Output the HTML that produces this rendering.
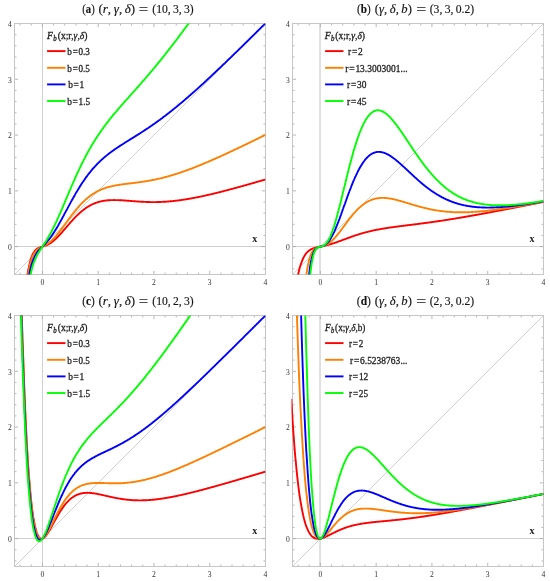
<!DOCTYPE html>
<html><head><meta charset="utf-8"><style>
html,body{margin:0;padding:0;background:#fff;}
svg{display:block;}
text{font-family:"Liberation Serif","DejaVu Serif",serif;fill:#222;}
.tl{font-size:7.6px;fill:#333;}
.tt{font-size:11.6px;fill:#151515;stroke:#151515;stroke-width:0.15px;}
.tb{font-weight:bold;}
.teq{font-size:14px;}
.lt{font-size:10.0px;stroke:#222;stroke-width:0.3px;}
.lg{font-size:9.5px;stroke:#222;stroke-width:0.28px;}
.xl{font-size:10px;font-weight:bold;}
</style></head><body>
<svg width="550" height="581" viewBox="0 0 550 581">
<rect width="550" height="581" fill="#fff"/>
<clipPath id="c0"><rect x="13.50" y="23.50" width="252.00" height="251.00"/></clipPath>
<line x1="14.50" y1="274.50" x2="265.50" y2="23.50" stroke="#d2d2d2" stroke-width="1.0"/>
<line x1="14.50" y1="246.50" x2="265.50" y2="246.50" stroke="#d0d0d0" stroke-width="1.0"/>
<line x1="42.50" y1="23.50" x2="42.50" y2="274.50" stroke="#d0d0d0" stroke-width="1.0"/>
<path d="M20.08,274.50v-2.00M20.08,23.50v2.00M14.50,268.92h2.00M265.50,268.92h-2.00M31.23,274.50v-2.00M31.23,23.50v2.00M14.50,257.77h2.00M265.50,257.77h-2.00M42.39,274.50v-3.60M42.39,23.50v3.60M14.50,246.61h3.60M265.50,246.61h-3.60M53.54,274.50v-2.00M53.54,23.50v2.00M14.50,235.46h2.00M265.50,235.46h-2.00M64.70,274.50v-2.00M64.70,23.50v2.00M14.50,224.30h2.00M265.50,224.30h-2.00M75.86,274.50v-2.00M75.86,23.50v2.00M14.50,213.14h2.00M265.50,213.14h-2.00M87.01,274.50v-2.00M87.01,23.50v2.00M14.50,201.99h2.00M265.50,201.99h-2.00M98.17,274.50v-3.60M98.17,23.50v3.60M14.50,190.83h3.60M265.50,190.83h-3.60M109.32,274.50v-2.00M109.32,23.50v2.00M14.50,179.68h2.00M265.50,179.68h-2.00M120.48,274.50v-2.00M120.48,23.50v2.00M14.50,168.52h2.00M265.50,168.52h-2.00M131.63,274.50v-2.00M131.63,23.50v2.00M14.50,157.37h2.00M265.50,157.37h-2.00M142.79,274.50v-2.00M142.79,23.50v2.00M14.50,146.21h2.00M265.50,146.21h-2.00M153.94,274.50v-3.60M153.94,23.50v3.60M14.50,135.06h3.60M265.50,135.06h-3.60M165.10,274.50v-2.00M165.10,23.50v2.00M14.50,123.90h2.00M265.50,123.90h-2.00M176.26,274.50v-2.00M176.26,23.50v2.00M14.50,112.74h2.00M265.50,112.74h-2.00M187.41,274.50v-2.00M187.41,23.50v2.00M14.50,101.59h2.00M265.50,101.59h-2.00M198.57,274.50v-2.00M198.57,23.50v2.00M14.50,90.43h2.00M265.50,90.43h-2.00M209.72,274.50v-3.60M209.72,23.50v3.60M14.50,79.28h3.60M265.50,79.28h-3.60M220.88,274.50v-2.00M220.88,23.50v2.00M14.50,68.12h2.00M265.50,68.12h-2.00M232.03,274.50v-2.00M232.03,23.50v2.00M14.50,56.97h2.00M265.50,56.97h-2.00M243.19,274.50v-2.00M243.19,23.50v2.00M14.50,45.81h2.00M265.50,45.81h-2.00M254.34,274.50v-2.00M254.34,23.50v2.00M14.50,34.66h2.00M265.50,34.66h-2.00M265.50,274.50v-3.60M265.50,23.50v3.60M14.50,23.50h3.60M265.50,23.50h-3.60" stroke="#a4a4a4" stroke-width="0.8" fill="none"/>
<rect x="14.50" y="23.50" width="251.00" height="251.00" fill="none" stroke="#c6c6c6" stroke-width="1.0"/>
<text x="42.39" y="285.10" class="tl" text-anchor="middle">0</text>
<text x="11.70" y="249.86" class="tl" text-anchor="end">0</text>
<text x="98.17" y="285.10" class="tl" text-anchor="middle">1</text>
<text x="11.70" y="194.08" class="tl" text-anchor="end">1</text>
<text x="153.94" y="285.10" class="tl" text-anchor="middle">2</text>
<text x="11.70" y="138.31" class="tl" text-anchor="end">2</text>
<text x="209.72" y="285.10" class="tl" text-anchor="middle">3</text>
<text x="11.70" y="82.53" class="tl" text-anchor="end">3</text>
<text x="265.50" y="285.10" class="tl" text-anchor="middle">4</text>
<text x="11.70" y="26.75" class="tl" text-anchor="end">4</text>
<g clip-path="url(#c0)" fill="none" stroke-width="1.9" stroke-linejoin="round">
<path d="M13.3,291.2 L13.7,291.2 L14.1,291.2 L14.5,291.2 L14.9,291.2 L15.3,291.2 L15.7,291.2 L16.1,291.2 L16.5,291.2 L16.9,291.2 L17.3,291.2 L17.8,291.2 L18.2,291.2 L18.6,291.2 L19.0,291.2 L19.4,291.2 L19.8,291.2 L20.2,291.2 L20.6,291.2 L21.0,291.2 L21.4,291.2 L21.8,291.2 L22.2,291.2 L22.6,291.2 L23.1,291.2 L23.5,291.2 L23.9,291.2 L24.3,291.2 L24.7,291.2 L25.1,291.2 L25.5,290.1 L25.9,286.5 L26.3,283.1 L26.7,280.0 L27.1,277.2 L27.5,274.5 L27.9,272.0 L28.3,269.7 L28.8,267.7 L29.2,265.7 L29.6,263.9 L30.0,262.3 L30.4,260.8 L30.8,259.4 L31.2,258.2 L31.6,257.0 L32.0,256.0 L32.4,255.0 L32.8,254.2 L33.2,253.4 L33.6,252.7 L34.1,252.0 L34.5,251.4 L34.9,250.9 L35.3,250.4 L35.7,250.0 L36.1,249.6 L36.5,249.3 L36.9,249.0 L37.3,248.7 L37.7,248.4 L38.1,248.2 L38.5,248.0 L38.9,247.8 L39.4,247.6 L39.8,247.5 L40.2,247.3 L40.6,247.2 L41.0,247.0 L41.4,246.9 L41.8,246.8 L42.2,246.7 L42.6,246.5 L43.0,246.4 L43.4,246.3 L43.8,246.2 L44.2,246.0 L44.6,245.9 L45.1,245.8 L45.5,245.6 L45.9,245.5 L46.3,245.3 L46.7,245.1 L47.1,244.9 L47.5,244.8 L47.9,244.6 L48.3,244.3 L48.7,244.1 L49.1,243.9 L49.5,243.7 L49.9,243.4 L50.4,243.2 L50.8,242.9 L51.2,242.6 L51.6,242.3 L52.0,242.0 L52.4,241.7 L52.8,241.4 L53.2,241.1 L53.6,240.8 L54.0,240.4 L54.4,240.1 L54.8,239.7 L55.2,239.3 L55.7,239.0 L56.1,238.6 L56.5,238.2 L56.9,237.8 L57.3,237.4 L57.7,237.0 L58.1,236.5 L58.5,236.1 L58.9,235.7 L59.3,235.3 L59.7,234.8 L60.1,234.4 L60.5,233.9 L60.9,233.5 L61.4,233.0 L61.8,232.6 L62.2,232.1 L62.6,231.6 L63.0,231.2 L63.4,230.7 L63.8,230.2 L64.2,229.7 L64.6,229.3 L65.0,228.8 L65.4,228.3 L65.8,227.8 L66.2,227.4 L66.7,226.9 L67.1,226.4 L67.5,225.9 L67.9,225.5 L68.3,225.0 L68.7,224.5 L69.1,224.0 L69.5,223.6 L69.9,223.1 L70.3,222.6 L70.7,222.2 L71.1,221.7 L71.5,221.3 L71.9,220.8 L72.4,220.4 L72.8,219.9 L73.2,219.5 L73.6,219.0 L74.0,218.6 L74.4,218.2 L74.8,217.7 L75.2,217.3 L75.6,216.9 L76.0,216.5 L76.4,216.1 L76.8,215.7 L77.2,215.3 L77.7,214.9 L78.1,214.5 L78.5,214.1 L78.9,213.7 L79.3,213.4 L79.7,213.0 L80.1,212.6 L80.5,212.3 L80.9,211.9 L81.3,211.6 L81.7,211.2 L82.1,210.9 L82.5,210.6 L83.0,210.2 L83.4,209.9 L83.8,209.6 L84.2,209.3 L84.6,209.0 L85.0,208.7 L85.4,208.4 L85.8,208.1 L86.2,207.8 L86.6,207.6 L87.0,207.3 L87.4,207.0 L87.8,206.8 L88.2,206.5 L88.7,206.3 L89.1,206.1 L89.5,205.8 L89.9,205.6 L90.3,205.4 L90.7,205.2 L91.1,204.9 L91.5,204.7 L91.9,204.5 L92.3,204.3 L92.7,204.2 L93.1,204.0 L93.5,203.8 L94.0,203.6 L94.4,203.5 L94.8,203.3 L95.2,203.1 L95.6,203.0 L96.0,202.8 L96.4,202.7 L96.8,202.5 L97.2,202.4 L97.6,202.3 L98.0,202.1 L98.4,202.0 L98.8,201.9 L99.3,201.8 L99.7,201.7 L100.1,201.6 L100.5,201.5 L100.9,201.4 L101.3,201.3 L101.7,201.2 L102.1,201.1 L102.5,201.0 L102.9,201.0 L103.3,200.9 L103.7,200.8 L104.1,200.8 L104.5,200.7 L105.0,200.6 L105.4,200.6 L105.8,200.5 L106.2,200.5 L106.6,200.4 L107.0,200.4 L107.4,200.3 L107.8,200.3 L108.2,200.3 L108.6,200.2 L109.0,200.2 L109.4,200.2 L109.8,200.2 L110.3,200.1 L110.7,200.1 L111.1,200.1 L111.5,200.1 L111.9,200.1 L112.3,200.1 L112.7,200.1 L113.1,200.1 L113.5,200.1 L113.9,200.0 L114.3,200.0 L114.7,200.1 L115.1,200.1 L115.5,200.1 L116.0,200.1 L116.4,200.1 L116.8,200.1 L117.2,200.1 L117.6,200.1 L118.0,200.1 L118.4,200.1 L118.8,200.2 L119.2,200.2 L119.6,200.2 L120.0,200.2 L120.4,200.2 L120.8,200.3 L121.3,200.3 L121.7,200.3 L122.1,200.3 L122.5,200.3 L122.9,200.4 L123.3,200.4 L123.7,200.4 L124.1,200.5 L124.5,200.5 L124.9,200.5 L125.3,200.5 L125.7,200.6 L126.1,200.6 L126.6,200.6 L127.0,200.7 L127.4,200.7 L127.8,200.7 L128.2,200.8 L128.6,200.8 L129.0,200.8 L129.4,200.9 L129.8,200.9 L130.2,200.9 L130.6,201.0 L131.0,201.0 L131.4,201.0 L131.8,201.1 L132.3,201.1 L132.7,201.1 L133.1,201.1 L133.5,201.2 L133.9,201.2 L134.3,201.2 L134.7,201.3 L135.1,201.3 L135.5,201.3 L135.9,201.4 L136.3,201.4 L136.7,201.4 L137.1,201.5 L137.6,201.5 L138.0,201.5 L138.4,201.5 L138.8,201.6 L139.2,201.6 L139.6,201.6 L140.0,201.6 L140.4,201.7 L140.8,201.7 L141.2,201.7 L141.6,201.7 L142.0,201.8 L142.4,201.8 L142.8,201.8 L143.3,201.8 L143.7,201.8 L144.1,201.9 L144.5,201.9 L144.9,201.9 L145.3,201.9 L145.7,201.9 L146.1,201.9 L146.5,202.0 L146.9,202.0 L147.3,202.0 L147.7,202.0 L148.1,202.0 L148.6,202.0 L149.0,202.0 L149.4,202.0 L149.8,202.0 L150.2,202.1 L150.6,202.1 L151.0,202.1 L151.4,202.1 L151.8,202.1 L152.2,202.1 L152.6,202.1 L153.0,202.1 L153.4,202.1 L153.9,202.1 L154.3,202.1 L154.7,202.1 L155.1,202.1 L155.5,202.1 L155.9,202.1 L156.3,202.1 L156.7,202.1 L157.1,202.0 L157.5,202.0 L157.9,202.0 L158.3,202.0 L158.7,202.0 L159.1,202.0 L159.6,202.0 L160.0,202.0 L160.4,202.0 L160.8,201.9 L161.2,201.9 L161.6,201.9 L162.0,201.9 L162.4,201.9 L162.8,201.8 L163.2,201.8 L163.6,201.8 L164.0,201.8 L164.4,201.8 L164.9,201.7 L165.3,201.7 L165.7,201.7 L166.1,201.7 L166.5,201.6 L166.9,201.6 L167.3,201.6 L167.7,201.5 L168.1,201.5 L168.5,201.5 L168.9,201.4 L169.3,201.4 L169.7,201.4 L170.2,201.3 L170.6,201.3 L171.0,201.3 L171.4,201.2 L171.8,201.2 L172.2,201.1 L172.6,201.1 L173.0,201.1 L173.4,201.0 L173.8,201.0 L174.2,200.9 L174.6,200.9 L175.0,200.8 L175.4,200.8 L175.9,200.7 L176.3,200.7 L176.7,200.6 L177.1,200.6 L177.5,200.5 L177.9,200.5 L178.3,200.4 L178.7,200.4 L179.1,200.3 L179.5,200.3 L179.9,200.2 L180.3,200.2 L180.7,200.1 L181.2,200.1 L181.6,200.0 L182.0,199.9 L182.4,199.9 L182.8,199.8 L183.2,199.8 L183.6,199.7 L184.0,199.6 L184.4,199.6 L184.8,199.5 L185.2,199.4 L185.6,199.4 L186.0,199.3 L186.4,199.2 L186.9,199.2 L187.3,199.1 L187.7,199.0 L188.1,199.0 L188.5,198.9 L188.9,198.8 L189.3,198.8 L189.7,198.7 L190.1,198.6 L190.5,198.5 L190.9,198.5 L191.3,198.4 L191.7,198.3 L192.2,198.3 L192.6,198.2 L193.0,198.1 L193.4,198.0 L193.8,197.9 L194.2,197.9 L194.6,197.8 L195.0,197.7 L195.4,197.6 L195.8,197.6 L196.2,197.5 L196.6,197.4 L197.0,197.3 L197.5,197.2 L197.9,197.1 L198.3,197.1 L198.7,197.0 L199.1,196.9 L199.5,196.8 L199.9,196.7 L200.3,196.6 L200.7,196.6 L201.1,196.5 L201.5,196.4 L201.9,196.3 L202.3,196.2 L202.7,196.1 L203.2,196.0 L203.6,195.9 L204.0,195.9 L204.4,195.8 L204.8,195.7 L205.2,195.6 L205.6,195.5 L206.0,195.4 L206.4,195.3 L206.8,195.2 L207.2,195.1 L207.6,195.0 L208.0,194.9 L208.5,194.8 L208.9,194.8 L209.3,194.7 L209.7,194.6 L210.1,194.5 L210.5,194.4 L210.9,194.3 L211.3,194.2 L211.7,194.1 L212.1,194.0 L212.5,193.9 L212.9,193.8 L213.3,193.7 L213.8,193.6 L214.2,193.5 L214.6,193.4 L215.0,193.3 L215.4,193.2 L215.8,193.1 L216.2,193.0 L216.6,192.9 L217.0,192.8 L217.4,192.7 L217.8,192.6 L218.2,192.5 L218.6,192.4 L219.0,192.3 L219.5,192.2 L219.9,192.1 L220.3,192.0 L220.7,191.9 L221.1,191.8 L221.5,191.7 L221.9,191.6 L222.3,191.5 L222.7,191.4 L223.1,191.3 L223.5,191.1 L223.9,191.0 L224.3,190.9 L224.8,190.8 L225.2,190.7 L225.6,190.6 L226.0,190.5 L226.4,190.4 L226.8,190.3 L227.2,190.2 L227.6,190.1 L228.0,190.0 L228.4,189.9 L228.8,189.8 L229.2,189.7 L229.6,189.5 L230.0,189.4 L230.5,189.3 L230.9,189.2 L231.3,189.1 L231.7,189.0 L232.1,188.9 L232.5,188.8 L232.9,188.7 L233.3,188.6 L233.7,188.4 L234.1,188.3 L234.5,188.2 L234.9,188.1 L235.3,188.0 L235.8,187.9 L236.2,187.8 L236.6,187.7 L237.0,187.6 L237.4,187.4 L237.8,187.3 L238.2,187.2 L238.6,187.1 L239.0,187.0 L239.4,186.9 L239.8,186.8 L240.2,186.7 L240.6,186.5 L241.1,186.4 L241.5,186.3 L241.9,186.2 L242.3,186.1 L242.7,186.0 L243.1,185.9 L243.5,185.8 L243.9,185.6 L244.3,185.5 L244.7,185.4 L245.1,185.3 L245.5,185.2 L245.9,185.1 L246.3,185.0 L246.8,184.8 L247.2,184.7 L247.6,184.6 L248.0,184.5 L248.4,184.4 L248.8,184.3 L249.2,184.1 L249.6,184.0 L250.0,183.9 L250.4,183.8 L250.8,183.7 L251.2,183.6 L251.6,183.5 L252.1,183.3 L252.5,183.2 L252.9,183.1 L253.3,183.0 L253.7,182.9 L254.1,182.8 L254.5,182.6 L254.9,182.5 L255.3,182.4 L255.7,182.3 L256.1,182.2 L256.5,182.1 L256.9,181.9 L257.4,181.8 L257.8,181.7 L258.2,181.6 L258.6,181.5 L259.0,181.3 L259.4,181.2 L259.8,181.1 L260.2,181.0 L260.6,180.9 L261.0,180.8 L261.4,180.6 L261.8,180.5 L262.2,180.4 L262.6,180.3 L263.1,180.2 L263.5,180.1 L263.9,179.9 L264.3,179.8 L264.7,179.7 L265.1,179.6 L265.5,179.5" stroke="#ff0000"/>
<path d="M13.3,291.2 L13.7,291.2 L14.1,291.2 L14.5,291.2 L14.9,291.2 L15.3,291.2 L15.7,291.2 L16.1,291.2 L16.5,291.2 L16.9,291.2 L17.3,291.2 L17.8,291.2 L18.2,291.2 L18.6,291.2 L19.0,291.2 L19.4,291.2 L19.8,291.2 L20.2,291.2 L20.6,291.2 L21.0,291.2 L21.4,291.2 L21.8,291.2 L22.2,291.2 L22.6,291.2 L23.1,291.2 L23.5,291.2 L23.9,291.2 L24.3,291.2 L24.7,291.2 L25.1,291.2 L25.5,291.2 L25.9,289.8 L26.3,286.4 L26.7,283.2 L27.1,280.2 L27.5,277.5 L27.9,274.9 L28.3,272.6 L28.8,270.4 L29.2,268.4 L29.6,266.5 L30.0,264.8 L30.4,263.2 L30.8,261.8 L31.2,260.4 L31.6,259.2 L32.0,258.1 L32.4,257.0 L32.8,256.1 L33.2,255.2 L33.6,254.4 L34.1,253.7 L34.5,253.0 L34.9,252.4 L35.3,251.9 L35.7,251.4 L36.1,250.9 L36.5,250.5 L36.9,250.1 L37.3,249.7 L37.7,249.4 L38.1,249.1 L38.5,248.8 L38.9,248.5 L39.4,248.2 L39.8,248.0 L40.2,247.8 L40.6,247.5 L41.0,247.3 L41.4,247.1 L41.8,246.9 L42.2,246.7 L42.6,246.5 L43.0,246.3 L43.4,246.1 L43.8,245.9 L44.2,245.7 L44.6,245.4 L45.1,245.2 L45.5,245.0 L45.9,244.8 L46.3,244.5 L46.7,244.3 L47.1,244.0 L47.5,243.7 L47.9,243.4 L48.3,243.2 L48.7,242.9 L49.1,242.6 L49.5,242.2 L49.9,241.9 L50.4,241.6 L50.8,241.2 L51.2,240.9 L51.6,240.5 L52.0,240.1 L52.4,239.7 L52.8,239.3 L53.2,238.9 L53.6,238.5 L54.0,238.1 L54.4,237.7 L54.8,237.2 L55.2,236.8 L55.7,236.3 L56.1,235.8 L56.5,235.4 L56.9,234.9 L57.3,234.4 L57.7,233.9 L58.1,233.4 L58.5,232.9 L58.9,232.4 L59.3,231.9 L59.7,231.4 L60.1,230.8 L60.5,230.3 L60.9,229.8 L61.4,229.2 L61.8,228.7 L62.2,228.1 L62.6,227.6 L63.0,227.0 L63.4,226.5 L63.8,225.9 L64.2,225.4 L64.6,224.8 L65.0,224.3 L65.4,223.7 L65.8,223.1 L66.2,222.6 L66.7,222.0 L67.1,221.5 L67.5,220.9 L67.9,220.4 L68.3,219.8 L68.7,219.2 L69.1,218.7 L69.5,218.1 L69.9,217.6 L70.3,217.1 L70.7,216.5 L71.1,216.0 L71.5,215.4 L71.9,214.9 L72.4,214.4 L72.8,213.8 L73.2,213.3 L73.6,212.8 L74.0,212.3 L74.4,211.8 L74.8,211.3 L75.2,210.8 L75.6,210.3 L76.0,209.8 L76.4,209.3 L76.8,208.8 L77.2,208.3 L77.7,207.8 L78.1,207.4 L78.5,206.9 L78.9,206.4 L79.3,206.0 L79.7,205.5 L80.1,205.1 L80.5,204.6 L80.9,204.2 L81.3,203.8 L81.7,203.4 L82.1,202.9 L82.5,202.5 L83.0,202.1 L83.4,201.7 L83.8,201.3 L84.2,200.9 L84.6,200.6 L85.0,200.2 L85.4,199.8 L85.8,199.4 L86.2,199.1 L86.6,198.7 L87.0,198.4 L87.4,198.0 L87.8,197.7 L88.2,197.4 L88.7,197.0 L89.1,196.7 L89.5,196.4 L89.9,196.1 L90.3,195.8 L90.7,195.5 L91.1,195.2 L91.5,194.9 L91.9,194.6 L92.3,194.4 L92.7,194.1 L93.1,193.8 L93.5,193.6 L94.0,193.3 L94.4,193.1 L94.8,192.8 L95.2,192.6 L95.6,192.3 L96.0,192.1 L96.4,191.9 L96.8,191.7 L97.2,191.4 L97.6,191.2 L98.0,191.0 L98.4,190.8 L98.8,190.6 L99.3,190.4 L99.7,190.2 L100.1,190.1 L100.5,189.9 L100.9,189.7 L101.3,189.5 L101.7,189.3 L102.1,189.2 L102.5,189.0 L102.9,188.9 L103.3,188.7 L103.7,188.6 L104.1,188.4 L104.5,188.3 L105.0,188.1 L105.4,188.0 L105.8,187.9 L106.2,187.7 L106.6,187.6 L107.0,187.5 L107.4,187.3 L107.8,187.2 L108.2,187.1 L108.6,187.0 L109.0,186.9 L109.4,186.8 L109.8,186.7 L110.3,186.6 L110.7,186.5 L111.1,186.4 L111.5,186.3 L111.9,186.2 L112.3,186.1 L112.7,186.0 L113.1,185.9 L113.5,185.8 L113.9,185.7 L114.3,185.7 L114.7,185.6 L115.1,185.5 L115.5,185.4 L116.0,185.4 L116.4,185.3 L116.8,185.2 L117.2,185.1 L117.6,185.1 L118.0,185.0 L118.4,184.9 L118.8,184.9 L119.2,184.8 L119.6,184.7 L120.0,184.7 L120.4,184.6 L120.8,184.6 L121.3,184.5 L121.7,184.4 L122.1,184.4 L122.5,184.3 L122.9,184.3 L123.3,184.2 L123.7,184.2 L124.1,184.1 L124.5,184.1 L124.9,184.0 L125.3,184.0 L125.7,183.9 L126.1,183.9 L126.6,183.8 L127.0,183.8 L127.4,183.7 L127.8,183.7 L128.2,183.6 L128.6,183.6 L129.0,183.5 L129.4,183.5 L129.8,183.4 L130.2,183.4 L130.6,183.3 L131.0,183.3 L131.4,183.2 L131.8,183.2 L132.3,183.1 L132.7,183.1 L133.1,183.0 L133.5,183.0 L133.9,182.9 L134.3,182.9 L134.7,182.8 L135.1,182.8 L135.5,182.7 L135.9,182.7 L136.3,182.6 L136.7,182.6 L137.1,182.5 L137.6,182.4 L138.0,182.4 L138.4,182.3 L138.8,182.3 L139.2,182.2 L139.6,182.2 L140.0,182.1 L140.4,182.1 L140.8,182.0 L141.2,181.9 L141.6,181.9 L142.0,181.8 L142.4,181.8 L142.8,181.7 L143.3,181.6 L143.7,181.6 L144.1,181.5 L144.5,181.5 L144.9,181.4 L145.3,181.3 L145.7,181.3 L146.1,181.2 L146.5,181.1 L146.9,181.1 L147.3,181.0 L147.7,180.9 L148.1,180.9 L148.6,180.8 L149.0,180.7 L149.4,180.6 L149.8,180.6 L150.2,180.5 L150.6,180.4 L151.0,180.3 L151.4,180.3 L151.8,180.2 L152.2,180.1 L152.6,180.0 L153.0,180.0 L153.4,179.9 L153.9,179.8 L154.3,179.7 L154.7,179.6 L155.1,179.5 L155.5,179.5 L155.9,179.4 L156.3,179.3 L156.7,179.2 L157.1,179.1 L157.5,179.0 L157.9,178.9 L158.3,178.8 L158.7,178.7 L159.1,178.6 L159.6,178.6 L160.0,178.5 L160.4,178.4 L160.8,178.3 L161.2,178.2 L161.6,178.1 L162.0,178.0 L162.4,177.9 L162.8,177.8 L163.2,177.7 L163.6,177.6 L164.0,177.5 L164.4,177.3 L164.9,177.2 L165.3,177.1 L165.7,177.0 L166.1,176.9 L166.5,176.8 L166.9,176.7 L167.3,176.6 L167.7,176.5 L168.1,176.4 L168.5,176.2 L168.9,176.1 L169.3,176.0 L169.7,175.9 L170.2,175.8 L170.6,175.7 L171.0,175.5 L171.4,175.4 L171.8,175.3 L172.2,175.2 L172.6,175.1 L173.0,174.9 L173.4,174.8 L173.8,174.7 L174.2,174.6 L174.6,174.4 L175.0,174.3 L175.4,174.2 L175.9,174.0 L176.3,173.9 L176.7,173.8 L177.1,173.7 L177.5,173.5 L177.9,173.4 L178.3,173.3 L178.7,173.1 L179.1,173.0 L179.5,172.9 L179.9,172.7 L180.3,172.6 L180.7,172.4 L181.2,172.3 L181.6,172.2 L182.0,172.0 L182.4,171.9 L182.8,171.7 L183.2,171.6 L183.6,171.5 L184.0,171.3 L184.4,171.2 L184.8,171.0 L185.2,170.9 L185.6,170.7 L186.0,170.6 L186.4,170.4 L186.9,170.3 L187.3,170.1 L187.7,170.0 L188.1,169.8 L188.5,169.7 L188.9,169.5 L189.3,169.4 L189.7,169.2 L190.1,169.1 L190.5,168.9 L190.9,168.8 L191.3,168.6 L191.7,168.5 L192.2,168.3 L192.6,168.1 L193.0,168.0 L193.4,167.8 L193.8,167.7 L194.2,167.5 L194.6,167.4 L195.0,167.2 L195.4,167.0 L195.8,166.9 L196.2,166.7 L196.6,166.5 L197.0,166.4 L197.5,166.2 L197.9,166.1 L198.3,165.9 L198.7,165.7 L199.1,165.6 L199.5,165.4 L199.9,165.2 L200.3,165.1 L200.7,164.9 L201.1,164.7 L201.5,164.6 L201.9,164.4 L202.3,164.2 L202.7,164.1 L203.2,163.9 L203.6,163.7 L204.0,163.5 L204.4,163.4 L204.8,163.2 L205.2,163.0 L205.6,162.9 L206.0,162.7 L206.4,162.5 L206.8,162.3 L207.2,162.2 L207.6,162.0 L208.0,161.8 L208.5,161.6 L208.9,161.5 L209.3,161.3 L209.7,161.1 L210.1,160.9 L210.5,160.8 L210.9,160.6 L211.3,160.4 L211.7,160.2 L212.1,160.0 L212.5,159.9 L212.9,159.7 L213.3,159.5 L213.8,159.3 L214.2,159.1 L214.6,159.0 L215.0,158.8 L215.4,158.6 L215.8,158.4 L216.2,158.2 L216.6,158.1 L217.0,157.9 L217.4,157.7 L217.8,157.5 L218.2,157.3 L218.6,157.1 L219.0,157.0 L219.5,156.8 L219.9,156.6 L220.3,156.4 L220.7,156.2 L221.1,156.0 L221.5,155.8 L221.9,155.7 L222.3,155.5 L222.7,155.3 L223.1,155.1 L223.5,154.9 L223.9,154.7 L224.3,154.5 L224.8,154.4 L225.2,154.2 L225.6,154.0 L226.0,153.8 L226.4,153.6 L226.8,153.4 L227.2,153.2 L227.6,153.0 L228.0,152.9 L228.4,152.7 L228.8,152.5 L229.2,152.3 L229.6,152.1 L230.0,151.9 L230.5,151.7 L230.9,151.5 L231.3,151.3 L231.7,151.1 L232.1,150.9 L232.5,150.8 L232.9,150.6 L233.3,150.4 L233.7,150.2 L234.1,150.0 L234.5,149.8 L234.9,149.6 L235.3,149.4 L235.8,149.2 L236.2,149.0 L236.6,148.8 L237.0,148.6 L237.4,148.4 L237.8,148.3 L238.2,148.1 L238.6,147.9 L239.0,147.7 L239.4,147.5 L239.8,147.3 L240.2,147.1 L240.6,146.9 L241.1,146.7 L241.5,146.5 L241.9,146.3 L242.3,146.1 L242.7,145.9 L243.1,145.7 L243.5,145.5 L243.9,145.3 L244.3,145.1 L244.7,144.9 L245.1,144.8 L245.5,144.6 L245.9,144.4 L246.3,144.2 L246.8,144.0 L247.2,143.8 L247.6,143.6 L248.0,143.4 L248.4,143.2 L248.8,143.0 L249.2,142.8 L249.6,142.6 L250.0,142.4 L250.4,142.2 L250.8,142.0 L251.2,141.8 L251.6,141.6 L252.1,141.4 L252.5,141.2 L252.9,141.0 L253.3,140.8 L253.7,140.6 L254.1,140.4 L254.5,140.2 L254.9,140.0 L255.3,139.8 L255.7,139.6 L256.1,139.4 L256.5,139.2 L256.9,139.0 L257.4,138.8 L257.8,138.6 L258.2,138.4 L258.6,138.2 L259.0,138.0 L259.4,137.8 L259.8,137.6 L260.2,137.4 L260.6,137.2 L261.0,137.0 L261.4,136.8 L261.8,136.6 L262.2,136.4 L262.6,136.2 L263.1,136.0 L263.5,135.8 L263.9,135.6 L264.3,135.4 L264.7,135.2 L265.1,135.0 L265.5,134.8" stroke="#ff8000"/>
<path d="M13.3,291.2 L13.7,291.2 L14.1,291.2 L14.5,291.2 L14.9,291.2 L15.3,291.2 L15.7,291.2 L16.1,291.2 L16.5,291.2 L16.9,291.2 L17.3,291.2 L17.8,291.2 L18.2,291.2 L18.6,291.2 L19.0,291.2 L19.4,291.2 L19.8,291.2 L20.2,291.2 L20.6,291.2 L21.0,291.2 L21.4,291.2 L21.8,291.2 L22.2,291.2 L22.6,291.2 L23.1,291.2 L23.5,291.2 L23.9,291.2 L24.3,291.2 L24.7,291.2 L25.1,291.2 L25.5,291.2 L25.9,291.2 L26.3,291.2 L26.7,291.0 L27.1,287.8 L27.5,284.9 L27.9,282.1 L28.3,279.6 L28.8,277.2 L29.2,275.0 L29.6,272.9 L30.0,271.0 L30.4,269.2 L30.8,267.6 L31.2,266.0 L31.6,264.6 L32.0,263.2 L32.4,262.0 L32.8,260.9 L33.2,259.8 L33.6,258.8 L34.1,257.9 L34.5,257.0 L34.9,256.2 L35.3,255.4 L35.7,254.7 L36.1,254.0 L36.5,253.4 L36.9,252.8 L37.3,252.2 L37.7,251.7 L38.1,251.2 L38.5,250.7 L38.9,250.2 L39.4,249.8 L39.8,249.3 L40.2,248.9 L40.6,248.4 L41.0,248.0 L41.4,247.6 L41.8,247.2 L42.2,246.8 L42.6,246.4 L43.0,246.0 L43.4,245.6 L43.8,245.2 L44.2,244.7 L44.6,244.3 L45.1,243.9 L45.5,243.5 L45.9,243.0 L46.3,242.6 L46.7,242.1 L47.1,241.6 L47.5,241.2 L47.9,240.7 L48.3,240.2 L48.7,239.7 L49.1,239.2 L49.5,238.7 L49.9,238.1 L50.4,237.6 L50.8,237.0 L51.2,236.5 L51.6,235.9 L52.0,235.3 L52.4,234.7 L52.8,234.1 L53.2,233.5 L53.6,232.9 L54.0,232.3 L54.4,231.6 L54.8,231.0 L55.2,230.3 L55.7,229.7 L56.1,229.0 L56.5,228.3 L56.9,227.6 L57.3,227.0 L57.7,226.3 L58.1,225.6 L58.5,224.8 L58.9,224.1 L59.3,223.4 L59.7,222.7 L60.1,222.0 L60.5,221.2 L60.9,220.5 L61.4,219.7 L61.8,219.0 L62.2,218.2 L62.6,217.5 L63.0,216.7 L63.4,216.0 L63.8,215.2 L64.2,214.5 L64.6,213.7 L65.0,212.9 L65.4,212.2 L65.8,211.4 L66.2,210.7 L66.7,209.9 L67.1,209.1 L67.5,208.4 L67.9,207.6 L68.3,206.9 L68.7,206.1 L69.1,205.3 L69.5,204.6 L69.9,203.8 L70.3,203.1 L70.7,202.3 L71.1,201.6 L71.5,200.9 L71.9,200.1 L72.4,199.4 L72.8,198.7 L73.2,197.9 L73.6,197.2 L74.0,196.5 L74.4,195.8 L74.8,195.1 L75.2,194.3 L75.6,193.6 L76.0,192.9 L76.4,192.2 L76.8,191.6 L77.2,190.9 L77.7,190.2 L78.1,189.5 L78.5,188.8 L78.9,188.2 L79.3,187.5 L79.7,186.9 L80.1,186.2 L80.5,185.6 L80.9,184.9 L81.3,184.3 L81.7,183.7 L82.1,183.1 L82.5,182.4 L83.0,181.8 L83.4,181.2 L83.8,180.6 L84.2,180.0 L84.6,179.5 L85.0,178.9 L85.4,178.3 L85.8,177.7 L86.2,177.2 L86.6,176.6 L87.0,176.1 L87.4,175.5 L87.8,175.0 L88.2,174.4 L88.7,173.9 L89.1,173.4 L89.5,172.9 L89.9,172.4 L90.3,171.8 L90.7,171.3 L91.1,170.9 L91.5,170.4 L91.9,169.9 L92.3,169.4 L92.7,168.9 L93.1,168.4 L93.5,168.0 L94.0,167.5 L94.4,167.1 L94.8,166.6 L95.2,166.2 L95.6,165.7 L96.0,165.3 L96.4,164.9 L96.8,164.4 L97.2,164.0 L97.6,163.6 L98.0,163.2 L98.4,162.8 L98.8,162.4 L99.3,162.0 L99.7,161.6 L100.1,161.2 L100.5,160.8 L100.9,160.4 L101.3,160.1 L101.7,159.7 L102.1,159.3 L102.5,159.0 L102.9,158.6 L103.3,158.2 L103.7,157.9 L104.1,157.5 L104.5,157.2 L105.0,156.8 L105.4,156.5 L105.8,156.2 L106.2,155.8 L106.6,155.5 L107.0,155.2 L107.4,154.8 L107.8,154.5 L108.2,154.2 L108.6,153.9 L109.0,153.6 L109.4,153.3 L109.8,152.9 L110.3,152.6 L110.7,152.3 L111.1,152.0 L111.5,151.7 L111.9,151.4 L112.3,151.1 L112.7,150.8 L113.1,150.6 L113.5,150.3 L113.9,150.0 L114.3,149.7 L114.7,149.4 L115.1,149.1 L115.5,148.8 L116.0,148.6 L116.4,148.3 L116.8,148.0 L117.2,147.7 L117.6,147.5 L118.0,147.2 L118.4,146.9 L118.8,146.7 L119.2,146.4 L119.6,146.1 L120.0,145.9 L120.4,145.6 L120.8,145.3 L121.3,145.1 L121.7,144.8 L122.1,144.5 L122.5,144.3 L122.9,144.0 L123.3,143.8 L123.7,143.5 L124.1,143.3 L124.5,143.0 L124.9,142.7 L125.3,142.5 L125.7,142.2 L126.1,142.0 L126.6,141.7 L127.0,141.5 L127.4,141.2 L127.8,141.0 L128.2,140.7 L128.6,140.5 L129.0,140.2 L129.4,139.9 L129.8,139.7 L130.2,139.4 L130.6,139.2 L131.0,138.9 L131.4,138.7 L131.8,138.4 L132.3,138.2 L132.7,137.9 L133.1,137.7 L133.5,137.4 L133.9,137.2 L134.3,136.9 L134.7,136.7 L135.1,136.4 L135.5,136.1 L135.9,135.9 L136.3,135.6 L136.7,135.4 L137.1,135.1 L137.6,134.9 L138.0,134.6 L138.4,134.4 L138.8,134.1 L139.2,133.8 L139.6,133.6 L140.0,133.3 L140.4,133.1 L140.8,132.8 L141.2,132.5 L141.6,132.3 L142.0,132.0 L142.4,131.7 L142.8,131.5 L143.3,131.2 L143.7,130.9 L144.1,130.7 L144.5,130.4 L144.9,130.1 L145.3,129.9 L145.7,129.6 L146.1,129.3 L146.5,129.1 L146.9,128.8 L147.3,128.5 L147.7,128.3 L148.1,128.0 L148.6,127.7 L149.0,127.4 L149.4,127.2 L149.8,126.9 L150.2,126.6 L150.6,126.3 L151.0,126.0 L151.4,125.8 L151.8,125.5 L152.2,125.2 L152.6,124.9 L153.0,124.6 L153.4,124.3 L153.9,124.1 L154.3,123.8 L154.7,123.5 L155.1,123.2 L155.5,122.9 L155.9,122.6 L156.3,122.3 L156.7,122.0 L157.1,121.7 L157.5,121.4 L157.9,121.2 L158.3,120.9 L158.7,120.6 L159.1,120.3 L159.6,120.0 L160.0,119.7 L160.4,119.4 L160.8,119.1 L161.2,118.8 L161.6,118.5 L162.0,118.2 L162.4,117.9 L162.8,117.5 L163.2,117.2 L163.6,116.9 L164.0,116.6 L164.4,116.3 L164.9,116.0 L165.3,115.7 L165.7,115.4 L166.1,115.1 L166.5,114.8 L166.9,114.4 L167.3,114.1 L167.7,113.8 L168.1,113.5 L168.5,113.2 L168.9,112.9 L169.3,112.5 L169.7,112.2 L170.2,111.9 L170.6,111.6 L171.0,111.3 L171.4,110.9 L171.8,110.6 L172.2,110.3 L172.6,110.0 L173.0,109.6 L173.4,109.3 L173.8,109.0 L174.2,108.6 L174.6,108.3 L175.0,108.0 L175.4,107.6 L175.9,107.3 L176.3,107.0 L176.7,106.6 L177.1,106.3 L177.5,106.0 L177.9,105.6 L178.3,105.3 L178.7,105.0 L179.1,104.6 L179.5,104.3 L179.9,103.9 L180.3,103.6 L180.7,103.3 L181.2,102.9 L181.6,102.6 L182.0,102.2 L182.4,101.9 L182.8,101.5 L183.2,101.2 L183.6,100.9 L184.0,100.5 L184.4,100.2 L184.8,99.8 L185.2,99.5 L185.6,99.1 L186.0,98.8 L186.4,98.4 L186.9,98.1 L187.3,97.7 L187.7,97.3 L188.1,97.0 L188.5,96.6 L188.9,96.3 L189.3,95.9 L189.7,95.6 L190.1,95.2 L190.5,94.9 L190.9,94.5 L191.3,94.1 L191.7,93.8 L192.2,93.4 L192.6,93.1 L193.0,92.7 L193.4,92.3 L193.8,92.0 L194.2,91.6 L194.6,91.2 L195.0,90.9 L195.4,90.5 L195.8,90.2 L196.2,89.8 L196.6,89.4 L197.0,89.1 L197.5,88.7 L197.9,88.3 L198.3,88.0 L198.7,87.6 L199.1,87.2 L199.5,86.8 L199.9,86.5 L200.3,86.1 L200.7,85.7 L201.1,85.4 L201.5,85.0 L201.9,84.6 L202.3,84.2 L202.7,83.9 L203.2,83.5 L203.6,83.1 L204.0,82.7 L204.4,82.4 L204.8,82.0 L205.2,81.6 L205.6,81.2 L206.0,80.9 L206.4,80.5 L206.8,80.1 L207.2,79.7 L207.6,79.4 L208.0,79.0 L208.5,78.6 L208.9,78.2 L209.3,77.8 L209.7,77.5 L210.1,77.1 L210.5,76.7 L210.9,76.3 L211.3,75.9 L211.7,75.6 L212.1,75.2 L212.5,74.8 L212.9,74.4 L213.3,74.0 L213.8,73.6 L214.2,73.3 L214.6,72.9 L215.0,72.5 L215.4,72.1 L215.8,71.7 L216.2,71.3 L216.6,70.9 L217.0,70.6 L217.4,70.2 L217.8,69.8 L218.2,69.4 L218.6,69.0 L219.0,68.6 L219.5,68.2 L219.9,67.9 L220.3,67.5 L220.7,67.1 L221.1,66.7 L221.5,66.3 L221.9,65.9 L222.3,65.5 L222.7,65.1 L223.1,64.7 L223.5,64.3 L223.9,64.0 L224.3,63.6 L224.8,63.2 L225.2,62.8 L225.6,62.4 L226.0,62.0 L226.4,61.6 L226.8,61.2 L227.2,60.8 L227.6,60.4 L228.0,60.0 L228.4,59.6 L228.8,59.3 L229.2,58.9 L229.6,58.5 L230.0,58.1 L230.5,57.7 L230.9,57.3 L231.3,56.9 L231.7,56.5 L232.1,56.1 L232.5,55.7 L232.9,55.3 L233.3,54.9 L233.7,54.5 L234.1,54.1 L234.5,53.7 L234.9,53.3 L235.3,52.9 L235.8,52.5 L236.2,52.1 L236.6,51.7 L237.0,51.3 L237.4,51.0 L237.8,50.6 L238.2,50.2 L238.6,49.8 L239.0,49.4 L239.4,49.0 L239.8,48.6 L240.2,48.2 L240.6,47.8 L241.1,47.4 L241.5,47.0 L241.9,46.6 L242.3,46.2 L242.7,45.8 L243.1,45.4 L243.5,45.0 L243.9,44.6 L244.3,44.2 L244.7,43.8 L245.1,43.4 L245.5,43.0 L245.9,42.6 L246.3,42.2 L246.8,41.8 L247.2,41.4 L247.6,41.0 L248.0,40.6 L248.4,40.2 L248.8,39.8 L249.2,39.4 L249.6,39.0 L250.0,38.6 L250.4,38.2 L250.8,37.8 L251.2,37.4 L251.6,37.0 L252.1,36.6 L252.5,36.2 L252.9,35.8 L253.3,35.4 L253.7,35.0 L254.1,34.6 L254.5,34.2 L254.9,33.8 L255.3,33.4 L255.7,33.0 L256.1,32.6 L256.5,32.2 L256.9,31.7 L257.4,31.3 L257.8,30.9 L258.2,30.5 L258.6,30.1 L259.0,29.7 L259.4,29.3 L259.8,28.9 L260.2,28.5 L260.6,28.1 L261.0,27.7 L261.4,27.3 L261.8,26.9 L262.2,26.5 L262.6,26.1 L263.1,25.7 L263.5,25.3 L263.9,24.9 L264.3,24.5 L264.7,24.1 L265.1,23.7 L265.5,23.3" stroke="#0000ff"/>
<path d="M13.3,291.2 L13.7,291.2 L14.1,291.2 L14.5,291.2 L14.9,291.2 L15.3,291.2 L15.7,291.2 L16.1,291.2 L16.5,291.2 L16.9,291.2 L17.3,291.2 L17.8,291.2 L18.2,291.2 L18.6,291.2 L19.0,291.2 L19.4,291.2 L19.8,291.2 L20.2,291.2 L20.6,291.2 L21.0,291.2 L21.4,291.2 L21.8,291.2 L22.2,291.2 L22.6,291.2 L23.1,291.2 L23.5,291.2 L23.9,291.2 L24.3,291.2 L24.7,291.2 L25.1,291.2 L25.5,291.2 L25.9,291.2 L26.3,291.2 L26.7,291.2 L27.1,291.2 L27.5,291.2 L27.9,289.4 L28.3,286.6 L28.8,284.0 L29.2,281.6 L29.6,279.3 L30.0,277.2 L30.4,275.2 L30.8,273.3 L31.2,271.6 L31.6,270.0 L32.0,268.4 L32.4,267.0 L32.8,265.6 L33.2,264.4 L33.6,263.2 L34.1,262.0 L34.5,261.0 L34.9,259.9 L35.3,259.0 L35.7,258.1 L36.1,257.2 L36.5,256.3 L36.9,255.5 L37.3,254.8 L37.7,254.0 L38.1,253.3 L38.5,252.6 L38.9,251.9 L39.4,251.3 L39.8,250.6 L40.2,250.0 L40.6,249.4 L41.0,248.7 L41.4,248.1 L41.8,247.5 L42.2,246.9 L42.6,246.3 L43.0,245.7 L43.4,245.1 L43.8,244.4 L44.2,243.8 L44.6,243.2 L45.1,242.6 L45.5,241.9 L45.9,241.3 L46.3,240.6 L46.7,240.0 L47.1,239.3 L47.5,238.6 L47.9,237.9 L48.3,237.2 L48.7,236.5 L49.1,235.8 L49.5,235.1 L49.9,234.4 L50.4,233.6 L50.8,232.9 L51.2,232.1 L51.6,231.3 L52.0,230.5 L52.4,229.7 L52.8,228.9 L53.2,228.1 L53.6,227.3 L54.0,226.5 L54.4,225.6 L54.8,224.8 L55.2,223.9 L55.7,223.0 L56.1,222.2 L56.5,221.3 L56.9,220.4 L57.3,219.5 L57.7,218.6 L58.1,217.7 L58.5,216.8 L58.9,215.9 L59.3,214.9 L59.7,214.0 L60.1,213.1 L60.5,212.1 L60.9,211.2 L61.4,210.3 L61.8,209.3 L62.2,208.4 L62.6,207.4 L63.0,206.4 L63.4,205.5 L63.8,204.5 L64.2,203.6 L64.6,202.6 L65.0,201.6 L65.4,200.7 L65.8,199.7 L66.2,198.7 L66.7,197.8 L67.1,196.8 L67.5,195.8 L67.9,194.9 L68.3,193.9 L68.7,192.9 L69.1,192.0 L69.5,191.0 L69.9,190.1 L70.3,189.1 L70.7,188.2 L71.1,187.2 L71.5,186.3 L71.9,185.3 L72.4,184.4 L72.8,183.5 L73.2,182.5 L73.6,181.6 L74.0,180.7 L74.4,179.8 L74.8,178.8 L75.2,177.9 L75.6,177.0 L76.0,176.1 L76.4,175.2 L76.8,174.3 L77.2,173.4 L77.7,172.6 L78.1,171.7 L78.5,170.8 L78.9,169.9 L79.3,169.1 L79.7,168.2 L80.1,167.4 L80.5,166.5 L80.9,165.7 L81.3,164.8 L81.7,164.0 L82.1,163.2 L82.5,162.4 L83.0,161.6 L83.4,160.8 L83.8,159.9 L84.2,159.2 L84.6,158.4 L85.0,157.6 L85.4,156.8 L85.8,156.0 L86.2,155.3 L86.6,154.5 L87.0,153.7 L87.4,153.0 L87.8,152.2 L88.2,151.5 L88.7,150.8 L89.1,150.0 L89.5,149.3 L89.9,148.6 L90.3,147.9 L90.7,147.2 L91.1,146.5 L91.5,145.8 L91.9,145.1 L92.3,144.4 L92.7,143.7 L93.1,143.1 L93.5,142.4 L94.0,141.7 L94.4,141.1 L94.8,140.4 L95.2,139.8 L95.6,139.1 L96.0,138.5 L96.4,137.9 L96.8,137.2 L97.2,136.6 L97.6,136.0 L98.0,135.4 L98.4,134.8 L98.8,134.2 L99.3,133.6 L99.7,133.0 L100.1,132.4 L100.5,131.8 L100.9,131.2 L101.3,130.6 L101.7,130.0 L102.1,129.5 L102.5,128.9 L102.9,128.3 L103.3,127.8 L103.7,127.2 L104.1,126.7 L104.5,126.1 L105.0,125.6 L105.4,125.0 L105.8,124.5 L106.2,123.9 L106.6,123.4 L107.0,122.9 L107.4,122.3 L107.8,121.8 L108.2,121.3 L108.6,120.8 L109.0,120.2 L109.4,119.7 L109.8,119.2 L110.3,118.7 L110.7,118.2 L111.1,117.7 L111.5,117.2 L111.9,116.7 L112.3,116.2 L112.7,115.7 L113.1,115.2 L113.5,114.7 L113.9,114.2 L114.3,113.7 L114.7,113.2 L115.1,112.8 L115.5,112.3 L116.0,111.8 L116.4,111.3 L116.8,110.8 L117.2,110.3 L117.6,109.9 L118.0,109.4 L118.4,108.9 L118.8,108.4 L119.2,108.0 L119.6,107.5 L120.0,107.0 L120.4,106.6 L120.8,106.1 L121.3,105.6 L121.7,105.2 L122.1,104.7 L122.5,104.2 L122.9,103.8 L123.3,103.3 L123.7,102.9 L124.1,102.4 L124.5,101.9 L124.9,101.5 L125.3,101.0 L125.7,100.6 L126.1,100.1 L126.6,99.6 L127.0,99.2 L127.4,98.7 L127.8,98.3 L128.2,97.8 L128.6,97.4 L129.0,96.9 L129.4,96.4 L129.8,96.0 L130.2,95.5 L130.6,95.1 L131.0,94.6 L131.4,94.2 L131.8,93.7 L132.3,93.2 L132.7,92.8 L133.1,92.3 L133.5,91.9 L133.9,91.4 L134.3,91.0 L134.7,90.5 L135.1,90.0 L135.5,89.6 L135.9,89.1 L136.3,88.7 L136.7,88.2 L137.1,87.7 L137.6,87.3 L138.0,86.8 L138.4,86.4 L138.8,85.9 L139.2,85.4 L139.6,85.0 L140.0,84.5 L140.4,84.0 L140.8,83.6 L141.2,83.1 L141.6,82.7 L142.0,82.2 L142.4,81.7 L142.8,81.2 L143.3,80.8 L143.7,80.3 L144.1,79.8 L144.5,79.4 L144.9,78.9 L145.3,78.4 L145.7,78.0 L146.1,77.5 L146.5,77.0 L146.9,76.5 L147.3,76.1 L147.7,75.6 L148.1,75.1 L148.6,74.6 L149.0,74.1 L149.4,73.7 L149.8,73.2 L150.2,72.7 L150.6,72.2 L151.0,71.7 L151.4,71.3 L151.8,70.8 L152.2,70.3 L152.6,69.8 L153.0,69.3 L153.4,68.8 L153.9,68.3 L154.3,67.8 L154.7,67.3 L155.1,66.9 L155.5,66.4 L155.9,65.9 L156.3,65.4 L156.7,64.9 L157.1,64.4 L157.5,63.9 L157.9,63.4 L158.3,62.9 L158.7,62.4 L159.1,61.9 L159.6,61.4 L160.0,60.9 L160.4,60.4 L160.8,59.9 L161.2,59.4 L161.6,58.9 L162.0,58.4 L162.4,57.8 L162.8,57.3 L163.2,56.8 L163.6,56.3 L164.0,55.8 L164.4,55.3 L164.9,54.8 L165.3,54.3 L165.7,53.7 L166.1,53.2 L166.5,52.7 L166.9,52.2 L167.3,51.7 L167.7,51.2 L168.1,50.6 L168.5,50.1 L168.9,49.6 L169.3,49.1 L169.7,48.5 L170.2,48.0 L170.6,47.5 L171.0,47.0 L171.4,46.4 L171.8,45.9 L172.2,45.4 L172.6,44.9 L173.0,44.3 L173.4,43.8 L173.8,43.3 L174.2,42.7 L174.6,42.2 L175.0,41.7 L175.4,41.1 L175.9,40.6 L176.3,40.0 L176.7,39.5 L177.1,39.0 L177.5,38.4 L177.9,37.9 L178.3,37.3 L178.7,36.8 L179.1,36.3 L179.5,35.7 L179.9,35.2 L180.3,34.6 L180.7,34.1 L181.2,33.5 L181.6,33.0 L182.0,32.4 L182.4,31.9 L182.8,31.3 L183.2,30.8 L183.6,30.2 L184.0,29.7 L184.4,29.1 L184.8,28.6 L185.2,28.0 L185.6,27.5 L186.0,26.9 L186.4,26.4 L186.9,25.8 L187.3,25.3 L187.7,24.7 L188.1,24.1 L188.5,23.6 L188.9,23.0 L189.3,22.5 L189.7,21.9 L190.1,21.3 L190.5,20.8 L190.9,20.2 L191.3,19.7 L191.7,19.1 L192.2,18.5 L192.6,18.0 L193.0,17.4 L193.4,16.8 L193.8,16.3 L194.2,15.7 L194.6,15.1 L195.0,14.6 L195.4,14.0 L195.8,13.4 L196.2,12.9 L196.6,12.3 L197.0,11.7 L197.5,11.2 L197.9,10.6 L198.3,10.0 L198.7,9.4 L199.1,8.9 L199.5,8.3 L199.9,7.7 L200.3,7.1 L200.7,6.8 L201.1,6.8 L201.5,6.8 L201.9,6.8 L202.3,6.8 L202.7,6.8 L203.2,6.8 L203.6,6.8 L204.0,6.8 L204.4,6.8 L204.8,6.8 L205.2,6.8 L205.6,6.8 L206.0,6.8 L206.4,6.8 L206.8,6.8 L207.2,6.8 L207.6,6.8 L208.0,6.8 L208.5,6.8 L208.9,6.8 L209.3,6.8 L209.7,6.8 L210.1,6.8 L210.5,6.8 L210.9,6.8 L211.3,6.8 L211.7,6.8 L212.1,6.8 L212.5,6.8 L212.9,6.8 L213.3,6.8 L213.8,6.8 L214.2,6.8 L214.6,6.8 L215.0,6.8 L215.4,6.8 L215.8,6.8 L216.2,6.8 L216.6,6.8 L217.0,6.8 L217.4,6.8 L217.8,6.8 L218.2,6.8 L218.6,6.8 L219.0,6.8 L219.5,6.8 L219.9,6.8 L220.3,6.8 L220.7,6.8 L221.1,6.8 L221.5,6.8 L221.9,6.8 L222.3,6.8 L222.7,6.8 L223.1,6.8 L223.5,6.8 L223.9,6.8 L224.3,6.8 L224.8,6.8 L225.2,6.8 L225.6,6.8 L226.0,6.8 L226.4,6.8 L226.8,6.8 L227.2,6.8 L227.6,6.8 L228.0,6.8 L228.4,6.8 L228.8,6.8 L229.2,6.8 L229.6,6.8 L230.0,6.8 L230.5,6.8 L230.9,6.8 L231.3,6.8 L231.7,6.8 L232.1,6.8 L232.5,6.8 L232.9,6.8 L233.3,6.8 L233.7,6.8 L234.1,6.8 L234.5,6.8 L234.9,6.8 L235.3,6.8 L235.8,6.8 L236.2,6.8 L236.6,6.8 L237.0,6.8 L237.4,6.8 L237.8,6.8 L238.2,6.8 L238.6,6.8 L239.0,6.8 L239.4,6.8 L239.8,6.8 L240.2,6.8 L240.6,6.8 L241.1,6.8 L241.5,6.8 L241.9,6.8 L242.3,6.8 L242.7,6.8 L243.1,6.8 L243.5,6.8 L243.9,6.8 L244.3,6.8 L244.7,6.8 L245.1,6.8 L245.5,6.8 L245.9,6.8 L246.3,6.8 L246.8,6.8 L247.2,6.8 L247.6,6.8 L248.0,6.8 L248.4,6.8 L248.8,6.8 L249.2,6.8 L249.6,6.8 L250.0,6.8 L250.4,6.8 L250.8,6.8 L251.2,6.8 L251.6,6.8 L252.1,6.8 L252.5,6.8 L252.9,6.8 L253.3,6.8 L253.7,6.8 L254.1,6.8 L254.5,6.8 L254.9,6.8 L255.3,6.8 L255.7,6.8 L256.1,6.8 L256.5,6.8 L256.9,6.8 L257.4,6.8 L257.8,6.8 L258.2,6.8 L258.6,6.8 L259.0,6.8 L259.4,6.8 L259.8,6.8 L260.2,6.8 L260.6,6.8 L261.0,6.8 L261.4,6.8 L261.8,6.8 L262.2,6.8 L262.6,6.8 L263.1,6.8 L263.5,6.8 L263.9,6.8 L264.3,6.8 L264.7,6.8 L265.1,6.8 L265.5,6.8" stroke="#00ff00"/>
</g>
<text x="252.20" y="241.90" class="xl">x</text>
<text id="ta0" x="82.28" y="13.00" class="tt" textLength="12.42" lengthAdjust="spacingAndGlyphs">(<tspan font-weight="bold">a</tspan>)</text>
<text id="ta1" x="98.48" y="13.00" class="tt" textLength="36.67" lengthAdjust="spacingAndGlyphs">(<tspan font-style="italic">r</tspan>,&#8201;<tspan font-style="italic">γ</tspan>,&#8201;<tspan font-style="italic">δ</tspan>)</text>
<text id="ta2" x="138.71" y="14.40" class="tt teq" textLength="9.42" lengthAdjust="spacingAndGlyphs">=</text>
<text id="ta3" x="152.32" y="13.00" class="tt" textLength="41.42" lengthAdjust="spacingAndGlyphs">(10,&#8201;3,&#8201;3)</text>
<text id="lta" x="47.00" y="38.90" class="lt" textLength="40.51" lengthAdjust="spacingAndGlyphs"><tspan font-style="italic">F</tspan><tspan font-style="italic" font-size="72%" dy="2.4" dx="0.4">b</tspan><tspan dy="-2.4" dx="1.0">(x;r,</tspan><tspan font-style="italic">γ</tspan>,<tspan font-style="italic">δ</tspan>)</text>
<line x1="47.10" y1="51.10" x2="65.50" y2="51.10" stroke="#ff0000" stroke-width="1.9"/>
<text id="lga0" x="67.34" y="55.10" class="lg" textLength="22.46" lengthAdjust="spacingAndGlyphs">b<tspan dx="0.8">=</tspan><tspan dx="0.8">0.3</tspan></text>
<line x1="47.10" y1="67.80" x2="65.50" y2="67.80" stroke="#ff8000" stroke-width="1.9"/>
<text id="lga1" x="67.33" y="71.80" class="lg" textLength="22.54" lengthAdjust="spacingAndGlyphs">b<tspan dx="0.8">=</tspan><tspan dx="0.8">0.5</tspan></text>
<line x1="47.10" y1="84.40" x2="65.50" y2="84.40" stroke="#0000ff" stroke-width="1.9"/>
<text id="lga2" x="68.13" y="88.40" class="lg" textLength="16.13" lengthAdjust="spacingAndGlyphs">b<tspan dx="0.8">=</tspan><tspan dx="0.8">1</tspan></text>
<line x1="47.10" y1="101.00" x2="65.50" y2="101.00" stroke="#00ff00" stroke-width="1.9"/>
<text id="lga3" x="67.15" y="105.00" class="lg" textLength="23.07" lengthAdjust="spacingAndGlyphs">b<tspan dx="0.8">=</tspan><tspan dx="0.8">1.5</tspan></text>
<clipPath id="c1"><rect x="291.50" y="23.50" width="252.00" height="251.00"/></clipPath>
<line x1="292.50" y1="274.50" x2="543.50" y2="23.50" stroke="#d2d2d2" stroke-width="1.0"/>
<line x1="292.50" y1="246.50" x2="543.50" y2="246.50" stroke="#d0d0d0" stroke-width="1.0"/>
<line x1="320.00" y1="23.50" x2="320.00" y2="274.50" stroke="#c2c2c2" stroke-width="1.0"/>
<path d="M298.08,274.50v-2.00M298.08,23.50v2.00M292.50,268.92h2.00M543.50,268.92h-2.00M309.23,274.50v-2.00M309.23,23.50v2.00M292.50,257.77h2.00M543.50,257.77h-2.00M320.39,274.50v-3.60M320.39,23.50v3.60M292.50,246.61h3.60M543.50,246.61h-3.60M331.54,274.50v-2.00M331.54,23.50v2.00M292.50,235.46h2.00M543.50,235.46h-2.00M342.70,274.50v-2.00M342.70,23.50v2.00M292.50,224.30h2.00M543.50,224.30h-2.00M353.86,274.50v-2.00M353.86,23.50v2.00M292.50,213.14h2.00M543.50,213.14h-2.00M365.01,274.50v-2.00M365.01,23.50v2.00M292.50,201.99h2.00M543.50,201.99h-2.00M376.17,274.50v-3.60M376.17,23.50v3.60M292.50,190.83h3.60M543.50,190.83h-3.60M387.32,274.50v-2.00M387.32,23.50v2.00M292.50,179.68h2.00M543.50,179.68h-2.00M398.48,274.50v-2.00M398.48,23.50v2.00M292.50,168.52h2.00M543.50,168.52h-2.00M409.63,274.50v-2.00M409.63,23.50v2.00M292.50,157.37h2.00M543.50,157.37h-2.00M420.79,274.50v-2.00M420.79,23.50v2.00M292.50,146.21h2.00M543.50,146.21h-2.00M431.94,274.50v-3.60M431.94,23.50v3.60M292.50,135.06h3.60M543.50,135.06h-3.60M443.10,274.50v-2.00M443.10,23.50v2.00M292.50,123.90h2.00M543.50,123.90h-2.00M454.26,274.50v-2.00M454.26,23.50v2.00M292.50,112.74h2.00M543.50,112.74h-2.00M465.41,274.50v-2.00M465.41,23.50v2.00M292.50,101.59h2.00M543.50,101.59h-2.00M476.57,274.50v-2.00M476.57,23.50v2.00M292.50,90.43h2.00M543.50,90.43h-2.00M487.72,274.50v-3.60M487.72,23.50v3.60M292.50,79.28h3.60M543.50,79.28h-3.60M498.88,274.50v-2.00M498.88,23.50v2.00M292.50,68.12h2.00M543.50,68.12h-2.00M510.03,274.50v-2.00M510.03,23.50v2.00M292.50,56.97h2.00M543.50,56.97h-2.00M521.19,274.50v-2.00M521.19,23.50v2.00M292.50,45.81h2.00M543.50,45.81h-2.00M532.34,274.50v-2.00M532.34,23.50v2.00M292.50,34.66h2.00M543.50,34.66h-2.00M543.50,274.50v-3.60M543.50,23.50v3.60M292.50,23.50h3.60M543.50,23.50h-3.60" stroke="#a4a4a4" stroke-width="0.8" fill="none"/>
<rect x="292.50" y="23.50" width="251.00" height="251.00" fill="none" stroke="#c6c6c6" stroke-width="1.0"/>
<text x="320.39" y="285.10" class="tl" text-anchor="middle">0</text>
<text x="289.70" y="249.86" class="tl" text-anchor="end">0</text>
<text x="376.17" y="285.10" class="tl" text-anchor="middle">1</text>
<text x="289.70" y="194.08" class="tl" text-anchor="end">1</text>
<text x="431.94" y="285.10" class="tl" text-anchor="middle">2</text>
<text x="289.70" y="138.31" class="tl" text-anchor="end">2</text>
<text x="487.72" y="285.10" class="tl" text-anchor="middle">3</text>
<text x="289.70" y="82.53" class="tl" text-anchor="end">3</text>
<text x="543.50" y="285.10" class="tl" text-anchor="middle">4</text>
<text x="289.70" y="26.75" class="tl" text-anchor="end">4</text>
<g clip-path="url(#c1)" fill="none" stroke-width="1.9" stroke-linejoin="round">
<path d="M291.3,291.2 L291.7,291.2 L292.1,291.2 L292.5,291.2 L292.9,291.2 L293.3,291.2 L293.7,291.2 L294.1,291.2 L294.5,291.2 L294.9,291.2 L295.3,290.4 L295.8,287.7 L296.2,285.1 L296.6,282.7 L297.0,280.3 L297.4,278.2 L297.8,276.1 L298.2,274.2 L298.6,272.4 L299.0,270.7 L299.4,269.1 L299.8,267.6 L300.2,266.2 L300.6,264.9 L301.1,263.6 L301.5,262.5 L301.9,261.4 L302.3,260.4 L302.7,259.4 L303.1,258.5 L303.5,257.7 L303.9,256.9 L304.3,256.2 L304.7,255.5 L305.1,254.9 L305.5,254.3 L305.9,253.7 L306.3,253.2 L306.8,252.7 L307.2,252.3 L307.6,251.9 L308.0,251.5 L308.4,251.1 L308.8,250.8 L309.2,250.5 L309.6,250.2 L310.0,249.9 L310.4,249.7 L310.8,249.5 L311.2,249.2 L311.6,249.0 L312.1,248.9 L312.5,248.7 L312.9,248.5 L313.3,248.4 L313.7,248.2 L314.1,248.1 L314.5,248.0 L314.9,247.8 L315.3,247.7 L315.7,247.6 L316.1,247.5 L316.5,247.4 L316.9,247.3 L317.4,247.2 L317.8,247.2 L318.2,247.1 L318.6,247.0 L319.0,246.9 L319.4,246.8 L319.8,246.7 L320.2,246.6 L320.6,246.6 L321.0,246.5 L321.4,246.4 L321.8,246.3 L322.2,246.2 L322.6,246.2 L323.1,246.1 L323.5,246.0 L323.9,245.9 L324.3,245.8 L324.7,245.7 L325.1,245.6 L325.5,245.5 L325.9,245.4 L326.3,245.3 L326.7,245.2 L327.1,245.1 L327.5,245.0 L327.9,244.9 L328.4,244.8 L328.8,244.7 L329.2,244.6 L329.6,244.5 L330.0,244.4 L330.4,244.2 L330.8,244.1 L331.2,244.0 L331.6,243.9 L332.0,243.7 L332.4,243.6 L332.8,243.5 L333.2,243.4 L333.7,243.2 L334.1,243.1 L334.5,243.0 L334.9,242.8 L335.3,242.7 L335.7,242.5 L336.1,242.4 L336.5,242.3 L336.9,242.1 L337.3,242.0 L337.7,241.8 L338.1,241.7 L338.5,241.5 L338.9,241.4 L339.4,241.2 L339.8,241.1 L340.2,240.9 L340.6,240.8 L341.0,240.6 L341.4,240.5 L341.8,240.3 L342.2,240.2 L342.6,240.0 L343.0,239.9 L343.4,239.7 L343.8,239.6 L344.2,239.4 L344.7,239.3 L345.1,239.1 L345.5,239.0 L345.9,238.8 L346.3,238.7 L346.7,238.5 L347.1,238.4 L347.5,238.2 L347.9,238.1 L348.3,237.9 L348.7,237.8 L349.1,237.6 L349.5,237.5 L349.9,237.3 L350.4,237.2 L350.8,237.0 L351.2,236.9 L351.6,236.7 L352.0,236.6 L352.4,236.4 L352.8,236.3 L353.2,236.2 L353.6,236.0 L354.0,235.9 L354.4,235.7 L354.8,235.6 L355.2,235.5 L355.7,235.3 L356.1,235.2 L356.5,235.1 L356.9,234.9 L357.3,234.8 L357.7,234.7 L358.1,234.5 L358.5,234.4 L358.9,234.3 L359.3,234.2 L359.7,234.0 L360.1,233.9 L360.5,233.8 L361.0,233.7 L361.4,233.5 L361.8,233.4 L362.2,233.3 L362.6,233.2 L363.0,233.1 L363.4,232.9 L363.8,232.8 L364.2,232.7 L364.6,232.6 L365.0,232.5 L365.4,232.4 L365.8,232.3 L366.2,232.2 L366.7,232.1 L367.1,232.0 L367.5,231.9 L367.9,231.8 L368.3,231.7 L368.7,231.6 L369.1,231.5 L369.5,231.4 L369.9,231.3 L370.3,231.2 L370.7,231.1 L371.1,231.0 L371.5,230.9 L372.0,230.8 L372.4,230.7 L372.8,230.6 L373.2,230.5 L373.6,230.4 L374.0,230.3 L374.4,230.3 L374.8,230.2 L375.2,230.1 L375.6,230.0 L376.0,229.9 L376.4,229.8 L376.8,229.8 L377.3,229.7 L377.7,229.6 L378.1,229.5 L378.5,229.5 L378.9,229.4 L379.3,229.3 L379.7,229.2 L380.1,229.2 L380.5,229.1 L380.9,229.0 L381.3,228.9 L381.7,228.9 L382.1,228.8 L382.5,228.7 L383.0,228.7 L383.4,228.6 L383.8,228.5 L384.2,228.5 L384.6,228.4 L385.0,228.3 L385.4,228.3 L385.8,228.2 L386.2,228.1 L386.6,228.1 L387.0,228.0 L387.4,227.9 L387.8,227.9 L388.3,227.8 L388.7,227.8 L389.1,227.7 L389.5,227.6 L389.9,227.6 L390.3,227.5 L390.7,227.5 L391.1,227.4 L391.5,227.3 L391.9,227.3 L392.3,227.2 L392.7,227.2 L393.1,227.1 L393.5,227.1 L394.0,227.0 L394.4,226.9 L394.8,226.9 L395.2,226.8 L395.6,226.8 L396.0,226.7 L396.4,226.7 L396.8,226.6 L397.2,226.6 L397.6,226.5 L398.0,226.5 L398.4,226.4 L398.8,226.4 L399.3,226.3 L399.7,226.3 L400.1,226.2 L400.5,226.1 L400.9,226.1 L401.3,226.0 L401.7,226.0 L402.1,225.9 L402.5,225.9 L402.9,225.8 L403.3,225.8 L403.7,225.7 L404.1,225.7 L404.6,225.6 L405.0,225.6 L405.4,225.5 L405.8,225.5 L406.2,225.4 L406.6,225.4 L407.0,225.3 L407.4,225.3 L407.8,225.2 L408.2,225.2 L408.6,225.1 L409.0,225.1 L409.4,225.0 L409.8,225.0 L410.3,224.9 L410.7,224.9 L411.1,224.8 L411.5,224.8 L411.9,224.7 L412.3,224.7 L412.7,224.6 L413.1,224.6 L413.5,224.5 L413.9,224.5 L414.3,224.4 L414.7,224.4 L415.1,224.3 L415.6,224.3 L416.0,224.2 L416.4,224.2 L416.8,224.1 L417.2,224.1 L417.6,224.0 L418.0,224.0 L418.4,223.9 L418.8,223.8 L419.2,223.8 L419.6,223.7 L420.0,223.7 L420.4,223.6 L420.8,223.6 L421.3,223.5 L421.7,223.5 L422.1,223.4 L422.5,223.4 L422.9,223.3 L423.3,223.3 L423.7,223.2 L424.1,223.2 L424.5,223.1 L424.9,223.0 L425.3,223.0 L425.7,222.9 L426.1,222.9 L426.6,222.8 L427.0,222.8 L427.4,222.7 L427.8,222.7 L428.2,222.6 L428.6,222.6 L429.0,222.5 L429.4,222.4 L429.8,222.4 L430.2,222.3 L430.6,222.3 L431.0,222.2 L431.4,222.2 L431.9,222.1 L432.3,222.0 L432.7,222.0 L433.1,221.9 L433.5,221.9 L433.9,221.8 L434.3,221.8 L434.7,221.7 L435.1,221.6 L435.5,221.6 L435.9,221.5 L436.3,221.5 L436.7,221.4 L437.1,221.3 L437.6,221.3 L438.0,221.2 L438.4,221.2 L438.8,221.1 L439.2,221.0 L439.6,221.0 L440.0,220.9 L440.4,220.9 L440.8,220.8 L441.2,220.7 L441.6,220.7 L442.0,220.6 L442.4,220.6 L442.9,220.5 L443.3,220.4 L443.7,220.4 L444.1,220.3 L444.5,220.2 L444.9,220.2 L445.3,220.1 L445.7,220.1 L446.1,220.0 L446.5,219.9 L446.9,219.9 L447.3,219.8 L447.7,219.7 L448.2,219.7 L448.6,219.6 L449.0,219.5 L449.4,219.5 L449.8,219.4 L450.2,219.3 L450.6,219.3 L451.0,219.2 L451.4,219.1 L451.8,219.1 L452.2,219.0 L452.6,219.0 L453.0,218.9 L453.4,218.8 L453.9,218.8 L454.3,218.7 L454.7,218.6 L455.1,218.6 L455.5,218.5 L455.9,218.4 L456.3,218.3 L456.7,218.3 L457.1,218.2 L457.5,218.1 L457.9,218.1 L458.3,218.0 L458.7,217.9 L459.2,217.9 L459.6,217.8 L460.0,217.7 L460.4,217.7 L460.8,217.6 L461.2,217.5 L461.6,217.5 L462.0,217.4 L462.4,217.3 L462.8,217.3 L463.2,217.2 L463.6,217.1 L464.0,217.0 L464.4,217.0 L464.9,216.9 L465.3,216.8 L465.7,216.8 L466.1,216.7 L466.5,216.6 L466.9,216.5 L467.3,216.5 L467.7,216.4 L468.1,216.3 L468.5,216.3 L468.9,216.2 L469.3,216.1 L469.7,216.0 L470.2,216.0 L470.6,215.9 L471.0,215.8 L471.4,215.8 L471.8,215.7 L472.2,215.6 L472.6,215.5 L473.0,215.5 L473.4,215.4 L473.8,215.3 L474.2,215.2 L474.6,215.2 L475.0,215.1 L475.5,215.0 L475.9,215.0 L476.3,214.9 L476.7,214.8 L477.1,214.7 L477.5,214.7 L477.9,214.6 L478.3,214.5 L478.7,214.4 L479.1,214.4 L479.5,214.3 L479.9,214.2 L480.3,214.1 L480.7,214.1 L481.2,214.0 L481.6,213.9 L482.0,213.8 L482.4,213.8 L482.8,213.7 L483.2,213.6 L483.6,213.5 L484.0,213.5 L484.4,213.4 L484.8,213.3 L485.2,213.2 L485.6,213.2 L486.0,213.1 L486.5,213.0 L486.9,212.9 L487.3,212.9 L487.7,212.8 L488.1,212.7 L488.5,212.6 L488.9,212.6 L489.3,212.5 L489.7,212.4 L490.1,212.3 L490.5,212.2 L490.9,212.2 L491.3,212.1 L491.8,212.0 L492.2,211.9 L492.6,211.9 L493.0,211.8 L493.4,211.7 L493.8,211.6 L494.2,211.6 L494.6,211.5 L495.0,211.4 L495.4,211.3 L495.8,211.2 L496.2,211.2 L496.6,211.1 L497.0,211.0 L497.5,210.9 L497.9,210.9 L498.3,210.8 L498.7,210.7 L499.1,210.6 L499.5,210.5 L499.9,210.5 L500.3,210.4 L500.7,210.3 L501.1,210.2 L501.5,210.2 L501.9,210.1 L502.3,210.0 L502.8,209.9 L503.2,209.8 L503.6,209.8 L504.0,209.7 L504.4,209.6 L504.8,209.5 L505.2,209.5 L505.6,209.4 L506.0,209.3 L506.4,209.2 L506.8,209.1 L507.2,209.1 L507.6,209.0 L508.0,208.9 L508.5,208.8 L508.9,208.7 L509.3,208.7 L509.7,208.6 L510.1,208.5 L510.5,208.4 L510.9,208.4 L511.3,208.3 L511.7,208.2 L512.1,208.1 L512.5,208.0 L512.9,208.0 L513.3,207.9 L513.8,207.8 L514.2,207.7 L514.6,207.6 L515.0,207.6 L515.4,207.5 L515.8,207.4 L516.2,207.3 L516.6,207.2 L517.0,207.2 L517.4,207.1 L517.8,207.0 L518.2,206.9 L518.6,206.8 L519.1,206.8 L519.5,206.7 L519.9,206.6 L520.3,206.5 L520.7,206.4 L521.1,206.4 L521.5,206.3 L521.9,206.2 L522.3,206.1 L522.7,206.0 L523.1,206.0 L523.5,205.9 L523.9,205.8 L524.3,205.7 L524.8,205.6 L525.2,205.6 L525.6,205.5 L526.0,205.4 L526.4,205.3 L526.8,205.2 L527.2,205.2 L527.6,205.1 L528.0,205.0 L528.4,204.9 L528.8,204.8 L529.2,204.8 L529.6,204.7 L530.1,204.6 L530.5,204.5 L530.9,204.4 L531.3,204.4 L531.7,204.3 L532.1,204.2 L532.5,204.1 L532.9,204.0 L533.3,204.0 L533.7,203.9 L534.1,203.8 L534.5,203.7 L534.9,203.6 L535.4,203.6 L535.8,203.5 L536.2,203.4 L536.6,203.3 L537.0,203.2 L537.4,203.2 L537.8,203.1 L538.2,203.0 L538.6,202.9 L539.0,202.8 L539.4,202.8 L539.8,202.7 L540.2,202.6 L540.6,202.5 L541.1,202.4 L541.5,202.3 L541.9,202.3 L542.3,202.2 L542.7,202.1 L543.1,202.0 L543.5,201.9" stroke="#ff0000"/>
<path d="M291.3,291.2 L291.7,291.2 L292.1,291.2 L292.5,291.2 L292.9,291.2 L293.3,291.2 L293.7,291.2 L294.1,291.2 L294.5,291.2 L294.9,291.2 L295.3,291.2 L295.8,291.2 L296.2,291.2 L296.6,291.2 L297.0,291.2 L297.4,291.2 L297.8,291.2 L298.2,291.2 L298.6,291.2 L299.0,291.2 L299.4,291.2 L299.8,291.2 L300.2,291.2 L300.6,291.2 L301.1,291.2 L301.5,291.2 L301.9,291.2 L302.3,291.2 L302.7,291.2 L303.1,291.2 L303.5,291.2 L303.9,291.2 L304.3,291.2 L304.7,287.9 L305.1,284.2 L305.5,280.7 L305.9,277.5 L306.3,274.6 L306.8,271.9 L307.2,269.4 L307.6,267.1 L308.0,265.0 L308.4,263.1 L308.8,261.4 L309.2,259.8 L309.6,258.3 L310.0,257.0 L310.4,255.8 L310.8,254.8 L311.2,253.8 L311.6,252.9 L312.1,252.2 L312.5,251.5 L312.9,250.8 L313.3,250.3 L313.7,249.8 L314.1,249.4 L314.5,249.0 L314.9,248.7 L315.3,248.4 L315.7,248.1 L316.1,247.9 L316.5,247.7 L316.9,247.5 L317.4,247.4 L317.8,247.2 L318.2,247.1 L318.6,247.0 L319.0,246.9 L319.4,246.8 L319.8,246.7 L320.2,246.6 L320.6,246.6 L321.0,246.5 L321.4,246.4 L321.8,246.3 L322.2,246.2 L322.6,246.1 L323.1,246.0 L323.5,245.9 L323.9,245.8 L324.3,245.6 L324.7,245.5 L325.1,245.3 L325.5,245.2 L325.9,245.0 L326.3,244.8 L326.7,244.6 L327.1,244.4 L327.5,244.1 L327.9,243.9 L328.4,243.6 L328.8,243.3 L329.2,243.1 L329.6,242.8 L330.0,242.4 L330.4,242.1 L330.8,241.8 L331.2,241.4 L331.6,241.1 L332.0,240.7 L332.4,240.3 L332.8,239.9 L333.2,239.5 L333.7,239.1 L334.1,238.6 L334.5,238.2 L334.9,237.8 L335.3,237.3 L335.7,236.8 L336.1,236.4 L336.5,235.9 L336.9,235.4 L337.3,234.9 L337.7,234.4 L338.1,233.9 L338.5,233.3 L338.9,232.8 L339.4,232.3 L339.8,231.8 L340.2,231.2 L340.6,230.7 L341.0,230.2 L341.4,229.6 L341.8,229.1 L342.2,228.5 L342.6,228.0 L343.0,227.4 L343.4,226.9 L343.8,226.3 L344.2,225.8 L344.7,225.2 L345.1,224.6 L345.5,224.1 L345.9,223.5 L346.3,223.0 L346.7,222.4 L347.1,221.9 L347.5,221.4 L347.9,220.8 L348.3,220.3 L348.7,219.8 L349.1,219.2 L349.5,218.7 L349.9,218.2 L350.4,217.7 L350.8,217.1 L351.2,216.6 L351.6,216.1 L352.0,215.6 L352.4,215.1 L352.8,214.7 L353.2,214.2 L353.6,213.7 L354.0,213.2 L354.4,212.8 L354.8,212.3 L355.2,211.9 L355.7,211.4 L356.1,211.0 L356.5,210.6 L356.9,210.1 L357.3,209.7 L357.7,209.3 L358.1,208.9 L358.5,208.5 L358.9,208.1 L359.3,207.7 L359.7,207.4 L360.1,207.0 L360.5,206.7 L361.0,206.3 L361.4,206.0 L361.8,205.6 L362.2,205.3 L362.6,205.0 L363.0,204.7 L363.4,204.4 L363.8,204.1 L364.2,203.8 L364.6,203.5 L365.0,203.2 L365.4,203.0 L365.8,202.7 L366.2,202.4 L366.7,202.2 L367.1,202.0 L367.5,201.7 L367.9,201.5 L368.3,201.3 L368.7,201.1 L369.1,200.9 L369.5,200.7 L369.9,200.5 L370.3,200.3 L370.7,200.2 L371.1,200.0 L371.5,199.8 L372.0,199.7 L372.4,199.6 L372.8,199.4 L373.2,199.3 L373.6,199.2 L374.0,199.0 L374.4,198.9 L374.8,198.8 L375.2,198.7 L375.6,198.6 L376.0,198.5 L376.4,198.5 L376.8,198.4 L377.3,198.3 L377.7,198.3 L378.1,198.2 L378.5,198.2 L378.9,198.1 L379.3,198.1 L379.7,198.0 L380.1,198.0 L380.5,198.0 L380.9,197.9 L381.3,197.9 L381.7,197.9 L382.1,197.9 L382.5,197.9 L383.0,197.9 L383.4,197.9 L383.8,197.9 L384.2,197.9 L384.6,198.0 L385.0,198.0 L385.4,198.0 L385.8,198.0 L386.2,198.1 L386.6,198.1 L387.0,198.2 L387.4,198.2 L387.8,198.3 L388.3,198.3 L388.7,198.4 L389.1,198.4 L389.5,198.5 L389.9,198.6 L390.3,198.6 L390.7,198.7 L391.1,198.8 L391.5,198.8 L391.9,198.9 L392.3,199.0 L392.7,199.1 L393.1,199.2 L393.5,199.3 L394.0,199.3 L394.4,199.4 L394.8,199.5 L395.2,199.6 L395.6,199.7 L396.0,199.8 L396.4,199.9 L396.8,200.0 L397.2,200.1 L397.6,200.2 L398.0,200.3 L398.4,200.5 L398.8,200.6 L399.3,200.7 L399.7,200.8 L400.1,200.9 L400.5,201.0 L400.9,201.1 L401.3,201.3 L401.7,201.4 L402.1,201.5 L402.5,201.6 L402.9,201.7 L403.3,201.8 L403.7,202.0 L404.1,202.1 L404.6,202.2 L405.0,202.3 L405.4,202.5 L405.8,202.6 L406.2,202.7 L406.6,202.8 L407.0,203.0 L407.4,203.1 L407.8,203.2 L408.2,203.3 L408.6,203.4 L409.0,203.6 L409.4,203.7 L409.8,203.8 L410.3,203.9 L410.7,204.1 L411.1,204.2 L411.5,204.3 L411.9,204.4 L412.3,204.6 L412.7,204.7 L413.1,204.8 L413.5,204.9 L413.9,205.0 L414.3,205.2 L414.7,205.3 L415.1,205.4 L415.6,205.5 L416.0,205.6 L416.4,205.8 L416.8,205.9 L417.2,206.0 L417.6,206.1 L418.0,206.2 L418.4,206.3 L418.8,206.5 L419.2,206.6 L419.6,206.7 L420.0,206.8 L420.4,206.9 L420.8,207.0 L421.3,207.1 L421.7,207.2 L422.1,207.3 L422.5,207.4 L422.9,207.5 L423.3,207.6 L423.7,207.7 L424.1,207.8 L424.5,207.9 L424.9,208.0 L425.3,208.1 L425.7,208.2 L426.1,208.3 L426.6,208.4 L427.0,208.5 L427.4,208.6 L427.8,208.7 L428.2,208.8 L428.6,208.9 L429.0,209.0 L429.4,209.1 L429.8,209.2 L430.2,209.2 L430.6,209.3 L431.0,209.4 L431.4,209.5 L431.9,209.6 L432.3,209.7 L432.7,209.7 L433.1,209.8 L433.5,209.9 L433.9,210.0 L434.3,210.0 L434.7,210.1 L435.1,210.2 L435.5,210.2 L435.9,210.3 L436.3,210.4 L436.7,210.4 L437.1,210.5 L437.6,210.6 L438.0,210.6 L438.4,210.7 L438.8,210.8 L439.2,210.8 L439.6,210.9 L440.0,210.9 L440.4,211.0 L440.8,211.0 L441.2,211.1 L441.6,211.1 L442.0,211.2 L442.4,211.2 L442.9,211.3 L443.3,211.3 L443.7,211.4 L444.1,211.4 L444.5,211.5 L444.9,211.5 L445.3,211.6 L445.7,211.6 L446.1,211.6 L446.5,211.7 L446.9,211.7 L447.3,211.7 L447.7,211.8 L448.2,211.8 L448.6,211.8 L449.0,211.9 L449.4,211.9 L449.8,211.9 L450.2,212.0 L450.6,212.0 L451.0,212.0 L451.4,212.0 L451.8,212.1 L452.2,212.1 L452.6,212.1 L453.0,212.1 L453.4,212.1 L453.9,212.2 L454.3,212.2 L454.7,212.2 L455.1,212.2 L455.5,212.2 L455.9,212.2 L456.3,212.3 L456.7,212.3 L457.1,212.3 L457.5,212.3 L457.9,212.3 L458.3,212.3 L458.7,212.3 L459.2,212.3 L459.6,212.3 L460.0,212.3 L460.4,212.3 L460.8,212.3 L461.2,212.3 L461.6,212.3 L462.0,212.3 L462.4,212.3 L462.8,212.3 L463.2,212.3 L463.6,212.3 L464.0,212.3 L464.4,212.3 L464.9,212.3 L465.3,212.3 L465.7,212.3 L466.1,212.2 L466.5,212.2 L466.9,212.2 L467.3,212.2 L467.7,212.2 L468.1,212.2 L468.5,212.2 L468.9,212.2 L469.3,212.1 L469.7,212.1 L470.2,212.1 L470.6,212.1 L471.0,212.1 L471.4,212.0 L471.8,212.0 L472.2,212.0 L472.6,212.0 L473.0,211.9 L473.4,211.9 L473.8,211.9 L474.2,211.9 L474.6,211.8 L475.0,211.8 L475.5,211.8 L475.9,211.8 L476.3,211.7 L476.7,211.7 L477.1,211.7 L477.5,211.6 L477.9,211.6 L478.3,211.6 L478.7,211.5 L479.1,211.5 L479.5,211.5 L479.9,211.4 L480.3,211.4 L480.7,211.4 L481.2,211.3 L481.6,211.3 L482.0,211.3 L482.4,211.2 L482.8,211.2 L483.2,211.1 L483.6,211.1 L484.0,211.1 L484.4,211.0 L484.8,211.0 L485.2,210.9 L485.6,210.9 L486.0,210.9 L486.5,210.8 L486.9,210.8 L487.3,210.7 L487.7,210.7 L488.1,210.6 L488.5,210.6 L488.9,210.5 L489.3,210.5 L489.7,210.4 L490.1,210.4 L490.5,210.3 L490.9,210.3 L491.3,210.3 L491.8,210.2 L492.2,210.2 L492.6,210.1 L493.0,210.0 L493.4,210.0 L493.8,209.9 L494.2,209.9 L494.6,209.8 L495.0,209.8 L495.4,209.7 L495.8,209.7 L496.2,209.6 L496.6,209.6 L497.0,209.5 L497.5,209.5 L497.9,209.4 L498.3,209.4 L498.7,209.3 L499.1,209.2 L499.5,209.2 L499.9,209.1 L500.3,209.1 L500.7,209.0 L501.1,208.9 L501.5,208.9 L501.9,208.8 L502.3,208.8 L502.8,208.7 L503.2,208.7 L503.6,208.6 L504.0,208.5 L504.4,208.5 L504.8,208.4 L505.2,208.3 L505.6,208.3 L506.0,208.2 L506.4,208.2 L506.8,208.1 L507.2,208.0 L507.6,208.0 L508.0,207.9 L508.5,207.8 L508.9,207.8 L509.3,207.7 L509.7,207.7 L510.1,207.6 L510.5,207.5 L510.9,207.5 L511.3,207.4 L511.7,207.3 L512.1,207.3 L512.5,207.2 L512.9,207.1 L513.3,207.1 L513.8,207.0 L514.2,206.9 L514.6,206.9 L515.0,206.8 L515.4,206.7 L515.8,206.7 L516.2,206.6 L516.6,206.5 L517.0,206.5 L517.4,206.4 L517.8,206.3 L518.2,206.2 L518.6,206.2 L519.1,206.1 L519.5,206.0 L519.9,206.0 L520.3,205.9 L520.7,205.8 L521.1,205.8 L521.5,205.7 L521.9,205.6 L522.3,205.6 L522.7,205.5 L523.1,205.4 L523.5,205.3 L523.9,205.3 L524.3,205.2 L524.8,205.1 L525.2,205.1 L525.6,205.0 L526.0,204.9 L526.4,204.8 L526.8,204.8 L527.2,204.7 L527.6,204.6 L528.0,204.5 L528.4,204.5 L528.8,204.4 L529.2,204.3 L529.6,204.3 L530.1,204.2 L530.5,204.1 L530.9,204.0 L531.3,204.0 L531.7,203.9 L532.1,203.8 L532.5,203.7 L532.9,203.7 L533.3,203.6 L533.7,203.5 L534.1,203.4 L534.5,203.4 L534.9,203.3 L535.4,203.2 L535.8,203.1 L536.2,203.1 L536.6,203.0 L537.0,202.9 L537.4,202.8 L537.8,202.8 L538.2,202.7 L538.6,202.6 L539.0,202.5 L539.4,202.5 L539.8,202.4 L540.2,202.3 L540.6,202.2 L541.1,202.2 L541.5,202.1 L541.9,202.0 L542.3,201.9 L542.7,201.9 L543.1,201.8 L543.5,201.7" stroke="#ff8000"/>
<path d="M291.3,291.2 L291.7,291.2 L292.1,291.2 L292.5,291.2 L292.9,291.2 L293.3,291.2 L293.7,291.2 L294.1,291.2 L294.5,291.2 L294.9,291.2 L295.3,291.2 L295.8,291.2 L296.2,291.2 L296.6,291.2 L297.0,291.2 L297.4,291.2 L297.8,291.2 L298.2,291.2 L298.6,291.2 L299.0,291.2 L299.4,291.2 L299.8,291.2 L300.2,291.2 L300.6,291.2 L301.1,291.2 L301.5,291.2 L301.9,291.2 L302.3,291.2 L302.7,291.2 L303.1,291.2 L303.5,291.2 L303.9,291.2 L304.3,291.2 L304.7,291.2 L305.1,291.2 L305.5,291.2 L305.9,291.2 L306.3,291.2 L306.8,291.2 L307.2,291.2 L307.6,289.6 L308.0,285.0 L308.4,280.8 L308.8,277.0 L309.2,273.5 L309.6,270.3 L310.0,267.5 L310.4,264.9 L310.8,262.6 L311.2,260.5 L311.6,258.7 L312.1,257.0 L312.5,255.6 L312.9,254.3 L313.3,253.1 L313.7,252.1 L314.1,251.2 L314.5,250.5 L314.9,249.8 L315.3,249.3 L315.7,248.8 L316.1,248.4 L316.5,248.1 L316.9,247.8 L317.4,247.5 L317.8,247.3 L318.2,247.2 L318.6,247.0 L319.0,246.9 L319.4,246.8 L319.8,246.7 L320.2,246.6 L320.6,246.6 L321.0,246.5 L321.4,246.4 L321.8,246.3 L322.2,246.2 L322.6,246.1 L323.1,245.9 L323.5,245.8 L323.9,245.6 L324.3,245.4 L324.7,245.1 L325.1,244.9 L325.5,244.6 L325.9,244.3 L326.3,244.0 L326.7,243.6 L327.1,243.2 L327.5,242.8 L327.9,242.3 L328.4,241.8 L328.8,241.3 L329.2,240.8 L329.6,240.2 L330.0,239.6 L330.4,239.0 L330.8,238.3 L331.2,237.6 L331.6,236.9 L332.0,236.2 L332.4,235.4 L332.8,234.6 L333.2,233.8 L333.7,232.9 L334.1,232.1 L334.5,231.2 L334.9,230.3 L335.3,229.3 L335.7,228.4 L336.1,227.4 L336.5,226.4 L336.9,225.4 L337.3,224.4 L337.7,223.4 L338.1,222.3 L338.5,221.3 L338.9,220.2 L339.4,219.1 L339.8,218.0 L340.2,216.9 L340.6,215.8 L341.0,214.7 L341.4,213.5 L341.8,212.4 L342.2,211.3 L342.6,210.1 L343.0,209.0 L343.4,207.8 L343.8,206.7 L344.2,205.6 L344.7,204.4 L345.1,203.3 L345.5,202.1 L345.9,201.0 L346.3,199.8 L346.7,198.7 L347.1,197.6 L347.5,196.5 L347.9,195.4 L348.3,194.2 L348.7,193.1 L349.1,192.1 L349.5,191.0 L349.9,189.9 L350.4,188.8 L350.8,187.8 L351.2,186.7 L351.6,185.7 L352.0,184.7 L352.4,183.7 L352.8,182.7 L353.2,181.7 L353.6,180.7 L354.0,179.8 L354.4,178.8 L354.8,177.9 L355.2,177.0 L355.7,176.1 L356.1,175.2 L356.5,174.3 L356.9,173.5 L357.3,172.7 L357.7,171.8 L358.1,171.0 L358.5,170.2 L358.9,169.5 L359.3,168.7 L359.7,168.0 L360.1,167.3 L360.5,166.6 L361.0,165.9 L361.4,165.2 L361.8,164.5 L362.2,163.9 L362.6,163.3 L363.0,162.7 L363.4,162.1 L363.8,161.5 L364.2,161.0 L364.6,160.5 L365.0,159.9 L365.4,159.4 L365.8,159.0 L366.2,158.5 L366.7,158.1 L367.1,157.6 L367.5,157.2 L367.9,156.8 L368.3,156.4 L368.7,156.1 L369.1,155.7 L369.5,155.4 L369.9,155.1 L370.3,154.8 L370.7,154.5 L371.1,154.2 L371.5,154.0 L372.0,153.7 L372.4,153.5 L372.8,153.3 L373.2,153.1 L373.6,152.9 L374.0,152.8 L374.4,152.6 L374.8,152.5 L375.2,152.4 L375.6,152.3 L376.0,152.2 L376.4,152.1 L376.8,152.0 L377.3,152.0 L377.7,151.9 L378.1,151.9 L378.5,151.9 L378.9,151.9 L379.3,151.9 L379.7,151.9 L380.1,152.0 L380.5,152.0 L380.9,152.0 L381.3,152.1 L381.7,152.2 L382.1,152.3 L382.5,152.4 L383.0,152.5 L383.4,152.6 L383.8,152.7 L384.2,152.9 L384.6,153.0 L385.0,153.2 L385.4,153.3 L385.8,153.5 L386.2,153.7 L386.6,153.9 L387.0,154.1 L387.4,154.3 L387.8,154.5 L388.3,154.7 L388.7,154.9 L389.1,155.2 L389.5,155.4 L389.9,155.7 L390.3,155.9 L390.7,156.2 L391.1,156.4 L391.5,156.7 L391.9,157.0 L392.3,157.3 L392.7,157.6 L393.1,157.9 L393.5,158.2 L394.0,158.5 L394.4,158.8 L394.8,159.1 L395.2,159.4 L395.6,159.7 L396.0,160.1 L396.4,160.4 L396.8,160.7 L397.2,161.1 L397.6,161.4 L398.0,161.8 L398.4,162.1 L398.8,162.5 L399.3,162.8 L399.7,163.2 L400.1,163.5 L400.5,163.9 L400.9,164.2 L401.3,164.6 L401.7,165.0 L402.1,165.4 L402.5,165.7 L402.9,166.1 L403.3,166.5 L403.7,166.8 L404.1,167.2 L404.6,167.6 L405.0,168.0 L405.4,168.4 L405.8,168.7 L406.2,169.1 L406.6,169.5 L407.0,169.9 L407.4,170.3 L407.8,170.6 L408.2,171.0 L408.6,171.4 L409.0,171.8 L409.4,172.2 L409.8,172.6 L410.3,172.9 L410.7,173.3 L411.1,173.7 L411.5,174.1 L411.9,174.5 L412.3,174.8 L412.7,175.2 L413.1,175.6 L413.5,176.0 L413.9,176.3 L414.3,176.7 L414.7,177.1 L415.1,177.5 L415.6,177.8 L416.0,178.2 L416.4,178.6 L416.8,178.9 L417.2,179.3 L417.6,179.7 L418.0,180.0 L418.4,180.4 L418.8,180.7 L419.2,181.1 L419.6,181.5 L420.0,181.8 L420.4,182.2 L420.8,182.5 L421.3,182.9 L421.7,183.2 L422.1,183.5 L422.5,183.9 L422.9,184.2 L423.3,184.6 L423.7,184.9 L424.1,185.2 L424.5,185.5 L424.9,185.9 L425.3,186.2 L425.7,186.5 L426.1,186.8 L426.6,187.2 L427.0,187.5 L427.4,187.8 L427.8,188.1 L428.2,188.4 L428.6,188.7 L429.0,189.0 L429.4,189.3 L429.8,189.6 L430.2,189.9 L430.6,190.2 L431.0,190.5 L431.4,190.8 L431.9,191.1 L432.3,191.3 L432.7,191.6 L433.1,191.9 L433.5,192.2 L433.9,192.4 L434.3,192.7 L434.7,193.0 L435.1,193.2 L435.5,193.5 L435.9,193.7 L436.3,194.0 L436.7,194.3 L437.1,194.5 L437.6,194.7 L438.0,195.0 L438.4,195.2 L438.8,195.5 L439.2,195.7 L439.6,195.9 L440.0,196.2 L440.4,196.4 L440.8,196.6 L441.2,196.8 L441.6,197.1 L442.0,197.3 L442.4,197.5 L442.9,197.7 L443.3,197.9 L443.7,198.1 L444.1,198.3 L444.5,198.5 L444.9,198.7 L445.3,198.9 L445.7,199.1 L446.1,199.3 L446.5,199.5 L446.9,199.7 L447.3,199.9 L447.7,200.0 L448.2,200.2 L448.6,200.4 L449.0,200.6 L449.4,200.7 L449.8,200.9 L450.2,201.1 L450.6,201.2 L451.0,201.4 L451.4,201.5 L451.8,201.7 L452.2,201.8 L452.6,202.0 L453.0,202.1 L453.4,202.3 L453.9,202.4 L454.3,202.6 L454.7,202.7 L455.1,202.8 L455.5,203.0 L455.9,203.1 L456.3,203.2 L456.7,203.4 L457.1,203.5 L457.5,203.6 L457.9,203.7 L458.3,203.8 L458.7,204.0 L459.2,204.1 L459.6,204.2 L460.0,204.3 L460.4,204.4 L460.8,204.5 L461.2,204.6 L461.6,204.7 L462.0,204.8 L462.4,204.9 L462.8,205.0 L463.2,205.1 L463.6,205.2 L464.0,205.3 L464.4,205.4 L464.9,205.4 L465.3,205.5 L465.7,205.6 L466.1,205.7 L466.5,205.8 L466.9,205.8 L467.3,205.9 L467.7,206.0 L468.1,206.1 L468.5,206.1 L468.9,206.2 L469.3,206.3 L469.7,206.3 L470.2,206.4 L470.6,206.4 L471.0,206.5 L471.4,206.5 L471.8,206.6 L472.2,206.7 L472.6,206.7 L473.0,206.8 L473.4,206.8 L473.8,206.8 L474.2,206.9 L474.6,206.9 L475.0,207.0 L475.5,207.0 L475.9,207.1 L476.3,207.1 L476.7,207.1 L477.1,207.2 L477.5,207.2 L477.9,207.2 L478.3,207.3 L478.7,207.3 L479.1,207.3 L479.5,207.3 L479.9,207.4 L480.3,207.4 L480.7,207.4 L481.2,207.4 L481.6,207.4 L482.0,207.5 L482.4,207.5 L482.8,207.5 L483.2,207.5 L483.6,207.5 L484.0,207.5 L484.4,207.5 L484.8,207.5 L485.2,207.5 L485.6,207.6 L486.0,207.6 L486.5,207.6 L486.9,207.6 L487.3,207.6 L487.7,207.6 L488.1,207.6 L488.5,207.6 L488.9,207.6 L489.3,207.6 L489.7,207.6 L490.1,207.6 L490.5,207.5 L490.9,207.5 L491.3,207.5 L491.8,207.5 L492.2,207.5 L492.6,207.5 L493.0,207.5 L493.4,207.5 L493.8,207.5 L494.2,207.4 L494.6,207.4 L495.0,207.4 L495.4,207.4 L495.8,207.4 L496.2,207.3 L496.6,207.3 L497.0,207.3 L497.5,207.3 L497.9,207.3 L498.3,207.2 L498.7,207.2 L499.1,207.2 L499.5,207.2 L499.9,207.1 L500.3,207.1 L500.7,207.1 L501.1,207.0 L501.5,207.0 L501.9,207.0 L502.3,207.0 L502.8,206.9 L503.2,206.9 L503.6,206.9 L504.0,206.8 L504.4,206.8 L504.8,206.8 L505.2,206.7 L505.6,206.7 L506.0,206.6 L506.4,206.6 L506.8,206.6 L507.2,206.5 L507.6,206.5 L508.0,206.4 L508.5,206.4 L508.9,206.4 L509.3,206.3 L509.7,206.3 L510.1,206.2 L510.5,206.2 L510.9,206.1 L511.3,206.1 L511.7,206.1 L512.1,206.0 L512.5,206.0 L512.9,205.9 L513.3,205.9 L513.8,205.8 L514.2,205.8 L514.6,205.7 L515.0,205.7 L515.4,205.6 L515.8,205.6 L516.2,205.5 L516.6,205.5 L517.0,205.4 L517.4,205.4 L517.8,205.3 L518.2,205.3 L518.6,205.2 L519.1,205.1 L519.5,205.1 L519.9,205.0 L520.3,205.0 L520.7,204.9 L521.1,204.9 L521.5,204.8 L521.9,204.8 L522.3,204.7 L522.7,204.6 L523.1,204.6 L523.5,204.5 L523.9,204.5 L524.3,204.4 L524.8,204.4 L525.2,204.3 L525.6,204.2 L526.0,204.2 L526.4,204.1 L526.8,204.1 L527.2,204.0 L527.6,203.9 L528.0,203.9 L528.4,203.8 L528.8,203.7 L529.2,203.7 L529.6,203.6 L530.1,203.6 L530.5,203.5 L530.9,203.4 L531.3,203.4 L531.7,203.3 L532.1,203.2 L532.5,203.2 L532.9,203.1 L533.3,203.0 L533.7,203.0 L534.1,202.9 L534.5,202.8 L534.9,202.8 L535.4,202.7 L535.8,202.6 L536.2,202.6 L536.6,202.5 L537.0,202.4 L537.4,202.4 L537.8,202.3 L538.2,202.2 L538.6,202.2 L539.0,202.1 L539.4,202.0 L539.8,202.0 L540.2,201.9 L540.6,201.8 L541.1,201.8 L541.5,201.7 L541.9,201.6 L542.3,201.5 L542.7,201.5 L543.1,201.4 L543.5,201.3" stroke="#0000ff"/>
<path d="M291.3,291.2 L291.7,291.2 L292.1,291.2 L292.5,291.2 L292.9,291.2 L293.3,291.2 L293.7,291.2 L294.1,291.2 L294.5,291.2 L294.9,291.2 L295.3,291.2 L295.8,291.2 L296.2,291.2 L296.6,291.2 L297.0,291.2 L297.4,291.2 L297.8,291.2 L298.2,291.2 L298.6,291.2 L299.0,291.2 L299.4,291.2 L299.8,291.2 L300.2,291.2 L300.6,291.2 L301.1,291.2 L301.5,291.2 L301.9,291.2 L302.3,291.2 L302.7,291.2 L303.1,291.2 L303.5,291.2 L303.9,291.2 L304.3,291.2 L304.7,291.2 L305.1,291.2 L305.5,291.2 L305.9,291.2 L306.3,291.2 L306.8,291.2 L307.2,291.2 L307.6,291.2 L308.0,291.2 L308.4,291.2 L308.8,291.0 L309.2,285.8 L309.6,281.1 L310.0,276.9 L310.4,273.1 L310.8,269.6 L311.2,266.6 L311.6,263.8 L312.1,261.4 L312.5,259.2 L312.9,257.3 L313.3,255.7 L313.7,254.2 L314.1,252.9 L314.5,251.8 L314.9,250.9 L315.3,250.1 L315.7,249.4 L316.1,248.9 L316.5,248.4 L316.9,248.0 L317.4,247.7 L317.8,247.4 L318.2,247.2 L318.6,247.1 L319.0,246.9 L319.4,246.8 L319.8,246.7 L320.2,246.6 L320.6,246.6 L321.0,246.5 L321.4,246.4 L321.8,246.3 L322.2,246.2 L322.6,246.0 L323.1,245.8 L323.5,245.6 L323.9,245.4 L324.3,245.1 L324.7,244.8 L325.1,244.5 L325.5,244.1 L325.9,243.7 L326.3,243.2 L326.7,242.7 L327.1,242.2 L327.5,241.6 L327.9,240.9 L328.4,240.3 L328.8,239.5 L329.2,238.8 L329.6,237.9 L330.0,237.1 L330.4,236.2 L330.8,235.2 L331.2,234.2 L331.6,233.2 L332.0,232.1 L332.4,231.0 L332.8,229.8 L333.2,228.7 L333.7,227.4 L334.1,226.2 L334.5,224.9 L334.9,223.5 L335.3,222.2 L335.7,220.8 L336.1,219.4 L336.5,218.0 L336.9,216.5 L337.3,215.0 L337.7,213.5 L338.1,211.9 L338.5,210.4 L338.9,208.8 L339.4,207.2 L339.8,205.6 L340.2,204.0 L340.6,202.4 L341.0,200.8 L341.4,199.1 L341.8,197.4 L342.2,195.8 L342.6,194.1 L343.0,192.4 L343.4,190.8 L343.8,189.1 L344.2,187.4 L344.7,185.7 L345.1,184.1 L345.5,182.4 L345.9,180.7 L346.3,179.1 L346.7,177.4 L347.1,175.8 L347.5,174.1 L347.9,172.5 L348.3,170.9 L348.7,169.3 L349.1,167.7 L349.5,166.1 L349.9,164.5 L350.4,162.9 L350.8,161.4 L351.2,159.9 L351.6,158.4 L352.0,156.9 L352.4,155.4 L352.8,154.0 L353.2,152.5 L353.6,151.1 L354.0,149.7 L354.4,148.4 L354.8,147.0 L355.2,145.7 L355.7,144.4 L356.1,143.1 L356.5,141.8 L356.9,140.6 L357.3,139.4 L357.7,138.2 L358.1,137.0 L358.5,135.9 L358.9,134.8 L359.3,133.7 L359.7,132.6 L360.1,131.6 L360.5,130.5 L361.0,129.6 L361.4,128.6 L361.8,127.7 L362.2,126.7 L362.6,125.9 L363.0,125.0 L363.4,124.2 L363.8,123.4 L364.2,122.6 L364.6,121.8 L365.0,121.1 L365.4,120.4 L365.8,119.7 L366.2,119.0 L366.7,118.4 L367.1,117.8 L367.5,117.2 L367.9,116.7 L368.3,116.1 L368.7,115.6 L369.1,115.1 L369.5,114.7 L369.9,114.3 L370.3,113.9 L370.7,113.5 L371.1,113.1 L371.5,112.8 L372.0,112.5 L372.4,112.2 L372.8,111.9 L373.2,111.6 L373.6,111.4 L374.0,111.2 L374.4,111.0 L374.8,110.9 L375.2,110.7 L375.6,110.6 L376.0,110.5 L376.4,110.4 L376.8,110.4 L377.3,110.3 L377.7,110.3 L378.1,110.3 L378.5,110.3 L378.9,110.4 L379.3,110.4 L379.7,110.5 L380.1,110.6 L380.5,110.7 L380.9,110.8 L381.3,111.0 L381.7,111.1 L382.1,111.3 L382.5,111.5 L383.0,111.7 L383.4,111.9 L383.8,112.1 L384.2,112.4 L384.6,112.6 L385.0,112.9 L385.4,113.2 L385.8,113.5 L386.2,113.8 L386.6,114.1 L387.0,114.5 L387.4,114.8 L387.8,115.2 L388.3,115.5 L388.7,115.9 L389.1,116.3 L389.5,116.7 L389.9,117.1 L390.3,117.6 L390.7,118.0 L391.1,118.4 L391.5,118.9 L391.9,119.3 L392.3,119.8 L392.7,120.3 L393.1,120.8 L393.5,121.3 L394.0,121.8 L394.4,122.3 L394.8,122.8 L395.2,123.3 L395.6,123.8 L396.0,124.4 L396.4,124.9 L396.8,125.4 L397.2,126.0 L397.6,126.5 L398.0,127.1 L398.4,127.7 L398.8,128.2 L399.3,128.8 L399.7,129.4 L400.1,130.0 L400.5,130.5 L400.9,131.1 L401.3,131.7 L401.7,132.3 L402.1,132.9 L402.5,133.5 L402.9,134.1 L403.3,134.7 L403.7,135.3 L404.1,135.9 L404.6,136.5 L405.0,137.1 L405.4,137.7 L405.8,138.3 L406.2,139.0 L406.6,139.6 L407.0,140.2 L407.4,140.8 L407.8,141.4 L408.2,142.0 L408.6,142.6 L409.0,143.2 L409.4,143.9 L409.8,144.5 L410.3,145.1 L410.7,145.7 L411.1,146.3 L411.5,146.9 L411.9,147.5 L412.3,148.1 L412.7,148.8 L413.1,149.4 L413.5,150.0 L413.9,150.6 L414.3,151.2 L414.7,151.8 L415.1,152.4 L415.6,153.0 L416.0,153.6 L416.4,154.2 L416.8,154.7 L417.2,155.3 L417.6,155.9 L418.0,156.5 L418.4,157.1 L418.8,157.7 L419.2,158.2 L419.6,158.8 L420.0,159.4 L420.4,159.9 L420.8,160.5 L421.3,161.1 L421.7,161.6 L422.1,162.2 L422.5,162.7 L422.9,163.3 L423.3,163.8 L423.7,164.4 L424.1,164.9 L424.5,165.4 L424.9,166.0 L425.3,166.5 L425.7,167.0 L426.1,167.5 L426.6,168.0 L427.0,168.6 L427.4,169.1 L427.8,169.6 L428.2,170.1 L428.6,170.6 L429.0,171.1 L429.4,171.6 L429.8,172.0 L430.2,172.5 L430.6,173.0 L431.0,173.5 L431.4,174.0 L431.9,174.4 L432.3,174.9 L432.7,175.3 L433.1,175.8 L433.5,176.2 L433.9,176.7 L434.3,177.1 L434.7,177.6 L435.1,178.0 L435.5,178.4 L435.9,178.9 L436.3,179.3 L436.7,179.7 L437.1,180.1 L437.6,180.5 L438.0,180.9 L438.4,181.3 L438.8,181.7 L439.2,182.1 L439.6,182.5 L440.0,182.9 L440.4,183.3 L440.8,183.7 L441.2,184.0 L441.6,184.4 L442.0,184.8 L442.4,185.1 L442.9,185.5 L443.3,185.9 L443.7,186.2 L444.1,186.5 L444.5,186.9 L444.9,187.2 L445.3,187.6 L445.7,187.9 L446.1,188.2 L446.5,188.5 L446.9,188.9 L447.3,189.2 L447.7,189.5 L448.2,189.8 L448.6,190.1 L449.0,190.4 L449.4,190.7 L449.8,191.0 L450.2,191.3 L450.6,191.5 L451.0,191.8 L451.4,192.1 L451.8,192.4 L452.2,192.6 L452.6,192.9 L453.0,193.2 L453.4,193.4 L453.9,193.7 L454.3,193.9 L454.7,194.2 L455.1,194.4 L455.5,194.7 L455.9,194.9 L456.3,195.1 L456.7,195.4 L457.1,195.6 L457.5,195.8 L457.9,196.0 L458.3,196.3 L458.7,196.5 L459.2,196.7 L459.6,196.9 L460.0,197.1 L460.4,197.3 L460.8,197.5 L461.2,197.7 L461.6,197.9 L462.0,198.1 L462.4,198.3 L462.8,198.4 L463.2,198.6 L463.6,198.8 L464.0,199.0 L464.4,199.1 L464.9,199.3 L465.3,199.5 L465.7,199.6 L466.1,199.8 L466.5,199.9 L466.9,200.1 L467.3,200.3 L467.7,200.4 L468.1,200.5 L468.5,200.7 L468.9,200.8 L469.3,201.0 L469.7,201.1 L470.2,201.2 L470.6,201.4 L471.0,201.5 L471.4,201.6 L471.8,201.7 L472.2,201.9 L472.6,202.0 L473.0,202.1 L473.4,202.2 L473.8,202.3 L474.2,202.4 L474.6,202.5 L475.0,202.6 L475.5,202.7 L475.9,202.8 L476.3,202.9 L476.7,203.0 L477.1,203.1 L477.5,203.2 L477.9,203.3 L478.3,203.4 L478.7,203.4 L479.1,203.5 L479.5,203.6 L479.9,203.7 L480.3,203.8 L480.7,203.8 L481.2,203.9 L481.6,204.0 L482.0,204.0 L482.4,204.1 L482.8,204.2 L483.2,204.2 L483.6,204.3 L484.0,204.3 L484.4,204.4 L484.8,204.4 L485.2,204.5 L485.6,204.6 L486.0,204.6 L486.5,204.6 L486.9,204.7 L487.3,204.7 L487.7,204.8 L488.1,204.8 L488.5,204.9 L488.9,204.9 L489.3,204.9 L489.7,205.0 L490.1,205.0 L490.5,205.0 L490.9,205.1 L491.3,205.1 L491.8,205.1 L492.2,205.1 L492.6,205.2 L493.0,205.2 L493.4,205.2 L493.8,205.2 L494.2,205.2 L494.6,205.2 L495.0,205.3 L495.4,205.3 L495.8,205.3 L496.2,205.3 L496.6,205.3 L497.0,205.3 L497.5,205.3 L497.9,205.3 L498.3,205.3 L498.7,205.3 L499.1,205.3 L499.5,205.3 L499.9,205.3 L500.3,205.3 L500.7,205.3 L501.1,205.3 L501.5,205.3 L501.9,205.3 L502.3,205.3 L502.8,205.3 L503.2,205.3 L503.6,205.3 L504.0,205.3 L504.4,205.3 L504.8,205.3 L505.2,205.2 L505.6,205.2 L506.0,205.2 L506.4,205.2 L506.8,205.2 L507.2,205.2 L507.6,205.1 L508.0,205.1 L508.5,205.1 L508.9,205.1 L509.3,205.1 L509.7,205.0 L510.1,205.0 L510.5,205.0 L510.9,205.0 L511.3,204.9 L511.7,204.9 L512.1,204.9 L512.5,204.8 L512.9,204.8 L513.3,204.8 L513.8,204.8 L514.2,204.7 L514.6,204.7 L515.0,204.7 L515.4,204.6 L515.8,204.6 L516.2,204.6 L516.6,204.5 L517.0,204.5 L517.4,204.4 L517.8,204.4 L518.2,204.4 L518.6,204.3 L519.1,204.3 L519.5,204.2 L519.9,204.2 L520.3,204.2 L520.7,204.1 L521.1,204.1 L521.5,204.0 L521.9,204.0 L522.3,203.9 L522.7,203.9 L523.1,203.8 L523.5,203.8 L523.9,203.8 L524.3,203.7 L524.8,203.7 L525.2,203.6 L525.6,203.6 L526.0,203.5 L526.4,203.5 L526.8,203.4 L527.2,203.4 L527.6,203.3 L528.0,203.3 L528.4,203.2 L528.8,203.2 L529.2,203.1 L529.6,203.0 L530.1,203.0 L530.5,202.9 L530.9,202.9 L531.3,202.8 L531.7,202.8 L532.1,202.7 L532.5,202.7 L532.9,202.6 L533.3,202.5 L533.7,202.5 L534.1,202.4 L534.5,202.4 L534.9,202.3 L535.4,202.3 L535.8,202.2 L536.2,202.1 L536.6,202.1 L537.0,202.0 L537.4,201.9 L537.8,201.9 L538.2,201.8 L538.6,201.8 L539.0,201.7 L539.4,201.6 L539.8,201.6 L540.2,201.5 L540.6,201.5 L541.1,201.4 L541.5,201.3 L541.9,201.3 L542.3,201.2 L542.7,201.1 L543.1,201.1 L543.5,201.0" stroke="#00ff00"/>
</g>
<text x="529.60" y="241.90" class="xl">x</text>
<text id="tb0" x="357.01" y="13.00" class="tt" textLength="13.74" lengthAdjust="spacingAndGlyphs">(<tspan font-weight="bold">b</tspan>)</text>
<text id="tb1" x="374.88" y="13.00" class="tt" textLength="37.00" lengthAdjust="spacingAndGlyphs">(<tspan font-style="italic">γ</tspan>,&#8201;<tspan font-style="italic">δ</tspan>,&#8201;<tspan font-style="italic">b</tspan>)</text>
<text id="tb2" x="416.19" y="14.40" class="tt teq" textLength="10.00" lengthAdjust="spacingAndGlyphs">=</text>
<text id="tb3" x="429.71" y="13.00" class="tt" textLength="44.41" lengthAdjust="spacingAndGlyphs">(3,&#8201;3,&#8201;0.2)</text>
<text id="ltb" x="324.69" y="38.90" class="lt" textLength="40.37" lengthAdjust="spacingAndGlyphs"><tspan font-style="italic">F</tspan><tspan font-style="italic" font-size="72%" dy="2.4" dx="0.4">b</tspan><tspan dy="-2.4" dx="1.0">(x;r,</tspan><tspan font-style="italic">γ</tspan>,<tspan font-style="italic">δ</tspan>)</text>
<line x1="325.10" y1="51.10" x2="343.50" y2="51.10" stroke="#ff0000" stroke-width="1.9"/>
<text id="lgb0" x="347.95" y="55.10" class="lg" textLength="14.84" lengthAdjust="spacingAndGlyphs">r<tspan dx="0.8">=</tspan><tspan dx="0.8">2</tspan></text>
<line x1="325.10" y1="67.80" x2="343.50" y2="67.80" stroke="#ff8000" stroke-width="1.9"/>
<text id="lgb1" x="345.28" y="71.80" class="lg" textLength="62.40" lengthAdjust="spacingAndGlyphs">r<tspan dx="0.8">=</tspan><tspan dx="0.8">13.3003001</tspan><tspan dx="0.2">...</tspan></text>
<line x1="325.10" y1="84.40" x2="343.50" y2="84.40" stroke="#0000ff" stroke-width="1.9"/>
<text id="lgb2" x="347.02" y="88.40" class="lg" textLength="19.41" lengthAdjust="spacingAndGlyphs">r<tspan dx="0.8">=</tspan><tspan dx="0.8">30</tspan></text>
<line x1="325.10" y1="101.00" x2="343.50" y2="101.00" stroke="#00ff00" stroke-width="1.9"/>
<text id="lgb3" x="346.97" y="105.00" class="lg" textLength="19.65" lengthAdjust="spacingAndGlyphs">r<tspan dx="0.8">=</tspan><tspan dx="0.8">45</tspan></text>
<clipPath id="c2"><rect x="13.50" y="315.50" width="252.00" height="251.00"/></clipPath>
<line x1="14.50" y1="566.50" x2="265.50" y2="315.50" stroke="#d2d2d2" stroke-width="1.0"/>
<line x1="14.50" y1="538.50" x2="265.50" y2="538.50" stroke="#d0d0d0" stroke-width="1.0"/>
<line x1="42.50" y1="315.50" x2="42.50" y2="566.50" stroke="#d0d0d0" stroke-width="1.0"/>
<path d="M20.08,566.50v-2.00M20.08,315.50v2.00M14.50,560.92h2.00M265.50,560.92h-2.00M31.23,566.50v-2.00M31.23,315.50v2.00M14.50,549.77h2.00M265.50,549.77h-2.00M42.39,566.50v-3.60M42.39,315.50v3.60M14.50,538.61h3.60M265.50,538.61h-3.60M53.54,566.50v-2.00M53.54,315.50v2.00M14.50,527.46h2.00M265.50,527.46h-2.00M64.70,566.50v-2.00M64.70,315.50v2.00M14.50,516.30h2.00M265.50,516.30h-2.00M75.86,566.50v-2.00M75.86,315.50v2.00M14.50,505.14h2.00M265.50,505.14h-2.00M87.01,566.50v-2.00M87.01,315.50v2.00M14.50,493.99h2.00M265.50,493.99h-2.00M98.17,566.50v-3.60M98.17,315.50v3.60M14.50,482.83h3.60M265.50,482.83h-3.60M109.32,566.50v-2.00M109.32,315.50v2.00M14.50,471.68h2.00M265.50,471.68h-2.00M120.48,566.50v-2.00M120.48,315.50v2.00M14.50,460.52h2.00M265.50,460.52h-2.00M131.63,566.50v-2.00M131.63,315.50v2.00M14.50,449.37h2.00M265.50,449.37h-2.00M142.79,566.50v-2.00M142.79,315.50v2.00M14.50,438.21h2.00M265.50,438.21h-2.00M153.94,566.50v-3.60M153.94,315.50v3.60M14.50,427.06h3.60M265.50,427.06h-3.60M165.10,566.50v-2.00M165.10,315.50v2.00M14.50,415.90h2.00M265.50,415.90h-2.00M176.26,566.50v-2.00M176.26,315.50v2.00M14.50,404.74h2.00M265.50,404.74h-2.00M187.41,566.50v-2.00M187.41,315.50v2.00M14.50,393.59h2.00M265.50,393.59h-2.00M198.57,566.50v-2.00M198.57,315.50v2.00M14.50,382.43h2.00M265.50,382.43h-2.00M209.72,566.50v-3.60M209.72,315.50v3.60M14.50,371.28h3.60M265.50,371.28h-3.60M220.88,566.50v-2.00M220.88,315.50v2.00M14.50,360.12h2.00M265.50,360.12h-2.00M232.03,566.50v-2.00M232.03,315.50v2.00M14.50,348.97h2.00M265.50,348.97h-2.00M243.19,566.50v-2.00M243.19,315.50v2.00M14.50,337.81h2.00M265.50,337.81h-2.00M254.34,566.50v-2.00M254.34,315.50v2.00M14.50,326.66h2.00M265.50,326.66h-2.00M265.50,566.50v-3.60M265.50,315.50v3.60M14.50,315.50h3.60M265.50,315.50h-3.60" stroke="#a4a4a4" stroke-width="0.8" fill="none"/>
<rect x="14.50" y="315.50" width="251.00" height="251.00" fill="none" stroke="#c6c6c6" stroke-width="1.0"/>
<text x="42.39" y="577.10" class="tl" text-anchor="middle">0</text>
<text x="11.70" y="541.86" class="tl" text-anchor="end">0</text>
<text x="98.17" y="577.10" class="tl" text-anchor="middle">1</text>
<text x="11.70" y="486.08" class="tl" text-anchor="end">1</text>
<text x="153.94" y="577.10" class="tl" text-anchor="middle">2</text>
<text x="11.70" y="430.31" class="tl" text-anchor="end">2</text>
<text x="209.72" y="577.10" class="tl" text-anchor="middle">3</text>
<text x="11.70" y="374.53" class="tl" text-anchor="end">3</text>
<text x="265.50" y="577.10" class="tl" text-anchor="middle">4</text>
<text x="11.70" y="318.75" class="tl" text-anchor="end">4</text>
<g clip-path="url(#c2)" fill="none" stroke-width="1.9" stroke-linejoin="round">
<path d="M13.3,298.8 L13.7,298.8 L14.1,298.8 L14.5,298.8 L14.9,298.8 L15.3,298.8 L15.7,298.8 L16.1,298.8 L16.5,298.8 L16.9,298.8 L17.3,298.8 L17.8,298.8 L18.2,298.8 L18.6,298.8 L19.0,298.8 L19.4,298.8 L19.8,298.8 L20.2,298.8 L20.6,298.8 L21.0,298.8 L21.4,301.5 L21.8,315.8 L22.2,329.4 L22.6,342.4 L23.1,354.8 L23.5,366.5 L23.9,377.6 L24.3,388.2 L24.7,398.2 L25.1,407.8 L25.5,416.8 L25.9,425.3 L26.3,433.4 L26.7,441.1 L27.1,448.3 L27.5,455.1 L27.9,461.6 L28.3,467.6 L28.8,473.3 L29.2,478.7 L29.6,483.8 L30.0,488.5 L30.4,493.0 L30.8,497.1 L31.2,501.0 L31.6,504.6 L32.0,508.0 L32.4,511.2 L32.8,514.1 L33.2,516.8 L33.6,519.3 L34.1,521.6 L34.5,523.7 L34.9,525.7 L35.3,527.4 L35.7,529.1 L36.1,530.5 L36.5,531.8 L36.9,533.0 L37.3,534.1 L37.7,535.0 L38.1,535.8 L38.5,536.5 L38.9,537.1 L39.4,537.6 L39.8,538.0 L40.2,538.3 L40.6,538.5 L41.0,538.7 L41.4,538.7 L41.8,538.7 L42.2,538.7 L42.6,538.5 L43.0,538.4 L43.4,538.1 L43.8,537.8 L44.2,537.5 L44.6,537.1 L45.1,536.7 L45.5,536.3 L45.9,535.8 L46.3,535.2 L46.7,534.7 L47.1,534.1 L47.5,533.5 L47.9,532.9 L48.3,532.3 L48.7,531.6 L49.1,530.9 L49.5,530.2 L49.9,529.5 L50.4,528.8 L50.8,528.1 L51.2,527.4 L51.6,526.6 L52.0,525.9 L52.4,525.1 L52.8,524.4 L53.2,523.6 L53.6,522.9 L54.0,522.1 L54.4,521.4 L54.8,520.7 L55.2,519.9 L55.7,519.2 L56.1,518.5 L56.5,517.7 L56.9,517.0 L57.3,516.3 L57.7,515.6 L58.1,514.9 L58.5,514.2 L58.9,513.5 L59.3,512.9 L59.7,512.2 L60.1,511.6 L60.5,510.9 L60.9,510.3 L61.4,509.7 L61.8,509.1 L62.2,508.5 L62.6,507.9 L63.0,507.3 L63.4,506.8 L63.8,506.2 L64.2,505.7 L64.6,505.1 L65.0,504.6 L65.4,504.1 L65.8,503.6 L66.2,503.2 L66.7,502.7 L67.1,502.3 L67.5,501.8 L67.9,501.4 L68.3,501.0 L68.7,500.6 L69.1,500.2 L69.5,499.8 L69.9,499.4 L70.3,499.1 L70.7,498.8 L71.1,498.4 L71.5,498.1 L71.9,497.8 L72.4,497.5 L72.8,497.2 L73.2,496.9 L73.6,496.7 L74.0,496.4 L74.4,496.2 L74.8,495.9 L75.2,495.7 L75.6,495.5 L76.0,495.3 L76.4,495.1 L76.8,494.9 L77.2,494.7 L77.7,494.6 L78.1,494.4 L78.5,494.3 L78.9,494.1 L79.3,494.0 L79.7,493.9 L80.1,493.8 L80.5,493.6 L80.9,493.5 L81.3,493.5 L81.7,493.4 L82.1,493.3 L82.5,493.2 L83.0,493.2 L83.4,493.1 L83.8,493.0 L84.2,493.0 L84.6,493.0 L85.0,492.9 L85.4,492.9 L85.8,492.9 L86.2,492.9 L86.6,492.8 L87.0,492.8 L87.4,492.8 L87.8,492.8 L88.2,492.9 L88.7,492.9 L89.1,492.9 L89.5,492.9 L89.9,492.9 L90.3,493.0 L90.7,493.0 L91.1,493.0 L91.5,493.1 L91.9,493.1 L92.3,493.2 L92.7,493.2 L93.1,493.3 L93.5,493.3 L94.0,493.4 L94.4,493.4 L94.8,493.5 L95.2,493.6 L95.6,493.6 L96.0,493.7 L96.4,493.8 L96.8,493.8 L97.2,493.9 L97.6,494.0 L98.0,494.1 L98.4,494.2 L98.8,494.2 L99.3,494.3 L99.7,494.4 L100.1,494.5 L100.5,494.6 L100.9,494.7 L101.3,494.8 L101.7,494.9 L102.1,494.9 L102.5,495.0 L102.9,495.1 L103.3,495.2 L103.7,495.3 L104.1,495.4 L104.5,495.5 L105.0,495.6 L105.4,495.7 L105.8,495.8 L106.2,495.9 L106.6,496.0 L107.0,496.1 L107.4,496.1 L107.8,496.2 L108.2,496.3 L108.6,496.4 L109.0,496.5 L109.4,496.6 L109.8,496.7 L110.3,496.8 L110.7,496.9 L111.1,497.0 L111.5,497.1 L111.9,497.1 L112.3,497.2 L112.7,497.3 L113.1,497.4 L113.5,497.5 L113.9,497.6 L114.3,497.7 L114.7,497.7 L115.1,497.8 L115.5,497.9 L116.0,498.0 L116.4,498.1 L116.8,498.1 L117.2,498.2 L117.6,498.3 L118.0,498.4 L118.4,498.4 L118.8,498.5 L119.2,498.6 L119.6,498.6 L120.0,498.7 L120.4,498.8 L120.8,498.8 L121.3,498.9 L121.7,499.0 L122.1,499.0 L122.5,499.1 L122.9,499.2 L123.3,499.2 L123.7,499.3 L124.1,499.3 L124.5,499.4 L124.9,499.4 L125.3,499.5 L125.7,499.5 L126.1,499.6 L126.6,499.6 L127.0,499.7 L127.4,499.7 L127.8,499.8 L128.2,499.8 L128.6,499.8 L129.0,499.9 L129.4,499.9 L129.8,499.9 L130.2,500.0 L130.6,500.0 L131.0,500.0 L131.4,500.1 L131.8,500.1 L132.3,500.1 L132.7,500.2 L133.1,500.2 L133.5,500.2 L133.9,500.2 L134.3,500.2 L134.7,500.3 L135.1,500.3 L135.5,500.3 L135.9,500.3 L136.3,500.3 L136.7,500.3 L137.1,500.3 L137.6,500.3 L138.0,500.4 L138.4,500.4 L138.8,500.4 L139.2,500.4 L139.6,500.4 L140.0,500.4 L140.4,500.4 L140.8,500.4 L141.2,500.4 L141.6,500.4 L142.0,500.3 L142.4,500.3 L142.8,500.3 L143.3,500.3 L143.7,500.3 L144.1,500.3 L144.5,500.3 L144.9,500.3 L145.3,500.2 L145.7,500.2 L146.1,500.2 L146.5,500.2 L146.9,500.2 L147.3,500.1 L147.7,500.1 L148.1,500.1 L148.6,500.1 L149.0,500.0 L149.4,500.0 L149.8,500.0 L150.2,500.0 L150.6,499.9 L151.0,499.9 L151.4,499.9 L151.8,499.8 L152.2,499.8 L152.6,499.7 L153.0,499.7 L153.4,499.7 L153.9,499.6 L154.3,499.6 L154.7,499.5 L155.1,499.5 L155.5,499.5 L155.9,499.4 L156.3,499.4 L156.7,499.3 L157.1,499.3 L157.5,499.2 L157.9,499.2 L158.3,499.1 L158.7,499.1 L159.1,499.0 L159.6,498.9 L160.0,498.9 L160.4,498.8 L160.8,498.8 L161.2,498.7 L161.6,498.7 L162.0,498.6 L162.4,498.5 L162.8,498.5 L163.2,498.4 L163.6,498.4 L164.0,498.3 L164.4,498.2 L164.9,498.2 L165.3,498.1 L165.7,498.0 L166.1,498.0 L166.5,497.9 L166.9,497.8 L167.3,497.8 L167.7,497.7 L168.1,497.6 L168.5,497.5 L168.9,497.5 L169.3,497.4 L169.7,497.3 L170.2,497.2 L170.6,497.2 L171.0,497.1 L171.4,497.0 L171.8,496.9 L172.2,496.9 L172.6,496.8 L173.0,496.7 L173.4,496.6 L173.8,496.5 L174.2,496.5 L174.6,496.4 L175.0,496.3 L175.4,496.2 L175.9,496.1 L176.3,496.1 L176.7,496.0 L177.1,495.9 L177.5,495.8 L177.9,495.7 L178.3,495.6 L178.7,495.5 L179.1,495.4 L179.5,495.4 L179.9,495.3 L180.3,495.2 L180.7,495.1 L181.2,495.0 L181.6,494.9 L182.0,494.8 L182.4,494.7 L182.8,494.6 L183.2,494.5 L183.6,494.5 L184.0,494.4 L184.4,494.3 L184.8,494.2 L185.2,494.1 L185.6,494.0 L186.0,493.9 L186.4,493.8 L186.9,493.7 L187.3,493.6 L187.7,493.5 L188.1,493.4 L188.5,493.3 L188.9,493.2 L189.3,493.1 L189.7,493.0 L190.1,492.9 L190.5,492.8 L190.9,492.7 L191.3,492.6 L191.7,492.5 L192.2,492.4 L192.6,492.3 L193.0,492.2 L193.4,492.1 L193.8,492.0 L194.2,491.9 L194.6,491.8 L195.0,491.7 L195.4,491.6 L195.8,491.5 L196.2,491.4 L196.6,491.3 L197.0,491.2 L197.5,491.1 L197.9,491.0 L198.3,490.9 L198.7,490.7 L199.1,490.6 L199.5,490.5 L199.9,490.4 L200.3,490.3 L200.7,490.2 L201.1,490.1 L201.5,490.0 L201.9,489.9 L202.3,489.8 L202.7,489.7 L203.2,489.6 L203.6,489.5 L204.0,489.3 L204.4,489.2 L204.8,489.1 L205.2,489.0 L205.6,488.9 L206.0,488.8 L206.4,488.7 L206.8,488.6 L207.2,488.5 L207.6,488.4 L208.0,488.2 L208.5,488.1 L208.9,488.0 L209.3,487.9 L209.7,487.8 L210.1,487.7 L210.5,487.6 L210.9,487.5 L211.3,487.4 L211.7,487.2 L212.1,487.1 L212.5,487.0 L212.9,486.9 L213.3,486.8 L213.8,486.7 L214.2,486.6 L214.6,486.5 L215.0,486.3 L215.4,486.2 L215.8,486.1 L216.2,486.0 L216.6,485.9 L217.0,485.8 L217.4,485.7 L217.8,485.5 L218.2,485.4 L218.6,485.3 L219.0,485.2 L219.5,485.1 L219.9,485.0 L220.3,484.8 L220.7,484.7 L221.1,484.6 L221.5,484.5 L221.9,484.4 L222.3,484.3 L222.7,484.2 L223.1,484.0 L223.5,483.9 L223.9,483.8 L224.3,483.7 L224.8,483.6 L225.2,483.5 L225.6,483.3 L226.0,483.2 L226.4,483.1 L226.8,483.0 L227.2,482.9 L227.6,482.8 L228.0,482.6 L228.4,482.5 L228.8,482.4 L229.2,482.3 L229.6,482.2 L230.0,482.1 L230.5,481.9 L230.9,481.8 L231.3,481.7 L231.7,481.6 L232.1,481.5 L232.5,481.3 L232.9,481.2 L233.3,481.1 L233.7,481.0 L234.1,480.9 L234.5,480.8 L234.9,480.6 L235.3,480.5 L235.8,480.4 L236.2,480.3 L236.6,480.2 L237.0,480.0 L237.4,479.9 L237.8,479.8 L238.2,479.7 L238.6,479.6 L239.0,479.4 L239.4,479.3 L239.8,479.2 L240.2,479.1 L240.6,479.0 L241.1,478.9 L241.5,478.7 L241.9,478.6 L242.3,478.5 L242.7,478.4 L243.1,478.3 L243.5,478.1 L243.9,478.0 L244.3,477.9 L244.7,477.8 L245.1,477.7 L245.5,477.5 L245.9,477.4 L246.3,477.3 L246.8,477.2 L247.2,477.1 L247.6,476.9 L248.0,476.8 L248.4,476.7 L248.8,476.6 L249.2,476.5 L249.6,476.3 L250.0,476.2 L250.4,476.1 L250.8,476.0 L251.2,475.9 L251.6,475.7 L252.1,475.6 L252.5,475.5 L252.9,475.4 L253.3,475.3 L253.7,475.1 L254.1,475.0 L254.5,474.9 L254.9,474.8 L255.3,474.6 L255.7,474.5 L256.1,474.4 L256.5,474.3 L256.9,474.2 L257.4,474.0 L257.8,473.9 L258.2,473.8 L258.6,473.7 L259.0,473.6 L259.4,473.4 L259.8,473.3 L260.2,473.2 L260.6,473.1 L261.0,473.0 L261.4,472.8 L261.8,472.7 L262.2,472.6 L262.6,472.5 L263.1,472.4 L263.5,472.2 L263.9,472.1 L264.3,472.0 L264.7,471.9 L265.1,471.7 L265.5,471.6" stroke="#ff0000"/>
<path d="M13.3,298.8 L13.7,298.8 L14.1,298.8 L14.5,298.8 L14.9,298.8 L15.3,298.8 L15.7,298.8 L16.1,298.8 L16.5,298.8 L16.9,298.8 L17.3,298.8 L17.8,298.8 L18.2,298.8 L18.6,298.8 L19.0,298.8 L19.4,298.8 L19.8,298.8 L20.2,298.8 L20.6,298.8 L21.0,298.8 L21.4,305.7 L21.8,319.9 L22.2,333.5 L22.6,346.4 L23.1,358.6 L23.5,370.3 L23.9,381.3 L24.3,391.8 L24.7,401.8 L25.1,411.2 L25.5,420.2 L25.9,428.6 L26.3,436.6 L26.7,444.2 L27.1,451.3 L27.5,458.1 L27.9,464.4 L28.3,470.4 L28.8,476.1 L29.2,481.4 L29.6,486.3 L30.0,491.0 L30.4,495.4 L30.8,499.4 L31.2,503.3 L31.6,506.8 L32.0,510.1 L32.4,513.2 L32.8,516.0 L33.2,518.6 L33.6,521.1 L34.1,523.3 L34.5,525.3 L34.9,527.2 L35.3,528.9 L35.7,530.4 L36.1,531.8 L36.5,533.0 L36.9,534.1 L37.3,535.1 L37.7,535.9 L38.1,536.6 L38.5,537.3 L38.9,537.8 L39.4,538.2 L39.8,538.5 L40.2,538.7 L40.6,538.9 L41.0,538.9 L41.4,538.9 L41.8,538.8 L42.2,538.7 L42.6,538.5 L43.0,538.2 L43.4,537.9 L43.8,537.5 L44.2,537.1 L44.6,536.7 L45.1,536.2 L45.5,535.6 L45.9,535.1 L46.3,534.5 L46.7,533.8 L47.1,533.2 L47.5,532.5 L47.9,531.8 L48.3,531.1 L48.7,530.3 L49.1,529.6 L49.5,528.8 L49.9,528.0 L50.4,527.2 L50.8,526.4 L51.2,525.6 L51.6,524.8 L52.0,524.0 L52.4,523.1 L52.8,522.3 L53.2,521.5 L53.6,520.6 L54.0,519.8 L54.4,519.0 L54.8,518.2 L55.2,517.3 L55.7,516.5 L56.1,515.7 L56.5,514.9 L56.9,514.1 L57.3,513.3 L57.7,512.5 L58.1,511.8 L58.5,511.0 L58.9,510.2 L59.3,509.5 L59.7,508.7 L60.1,508.0 L60.5,507.3 L60.9,506.6 L61.4,505.9 L61.8,505.2 L62.2,504.5 L62.6,503.8 L63.0,503.2 L63.4,502.6 L63.8,501.9 L64.2,501.3 L64.6,500.7 L65.0,500.1 L65.4,499.5 L65.8,499.0 L66.2,498.4 L66.7,497.9 L67.1,497.3 L67.5,496.8 L67.9,496.3 L68.3,495.8 L68.7,495.3 L69.1,494.9 L69.5,494.4 L69.9,493.9 L70.3,493.5 L70.7,493.1 L71.1,492.7 L71.5,492.3 L71.9,491.9 L72.4,491.5 L72.8,491.1 L73.2,490.8 L73.6,490.4 L74.0,490.1 L74.4,489.8 L74.8,489.5 L75.2,489.1 L75.6,488.9 L76.0,488.6 L76.4,488.3 L76.8,488.0 L77.2,487.8 L77.7,487.5 L78.1,487.3 L78.5,487.1 L78.9,486.8 L79.3,486.6 L79.7,486.4 L80.1,486.2 L80.5,486.0 L80.9,485.8 L81.3,485.7 L81.7,485.5 L82.1,485.3 L82.5,485.2 L83.0,485.0 L83.4,484.9 L83.8,484.8 L84.2,484.6 L84.6,484.5 L85.0,484.4 L85.4,484.3 L85.8,484.2 L86.2,484.1 L86.6,484.0 L87.0,483.9 L87.4,483.8 L87.8,483.8 L88.2,483.7 L88.7,483.6 L89.1,483.5 L89.5,483.5 L89.9,483.4 L90.3,483.4 L90.7,483.3 L91.1,483.3 L91.5,483.2 L91.9,483.2 L92.3,483.2 L92.7,483.1 L93.1,483.1 L93.5,483.1 L94.0,483.1 L94.4,483.0 L94.8,483.0 L95.2,483.0 L95.6,483.0 L96.0,483.0 L96.4,483.0 L96.8,483.0 L97.2,483.0 L97.6,483.0 L98.0,483.0 L98.4,483.0 L98.8,483.0 L99.3,483.0 L99.7,483.0 L100.1,483.0 L100.5,483.0 L100.9,483.0 L101.3,483.0 L101.7,483.0 L102.1,483.0 L102.5,483.0 L102.9,483.0 L103.3,483.0 L103.7,483.0 L104.1,483.1 L104.5,483.1 L105.0,483.1 L105.4,483.1 L105.8,483.1 L106.2,483.1 L106.6,483.1 L107.0,483.1 L107.4,483.1 L107.8,483.2 L108.2,483.2 L108.6,483.2 L109.0,483.2 L109.4,483.2 L109.8,483.2 L110.3,483.2 L110.7,483.2 L111.1,483.2 L111.5,483.2 L111.9,483.3 L112.3,483.3 L112.7,483.3 L113.1,483.3 L113.5,483.3 L113.9,483.3 L114.3,483.3 L114.7,483.3 L115.1,483.3 L115.5,483.3 L116.0,483.3 L116.4,483.3 L116.8,483.3 L117.2,483.3 L117.6,483.3 L118.0,483.2 L118.4,483.2 L118.8,483.2 L119.2,483.2 L119.6,483.2 L120.0,483.2 L120.4,483.2 L120.8,483.2 L121.3,483.1 L121.7,483.1 L122.1,483.1 L122.5,483.1 L122.9,483.1 L123.3,483.0 L123.7,483.0 L124.1,483.0 L124.5,483.0 L124.9,482.9 L125.3,482.9 L125.7,482.9 L126.1,482.8 L126.6,482.8 L127.0,482.8 L127.4,482.7 L127.8,482.7 L128.2,482.6 L128.6,482.6 L129.0,482.6 L129.4,482.5 L129.8,482.5 L130.2,482.4 L130.6,482.4 L131.0,482.3 L131.4,482.3 L131.8,482.2 L132.3,482.2 L132.7,482.1 L133.1,482.0 L133.5,482.0 L133.9,481.9 L134.3,481.9 L134.7,481.8 L135.1,481.7 L135.5,481.7 L135.9,481.6 L136.3,481.5 L136.7,481.5 L137.1,481.4 L137.6,481.3 L138.0,481.2 L138.4,481.2 L138.8,481.1 L139.2,481.0 L139.6,480.9 L140.0,480.8 L140.4,480.8 L140.8,480.7 L141.2,480.6 L141.6,480.5 L142.0,480.4 L142.4,480.3 L142.8,480.2 L143.3,480.1 L143.7,480.0 L144.1,480.0 L144.5,479.9 L144.9,479.8 L145.3,479.7 L145.7,479.6 L146.1,479.5 L146.5,479.4 L146.9,479.3 L147.3,479.2 L147.7,479.0 L148.1,478.9 L148.6,478.8 L149.0,478.7 L149.4,478.6 L149.8,478.5 L150.2,478.4 L150.6,478.3 L151.0,478.2 L151.4,478.0 L151.8,477.9 L152.2,477.8 L152.6,477.7 L153.0,477.6 L153.4,477.5 L153.9,477.3 L154.3,477.2 L154.7,477.1 L155.1,477.0 L155.5,476.8 L155.9,476.7 L156.3,476.6 L156.7,476.4 L157.1,476.3 L157.5,476.2 L157.9,476.1 L158.3,475.9 L158.7,475.8 L159.1,475.7 L159.6,475.5 L160.0,475.4 L160.4,475.2 L160.8,475.1 L161.2,475.0 L161.6,474.8 L162.0,474.7 L162.4,474.5 L162.8,474.4 L163.2,474.3 L163.6,474.1 L164.0,474.0 L164.4,473.8 L164.9,473.7 L165.3,473.5 L165.7,473.4 L166.1,473.2 L166.5,473.1 L166.9,472.9 L167.3,472.8 L167.7,472.6 L168.1,472.5 L168.5,472.3 L168.9,472.2 L169.3,472.0 L169.7,471.9 L170.2,471.7 L170.6,471.5 L171.0,471.4 L171.4,471.2 L171.8,471.1 L172.2,470.9 L172.6,470.7 L173.0,470.6 L173.4,470.4 L173.8,470.3 L174.2,470.1 L174.6,469.9 L175.0,469.8 L175.4,469.6 L175.9,469.4 L176.3,469.3 L176.7,469.1 L177.1,468.9 L177.5,468.8 L177.9,468.6 L178.3,468.4 L178.7,468.3 L179.1,468.1 L179.5,467.9 L179.9,467.8 L180.3,467.6 L180.7,467.4 L181.2,467.2 L181.6,467.1 L182.0,466.9 L182.4,466.7 L182.8,466.6 L183.2,466.4 L183.6,466.2 L184.0,466.0 L184.4,465.9 L184.8,465.7 L185.2,465.5 L185.6,465.3 L186.0,465.2 L186.4,465.0 L186.9,464.8 L187.3,464.6 L187.7,464.4 L188.1,464.3 L188.5,464.1 L188.9,463.9 L189.3,463.7 L189.7,463.5 L190.1,463.4 L190.5,463.2 L190.9,463.0 L191.3,462.8 L191.7,462.6 L192.2,462.5 L192.6,462.3 L193.0,462.1 L193.4,461.9 L193.8,461.7 L194.2,461.5 L194.6,461.3 L195.0,461.2 L195.4,461.0 L195.8,460.8 L196.2,460.6 L196.6,460.4 L197.0,460.2 L197.5,460.1 L197.9,459.9 L198.3,459.7 L198.7,459.5 L199.1,459.3 L199.5,459.1 L199.9,458.9 L200.3,458.7 L200.7,458.5 L201.1,458.4 L201.5,458.2 L201.9,458.0 L202.3,457.8 L202.7,457.6 L203.2,457.4 L203.6,457.2 L204.0,457.0 L204.4,456.8 L204.8,456.7 L205.2,456.5 L205.6,456.3 L206.0,456.1 L206.4,455.9 L206.8,455.7 L207.2,455.5 L207.6,455.3 L208.0,455.1 L208.5,454.9 L208.9,454.7 L209.3,454.5 L209.7,454.3 L210.1,454.2 L210.5,454.0 L210.9,453.8 L211.3,453.6 L211.7,453.4 L212.1,453.2 L212.5,453.0 L212.9,452.8 L213.3,452.6 L213.8,452.4 L214.2,452.2 L214.6,452.0 L215.0,451.8 L215.4,451.6 L215.8,451.4 L216.2,451.2 L216.6,451.0 L217.0,450.8 L217.4,450.6 L217.8,450.5 L218.2,450.3 L218.6,450.1 L219.0,449.9 L219.5,449.7 L219.9,449.5 L220.3,449.3 L220.7,449.1 L221.1,448.9 L221.5,448.7 L221.9,448.5 L222.3,448.3 L222.7,448.1 L223.1,447.9 L223.5,447.7 L223.9,447.5 L224.3,447.3 L224.8,447.1 L225.2,446.9 L225.6,446.7 L226.0,446.5 L226.4,446.3 L226.8,446.1 L227.2,445.9 L227.6,445.7 L228.0,445.5 L228.4,445.3 L228.8,445.1 L229.2,444.9 L229.6,444.7 L230.0,444.5 L230.5,444.3 L230.9,444.1 L231.3,443.9 L231.7,443.7 L232.1,443.5 L232.5,443.3 L232.9,443.1 L233.3,442.9 L233.7,442.7 L234.1,442.5 L234.5,442.3 L234.9,442.1 L235.3,441.9 L235.8,441.7 L236.2,441.5 L236.6,441.3 L237.0,441.1 L237.4,440.9 L237.8,440.7 L238.2,440.5 L238.6,440.3 L239.0,440.1 L239.4,439.9 L239.8,439.7 L240.2,439.5 L240.6,439.3 L241.1,439.1 L241.5,438.9 L241.9,438.7 L242.3,438.5 L242.7,438.3 L243.1,438.1 L243.5,437.9 L243.9,437.7 L244.3,437.5 L244.7,437.3 L245.1,437.1 L245.5,436.9 L245.9,436.7 L246.3,436.5 L246.8,436.3 L247.2,436.1 L247.6,435.9 L248.0,435.7 L248.4,435.5 L248.8,435.3 L249.2,435.1 L249.6,434.9 L250.0,434.7 L250.4,434.5 L250.8,434.3 L251.2,434.1 L251.6,433.9 L252.1,433.7 L252.5,433.5 L252.9,433.3 L253.3,433.1 L253.7,432.9 L254.1,432.7 L254.5,432.5 L254.9,432.3 L255.3,432.1 L255.7,431.9 L256.1,431.7 L256.5,431.5 L256.9,431.3 L257.4,431.1 L257.8,430.8 L258.2,430.6 L258.6,430.4 L259.0,430.2 L259.4,430.0 L259.8,429.8 L260.2,429.6 L260.6,429.4 L261.0,429.2 L261.4,429.0 L261.8,428.8 L262.2,428.6 L262.6,428.4 L263.1,428.2 L263.5,428.0 L263.9,427.8 L264.3,427.6 L264.7,427.4 L265.1,427.2 L265.5,427.0" stroke="#ff8000"/>
<path d="M13.3,298.8 L13.7,298.8 L14.1,298.8 L14.5,298.8 L14.9,298.8 L15.3,298.8 L15.7,298.8 L16.1,298.8 L16.5,298.8 L16.9,298.8 L17.3,298.8 L17.8,298.8 L18.2,298.8 L18.6,298.8 L19.0,298.8 L19.4,298.8 L19.8,298.8 L20.2,298.8 L20.6,298.8 L21.0,301.4 L21.4,316.2 L21.8,330.2 L22.2,343.6 L22.6,356.2 L23.1,368.3 L23.5,379.7 L23.9,390.6 L24.3,400.9 L24.7,410.6 L25.1,419.9 L25.5,428.6 L25.9,436.9 L26.3,444.7 L26.7,452.0 L27.1,459.0 L27.5,465.5 L27.9,471.7 L28.3,477.5 L28.8,482.9 L29.2,488.0 L29.6,492.7 L30.0,497.2 L30.4,501.4 L30.8,505.2 L31.2,508.8 L31.6,512.2 L32.0,515.3 L32.4,518.2 L32.8,520.8 L33.2,523.2 L33.6,525.4 L34.1,527.4 L34.5,529.3 L34.9,530.9 L35.3,532.4 L35.7,533.8 L36.1,534.9 L36.5,536.0 L36.9,536.9 L37.3,537.6 L37.7,538.3 L38.1,538.8 L38.5,539.2 L38.9,539.5 L39.4,539.7 L39.8,539.8 L40.2,539.8 L40.6,539.8 L41.0,539.6 L41.4,539.4 L41.8,539.1 L42.2,538.8 L42.6,538.4 L43.0,537.9 L43.4,537.4 L43.8,536.8 L44.2,536.2 L44.6,535.5 L45.1,534.8 L45.5,534.1 L45.9,533.3 L46.3,532.5 L46.7,531.7 L47.1,530.8 L47.5,529.9 L47.9,529.0 L48.3,528.1 L48.7,527.2 L49.1,526.2 L49.5,525.2 L49.9,524.2 L50.4,523.2 L50.8,522.2 L51.2,521.2 L51.6,520.2 L52.0,519.2 L52.4,518.1 L52.8,517.1 L53.2,516.1 L53.6,515.0 L54.0,514.0 L54.4,513.0 L54.8,511.9 L55.2,510.9 L55.7,509.9 L56.1,508.9 L56.5,507.9 L56.9,506.9 L57.3,505.9 L57.7,504.9 L58.1,503.9 L58.5,502.9 L58.9,502.0 L59.3,501.0 L59.7,500.1 L60.1,499.1 L60.5,498.2 L60.9,497.3 L61.4,496.4 L61.8,495.5 L62.2,494.6 L62.6,493.8 L63.0,492.9 L63.4,492.1 L63.8,491.2 L64.2,490.4 L64.6,489.6 L65.0,488.8 L65.4,488.0 L65.8,487.2 L66.2,486.5 L66.7,485.7 L67.1,485.0 L67.5,484.3 L67.9,483.6 L68.3,482.9 L68.7,482.2 L69.1,481.5 L69.5,480.8 L69.9,480.2 L70.3,479.5 L70.7,478.9 L71.1,478.3 L71.5,477.7 L71.9,477.1 L72.4,476.5 L72.8,475.9 L73.2,475.4 L73.6,474.8 L74.0,474.3 L74.4,473.8 L74.8,473.2 L75.2,472.7 L75.6,472.2 L76.0,471.8 L76.4,471.3 L76.8,470.8 L77.2,470.3 L77.7,469.9 L78.1,469.4 L78.5,469.0 L78.9,468.6 L79.3,468.2 L79.7,467.8 L80.1,467.4 L80.5,467.0 L80.9,466.6 L81.3,466.2 L81.7,465.8 L82.1,465.5 L82.5,465.1 L83.0,464.8 L83.4,464.4 L83.8,464.1 L84.2,463.7 L84.6,463.4 L85.0,463.1 L85.4,462.8 L85.8,462.5 L86.2,462.2 L86.6,461.9 L87.0,461.6 L87.4,461.3 L87.8,461.0 L88.2,460.7 L88.7,460.5 L89.1,460.2 L89.5,459.9 L89.9,459.7 L90.3,459.4 L90.7,459.2 L91.1,458.9 L91.5,458.7 L91.9,458.4 L92.3,458.2 L92.7,458.0 L93.1,457.7 L93.5,457.5 L94.0,457.3 L94.4,457.1 L94.8,456.8 L95.2,456.6 L95.6,456.4 L96.0,456.2 L96.4,456.0 L96.8,455.8 L97.2,455.5 L97.6,455.3 L98.0,455.1 L98.4,454.9 L98.8,454.7 L99.3,454.5 L99.7,454.3 L100.1,454.1 L100.5,453.9 L100.9,453.7 L101.3,453.5 L101.7,453.3 L102.1,453.1 L102.5,452.9 L102.9,452.8 L103.3,452.6 L103.7,452.4 L104.1,452.2 L104.5,452.0 L105.0,451.8 L105.4,451.6 L105.8,451.4 L106.2,451.2 L106.6,451.0 L107.0,450.8 L107.4,450.6 L107.8,450.4 L108.2,450.3 L108.6,450.1 L109.0,449.9 L109.4,449.7 L109.8,449.5 L110.3,449.3 L110.7,449.1 L111.1,448.9 L111.5,448.7 L111.9,448.5 L112.3,448.3 L112.7,448.1 L113.1,447.9 L113.5,447.7 L113.9,447.5 L114.3,447.3 L114.7,447.1 L115.1,446.9 L115.5,446.7 L116.0,446.5 L116.4,446.3 L116.8,446.1 L117.2,445.9 L117.6,445.7 L118.0,445.4 L118.4,445.2 L118.8,445.0 L119.2,444.8 L119.6,444.6 L120.0,444.4 L120.4,444.1 L120.8,443.9 L121.3,443.7 L121.7,443.5 L122.1,443.3 L122.5,443.0 L122.9,442.8 L123.3,442.6 L123.7,442.4 L124.1,442.1 L124.5,441.9 L124.9,441.7 L125.3,441.4 L125.7,441.2 L126.1,441.0 L126.6,440.7 L127.0,440.5 L127.4,440.2 L127.8,440.0 L128.2,439.7 L128.6,439.5 L129.0,439.3 L129.4,439.0 L129.8,438.8 L130.2,438.5 L130.6,438.2 L131.0,438.0 L131.4,437.7 L131.8,437.5 L132.3,437.2 L132.7,437.0 L133.1,436.7 L133.5,436.4 L133.9,436.2 L134.3,435.9 L134.7,435.6 L135.1,435.4 L135.5,435.1 L135.9,434.8 L136.3,434.6 L136.7,434.3 L137.1,434.0 L137.6,433.7 L138.0,433.5 L138.4,433.2 L138.8,432.9 L139.2,432.6 L139.6,432.3 L140.0,432.0 L140.4,431.8 L140.8,431.5 L141.2,431.2 L141.6,430.9 L142.0,430.6 L142.4,430.3 L142.8,430.0 L143.3,429.7 L143.7,429.4 L144.1,429.1 L144.5,428.8 L144.9,428.5 L145.3,428.2 L145.7,427.9 L146.1,427.6 L146.5,427.3 L146.9,427.0 L147.3,426.7 L147.7,426.4 L148.1,426.1 L148.6,425.8 L149.0,425.4 L149.4,425.1 L149.8,424.8 L150.2,424.5 L150.6,424.2 L151.0,423.9 L151.4,423.5 L151.8,423.2 L152.2,422.9 L152.6,422.6 L153.0,422.3 L153.4,421.9 L153.9,421.6 L154.3,421.3 L154.7,420.9 L155.1,420.6 L155.5,420.3 L155.9,420.0 L156.3,419.6 L156.7,419.3 L157.1,419.0 L157.5,418.6 L157.9,418.3 L158.3,417.9 L158.7,417.6 L159.1,417.3 L159.6,416.9 L160.0,416.6 L160.4,416.3 L160.8,415.9 L161.2,415.6 L161.6,415.2 L162.0,414.9 L162.4,414.5 L162.8,414.2 L163.2,413.8 L163.6,413.5 L164.0,413.1 L164.4,412.8 L164.9,412.4 L165.3,412.1 L165.7,411.7 L166.1,411.4 L166.5,411.0 L166.9,410.7 L167.3,410.3 L167.7,410.0 L168.1,409.6 L168.5,409.3 L168.9,408.9 L169.3,408.5 L169.7,408.2 L170.2,407.8 L170.6,407.5 L171.0,407.1 L171.4,406.7 L171.8,406.4 L172.2,406.0 L172.6,405.6 L173.0,405.3 L173.4,404.9 L173.8,404.5 L174.2,404.2 L174.6,403.8 L175.0,403.4 L175.4,403.1 L175.9,402.7 L176.3,402.3 L176.7,402.0 L177.1,401.6 L177.5,401.2 L177.9,400.9 L178.3,400.5 L178.7,400.1 L179.1,399.7 L179.5,399.4 L179.9,399.0 L180.3,398.6 L180.7,398.2 L181.2,397.9 L181.6,397.5 L182.0,397.1 L182.4,396.7 L182.8,396.4 L183.2,396.0 L183.6,395.6 L184.0,395.2 L184.4,394.8 L184.8,394.5 L185.2,394.1 L185.6,393.7 L186.0,393.3 L186.4,392.9 L186.9,392.6 L187.3,392.2 L187.7,391.8 L188.1,391.4 L188.5,391.0 L188.9,390.6 L189.3,390.3 L189.7,389.9 L190.1,389.5 L190.5,389.1 L190.9,388.7 L191.3,388.3 L191.7,388.0 L192.2,387.6 L192.6,387.2 L193.0,386.8 L193.4,386.4 L193.8,386.0 L194.2,385.6 L194.6,385.2 L195.0,384.9 L195.4,384.5 L195.8,384.1 L196.2,383.7 L196.6,383.3 L197.0,382.9 L197.5,382.5 L197.9,382.1 L198.3,381.7 L198.7,381.3 L199.1,381.0 L199.5,380.6 L199.9,380.2 L200.3,379.8 L200.7,379.4 L201.1,379.0 L201.5,378.6 L201.9,378.2 L202.3,377.8 L202.7,377.4 L203.2,377.0 L203.6,376.6 L204.0,376.2 L204.4,375.8 L204.8,375.5 L205.2,375.1 L205.6,374.7 L206.0,374.3 L206.4,373.9 L206.8,373.5 L207.2,373.1 L207.6,372.7 L208.0,372.3 L208.5,371.9 L208.9,371.5 L209.3,371.1 L209.7,370.7 L210.1,370.3 L210.5,369.9 L210.9,369.5 L211.3,369.1 L211.7,368.7 L212.1,368.3 L212.5,367.9 L212.9,367.5 L213.3,367.1 L213.8,366.7 L214.2,366.3 L214.6,365.9 L215.0,365.5 L215.4,365.1 L215.8,364.7 L216.2,364.3 L216.6,363.9 L217.0,363.5 L217.4,363.1 L217.8,362.7 L218.2,362.3 L218.6,361.9 L219.0,361.5 L219.5,361.1 L219.9,360.7 L220.3,360.3 L220.7,359.9 L221.1,359.5 L221.5,359.1 L221.9,358.7 L222.3,358.3 L222.7,357.9 L223.1,357.5 L223.5,357.1 L223.9,356.7 L224.3,356.3 L224.8,355.9 L225.2,355.5 L225.6,355.1 L226.0,354.7 L226.4,354.3 L226.8,353.9 L227.2,353.5 L227.6,353.1 L228.0,352.7 L228.4,352.3 L228.8,351.9 L229.2,351.5 L229.6,351.1 L230.0,350.7 L230.5,350.3 L230.9,349.9 L231.3,349.5 L231.7,349.1 L232.1,348.7 L232.5,348.3 L232.9,347.9 L233.3,347.5 L233.7,347.1 L234.1,346.7 L234.5,346.3 L234.9,345.8 L235.3,345.4 L235.8,345.0 L236.2,344.6 L236.6,344.2 L237.0,343.8 L237.4,343.4 L237.8,343.0 L238.2,342.6 L238.6,342.2 L239.0,341.8 L239.4,341.4 L239.8,341.0 L240.2,340.6 L240.6,340.2 L241.1,339.8 L241.5,339.4 L241.9,339.0 L242.3,338.6 L242.7,338.2 L243.1,337.8 L243.5,337.4 L243.9,337.0 L244.3,336.5 L244.7,336.1 L245.1,335.7 L245.5,335.3 L245.9,334.9 L246.3,334.5 L246.8,334.1 L247.2,333.7 L247.6,333.3 L248.0,332.9 L248.4,332.5 L248.8,332.1 L249.2,331.7 L249.6,331.3 L250.0,330.9 L250.4,330.5 L250.8,330.1 L251.2,329.7 L251.6,329.3 L252.1,328.8 L252.5,328.4 L252.9,328.0 L253.3,327.6 L253.7,327.2 L254.1,326.8 L254.5,326.4 L254.9,326.0 L255.3,325.6 L255.7,325.2 L256.1,324.8 L256.5,324.4 L256.9,324.0 L257.4,323.6 L257.8,323.2 L258.2,322.8 L258.6,322.4 L259.0,321.9 L259.4,321.5 L259.8,321.1 L260.2,320.7 L260.6,320.3 L261.0,319.9 L261.4,319.5 L261.8,319.1 L262.2,318.7 L262.6,318.3 L263.1,317.9 L263.5,317.5 L263.9,317.1 L264.3,316.7 L264.7,316.3 L265.1,315.9 L265.5,315.4" stroke="#0000ff"/>
<path d="M13.3,298.8 L13.7,298.8 L14.1,298.8 L14.5,298.8 L14.9,298.8 L15.3,298.8 L15.7,298.8 L16.1,298.8 L16.5,298.8 L16.9,298.8 L17.3,298.8 L17.8,298.8 L18.2,298.8 L18.6,298.8 L19.0,298.8 L19.4,298.8 L19.8,298.8 L20.2,298.8 L20.6,298.8 L21.0,312.1 L21.4,326.7 L21.8,340.5 L22.2,353.6 L22.6,366.1 L23.1,378.0 L23.5,389.2 L23.9,399.8 L24.3,409.9 L24.7,419.5 L25.1,428.5 L25.5,437.1 L25.9,445.1 L26.3,452.7 L26.7,459.9 L27.1,466.6 L27.5,472.9 L27.9,478.9 L28.3,484.5 L28.8,489.7 L29.2,494.6 L29.6,499.2 L30.0,503.4 L30.4,507.4 L30.8,511.0 L31.2,514.4 L31.6,517.6 L32.0,520.5 L32.4,523.1 L32.8,525.6 L33.2,527.8 L33.6,529.8 L34.1,531.6 L34.5,533.2 L34.9,534.7 L35.3,536.0 L35.7,537.1 L36.1,538.1 L36.5,538.9 L36.9,539.6 L37.3,540.2 L37.7,540.6 L38.1,540.9 L38.5,541.1 L38.9,541.2 L39.4,541.2 L39.8,541.1 L40.2,540.9 L40.6,540.7 L41.0,540.3 L41.4,539.9 L41.8,539.4 L42.2,538.9 L42.6,538.3 L43.0,537.6 L43.4,536.9 L43.8,536.1 L44.2,535.3 L44.6,534.4 L45.1,533.5 L45.5,532.6 L45.9,531.6 L46.3,530.6 L46.7,529.5 L47.1,528.5 L47.5,527.4 L47.9,526.3 L48.3,525.1 L48.7,524.0 L49.1,522.8 L49.5,521.6 L49.9,520.5 L50.4,519.3 L50.8,518.0 L51.2,516.8 L51.6,515.6 L52.0,514.4 L52.4,513.1 L52.8,511.9 L53.2,510.7 L53.6,509.4 L54.0,508.2 L54.4,507.0 L54.8,505.7 L55.2,504.5 L55.7,503.3 L56.1,502.0 L56.5,500.8 L56.9,499.6 L57.3,498.4 L57.7,497.2 L58.1,496.0 L58.5,494.9 L58.9,493.7 L59.3,492.5 L59.7,491.4 L60.1,490.3 L60.5,489.1 L60.9,488.0 L61.4,486.9 L61.8,485.8 L62.2,484.7 L62.6,483.7 L63.0,482.6 L63.4,481.5 L63.8,480.5 L64.2,479.5 L64.6,478.5 L65.0,477.5 L65.4,476.5 L65.8,475.5 L66.2,474.5 L66.7,473.6 L67.1,472.7 L67.5,471.7 L67.9,470.8 L68.3,469.9 L68.7,469.0 L69.1,468.1 L69.5,467.3 L69.9,466.4 L70.3,465.6 L70.7,464.7 L71.1,463.9 L71.5,463.1 L71.9,462.3 L72.4,461.5 L72.8,460.8 L73.2,460.0 L73.6,459.2 L74.0,458.5 L74.4,457.8 L74.8,457.0 L75.2,456.3 L75.6,455.6 L76.0,454.9 L76.4,454.3 L76.8,453.6 L77.2,452.9 L77.7,452.3 L78.1,451.6 L78.5,451.0 L78.9,450.3 L79.3,449.7 L79.7,449.1 L80.1,448.5 L80.5,447.9 L80.9,447.3 L81.3,446.7 L81.7,446.2 L82.1,445.6 L82.5,445.0 L83.0,444.5 L83.4,443.9 L83.8,443.4 L84.2,442.9 L84.6,442.3 L85.0,441.8 L85.4,441.3 L85.8,440.8 L86.2,440.3 L86.6,439.8 L87.0,439.3 L87.4,438.8 L87.8,438.3 L88.2,437.8 L88.7,437.3 L89.1,436.9 L89.5,436.4 L89.9,435.9 L90.3,435.5 L90.7,435.0 L91.1,434.6 L91.5,434.1 L91.9,433.7 L92.3,433.2 L92.7,432.8 L93.1,432.4 L93.5,431.9 L94.0,431.5 L94.4,431.1 L94.8,430.6 L95.2,430.2 L95.6,429.8 L96.0,429.4 L96.4,429.0 L96.8,428.5 L97.2,428.1 L97.6,427.7 L98.0,427.3 L98.4,426.9 L98.8,426.5 L99.3,426.1 L99.7,425.7 L100.1,425.3 L100.5,424.9 L100.9,424.5 L101.3,424.1 L101.7,423.7 L102.1,423.3 L102.5,422.9 L102.9,422.5 L103.3,422.1 L103.7,421.7 L104.1,421.3 L104.5,420.9 L105.0,420.5 L105.4,420.1 L105.8,419.7 L106.2,419.3 L106.6,418.9 L107.0,418.5 L107.4,418.1 L107.8,417.7 L108.2,417.3 L108.6,416.9 L109.0,416.6 L109.4,416.2 L109.8,415.8 L110.3,415.4 L110.7,415.0 L111.1,414.6 L111.5,414.2 L111.9,413.8 L112.3,413.4 L112.7,413.0 L113.1,412.6 L113.5,412.1 L113.9,411.7 L114.3,411.3 L114.7,410.9 L115.1,410.5 L115.5,410.1 L116.0,409.7 L116.4,409.3 L116.8,408.9 L117.2,408.5 L117.6,408.1 L118.0,407.6 L118.4,407.2 L118.8,406.8 L119.2,406.4 L119.6,406.0 L120.0,405.5 L120.4,405.1 L120.8,404.7 L121.3,404.3 L121.7,403.8 L122.1,403.4 L122.5,403.0 L122.9,402.6 L123.3,402.1 L123.7,401.7 L124.1,401.3 L124.5,400.8 L124.9,400.4 L125.3,400.0 L125.7,399.5 L126.1,399.1 L126.6,398.6 L127.0,398.2 L127.4,397.7 L127.8,397.3 L128.2,396.8 L128.6,396.4 L129.0,395.9 L129.4,395.5 L129.8,395.0 L130.2,394.6 L130.6,394.1 L131.0,393.7 L131.4,393.2 L131.8,392.7 L132.3,392.3 L132.7,391.8 L133.1,391.4 L133.5,390.9 L133.9,390.4 L134.3,390.0 L134.7,389.5 L135.1,389.0 L135.5,388.5 L135.9,388.1 L136.3,387.6 L136.7,387.1 L137.1,386.6 L137.6,386.1 L138.0,385.7 L138.4,385.2 L138.8,384.7 L139.2,384.2 L139.6,383.7 L140.0,383.2 L140.4,382.7 L140.8,382.3 L141.2,381.8 L141.6,381.3 L142.0,380.8 L142.4,380.3 L142.8,379.8 L143.3,379.3 L143.7,378.8 L144.1,378.3 L144.5,377.8 L144.9,377.3 L145.3,376.8 L145.7,376.3 L146.1,375.7 L146.5,375.2 L146.9,374.7 L147.3,374.2 L147.7,373.7 L148.1,373.2 L148.6,372.7 L149.0,372.2 L149.4,371.6 L149.8,371.1 L150.2,370.6 L150.6,370.1 L151.0,369.6 L151.4,369.0 L151.8,368.5 L152.2,368.0 L152.6,367.5 L153.0,366.9 L153.4,366.4 L153.9,365.9 L154.3,365.3 L154.7,364.8 L155.1,364.3 L155.5,363.7 L155.9,363.2 L156.3,362.7 L156.7,362.1 L157.1,361.6 L157.5,361.1 L157.9,360.5 L158.3,360.0 L158.7,359.4 L159.1,358.9 L159.6,358.3 L160.0,357.8 L160.4,357.3 L160.8,356.7 L161.2,356.2 L161.6,355.6 L162.0,355.1 L162.4,354.5 L162.8,354.0 L163.2,353.4 L163.6,352.9 L164.0,352.3 L164.4,351.8 L164.9,351.2 L165.3,350.7 L165.7,350.1 L166.1,349.5 L166.5,349.0 L166.9,348.4 L167.3,347.9 L167.7,347.3 L168.1,346.7 L168.5,346.2 L168.9,345.6 L169.3,345.1 L169.7,344.5 L170.2,343.9 L170.6,343.4 L171.0,342.8 L171.4,342.2 L171.8,341.7 L172.2,341.1 L172.6,340.5 L173.0,340.0 L173.4,339.4 L173.8,338.8 L174.2,338.3 L174.6,337.7 L175.0,337.1 L175.4,336.5 L175.9,336.0 L176.3,335.4 L176.7,334.8 L177.1,334.3 L177.5,333.7 L177.9,333.1 L178.3,332.5 L178.7,332.0 L179.1,331.4 L179.5,330.8 L179.9,330.2 L180.3,329.6 L180.7,329.1 L181.2,328.5 L181.6,327.9 L182.0,327.3 L182.4,326.7 L182.8,326.2 L183.2,325.6 L183.6,325.0 L184.0,324.4 L184.4,323.8 L184.8,323.3 L185.2,322.7 L185.6,322.1 L186.0,321.5 L186.4,320.9 L186.9,320.3 L187.3,319.7 L187.7,319.2 L188.1,318.6 L188.5,318.0 L188.9,317.4 L189.3,316.8 L189.7,316.2 L190.1,315.6 L190.5,315.0 L190.9,314.5 L191.3,313.9 L191.7,313.3 L192.2,312.7 L192.6,312.1 L193.0,311.5 L193.4,310.9 L193.8,310.3 L194.2,309.7 L194.6,309.1 L195.0,308.5 L195.4,308.0 L195.8,307.4 L196.2,306.8 L196.6,306.2 L197.0,305.6 L197.5,305.0 L197.9,304.4 L198.3,303.8 L198.7,303.2 L199.1,302.6 L199.5,302.0 L199.9,301.4 L200.3,300.8 L200.7,300.2 L201.1,299.6 L201.5,299.0 L201.9,298.8 L202.3,298.8 L202.7,298.8 L203.2,298.8 L203.6,298.8 L204.0,298.8 L204.4,298.8 L204.8,298.8 L205.2,298.8 L205.6,298.8 L206.0,298.8 L206.4,298.8 L206.8,298.8 L207.2,298.8 L207.6,298.8 L208.0,298.8 L208.5,298.8 L208.9,298.8 L209.3,298.8 L209.7,298.8 L210.1,298.8 L210.5,298.8 L210.9,298.8 L211.3,298.8 L211.7,298.8 L212.1,298.8 L212.5,298.8 L212.9,298.8 L213.3,298.8 L213.8,298.8 L214.2,298.8 L214.6,298.8 L215.0,298.8 L215.4,298.8 L215.8,298.8 L216.2,298.8 L216.6,298.8 L217.0,298.8 L217.4,298.8 L217.8,298.8 L218.2,298.8 L218.6,298.8 L219.0,298.8 L219.5,298.8 L219.9,298.8 L220.3,298.8 L220.7,298.8 L221.1,298.8 L221.5,298.8 L221.9,298.8 L222.3,298.8 L222.7,298.8 L223.1,298.8 L223.5,298.8 L223.9,298.8 L224.3,298.8 L224.8,298.8 L225.2,298.8 L225.6,298.8 L226.0,298.8 L226.4,298.8 L226.8,298.8 L227.2,298.8 L227.6,298.8 L228.0,298.8 L228.4,298.8 L228.8,298.8 L229.2,298.8 L229.6,298.8 L230.0,298.8 L230.5,298.8 L230.9,298.8 L231.3,298.8 L231.7,298.8 L232.1,298.8 L232.5,298.8 L232.9,298.8 L233.3,298.8 L233.7,298.8 L234.1,298.8 L234.5,298.8 L234.9,298.8 L235.3,298.8 L235.8,298.8 L236.2,298.8 L236.6,298.8 L237.0,298.8 L237.4,298.8 L237.8,298.8 L238.2,298.8 L238.6,298.8 L239.0,298.8 L239.4,298.8 L239.8,298.8 L240.2,298.8 L240.6,298.8 L241.1,298.8 L241.5,298.8 L241.9,298.8 L242.3,298.8 L242.7,298.8 L243.1,298.8 L243.5,298.8 L243.9,298.8 L244.3,298.8 L244.7,298.8 L245.1,298.8 L245.5,298.8 L245.9,298.8 L246.3,298.8 L246.8,298.8 L247.2,298.8 L247.6,298.8 L248.0,298.8 L248.4,298.8 L248.8,298.8 L249.2,298.8 L249.6,298.8 L250.0,298.8 L250.4,298.8 L250.8,298.8 L251.2,298.8 L251.6,298.8 L252.1,298.8 L252.5,298.8 L252.9,298.8 L253.3,298.8 L253.7,298.8 L254.1,298.8 L254.5,298.8 L254.9,298.8 L255.3,298.8 L255.7,298.8 L256.1,298.8 L256.5,298.8 L256.9,298.8 L257.4,298.8 L257.8,298.8 L258.2,298.8 L258.6,298.8 L259.0,298.8 L259.4,298.8 L259.8,298.8 L260.2,298.8 L260.6,298.8 L261.0,298.8 L261.4,298.8 L261.8,298.8 L262.2,298.8 L262.6,298.8 L263.1,298.8 L263.5,298.8 L263.9,298.8 L264.3,298.8 L264.7,298.8 L265.1,298.8 L265.5,298.8" stroke="#00ff00"/>
</g>
<text x="252.20" y="533.90" class="xl">x</text>
<text id="tc0" x="82.25" y="305.00" class="tt" textLength="12.49" lengthAdjust="spacingAndGlyphs">(<tspan font-weight="bold">c</tspan>)</text>
<text id="tc1" x="98.48" y="305.00" class="tt" textLength="36.67" lengthAdjust="spacingAndGlyphs">(<tspan font-style="italic">r</tspan>,&#8201;<tspan font-style="italic">γ</tspan>,&#8201;<tspan font-style="italic">δ</tspan>)</text>
<text id="tc2" x="138.71" y="306.40" class="tt teq" textLength="9.42" lengthAdjust="spacingAndGlyphs">=</text>
<text id="tc3" x="152.32" y="305.00" class="tt" textLength="41.42" lengthAdjust="spacingAndGlyphs">(10,&#8201;2,&#8201;3)</text>
<text id="ltc" x="47.00" y="330.90" class="lt" textLength="40.51" lengthAdjust="spacingAndGlyphs"><tspan font-style="italic">F</tspan><tspan font-style="italic" font-size="72%" dy="2.4" dx="0.4">b</tspan><tspan dy="-2.4" dx="1.0">(x;r,</tspan><tspan font-style="italic">γ</tspan>,<tspan font-style="italic">δ</tspan>)</text>
<line x1="47.10" y1="343.10" x2="65.50" y2="343.10" stroke="#ff0000" stroke-width="1.9"/>
<text id="lgc0" x="67.34" y="347.10" class="lg" textLength="22.46" lengthAdjust="spacingAndGlyphs">b<tspan dx="0.8">=</tspan><tspan dx="0.8">0.3</tspan></text>
<line x1="47.10" y1="359.80" x2="65.50" y2="359.80" stroke="#ff8000" stroke-width="1.9"/>
<text id="lgc1" x="67.33" y="363.80" class="lg" textLength="22.54" lengthAdjust="spacingAndGlyphs">b<tspan dx="0.8">=</tspan><tspan dx="0.8">0.5</tspan></text>
<line x1="47.10" y1="376.40" x2="65.50" y2="376.40" stroke="#0000ff" stroke-width="1.9"/>
<text id="lgc2" x="68.13" y="380.40" class="lg" textLength="16.13" lengthAdjust="spacingAndGlyphs">b<tspan dx="0.8">=</tspan><tspan dx="0.8">1</tspan></text>
<line x1="47.10" y1="393.00" x2="65.50" y2="393.00" stroke="#00ff00" stroke-width="1.9"/>
<text id="lgc3" x="67.15" y="397.00" class="lg" textLength="23.07" lengthAdjust="spacingAndGlyphs">b<tspan dx="0.8">=</tspan><tspan dx="0.8">1.5</tspan></text>
<clipPath id="c3"><rect x="291.50" y="315.50" width="252.00" height="251.00"/></clipPath>
<line x1="292.50" y1="566.50" x2="543.50" y2="315.50" stroke="#d2d2d2" stroke-width="1.0"/>
<line x1="292.50" y1="538.50" x2="543.50" y2="538.50" stroke="#d0d0d0" stroke-width="1.0"/>
<line x1="320.00" y1="315.50" x2="320.00" y2="566.50" stroke="#c2c2c2" stroke-width="1.0"/>
<path d="M298.08,566.50v-2.00M298.08,315.50v2.00M292.50,560.92h2.00M543.50,560.92h-2.00M309.23,566.50v-2.00M309.23,315.50v2.00M292.50,549.77h2.00M543.50,549.77h-2.00M320.39,566.50v-3.60M320.39,315.50v3.60M292.50,538.61h3.60M543.50,538.61h-3.60M331.54,566.50v-2.00M331.54,315.50v2.00M292.50,527.46h2.00M543.50,527.46h-2.00M342.70,566.50v-2.00M342.70,315.50v2.00M292.50,516.30h2.00M543.50,516.30h-2.00M353.86,566.50v-2.00M353.86,315.50v2.00M292.50,505.14h2.00M543.50,505.14h-2.00M365.01,566.50v-2.00M365.01,315.50v2.00M292.50,493.99h2.00M543.50,493.99h-2.00M376.17,566.50v-3.60M376.17,315.50v3.60M292.50,482.83h3.60M543.50,482.83h-3.60M387.32,566.50v-2.00M387.32,315.50v2.00M292.50,471.68h2.00M543.50,471.68h-2.00M398.48,566.50v-2.00M398.48,315.50v2.00M292.50,460.52h2.00M543.50,460.52h-2.00M409.63,566.50v-2.00M409.63,315.50v2.00M292.50,449.37h2.00M543.50,449.37h-2.00M420.79,566.50v-2.00M420.79,315.50v2.00M292.50,438.21h2.00M543.50,438.21h-2.00M431.94,566.50v-3.60M431.94,315.50v3.60M292.50,427.06h3.60M543.50,427.06h-3.60M443.10,566.50v-2.00M443.10,315.50v2.00M292.50,415.90h2.00M543.50,415.90h-2.00M454.26,566.50v-2.00M454.26,315.50v2.00M292.50,404.74h2.00M543.50,404.74h-2.00M465.41,566.50v-2.00M465.41,315.50v2.00M292.50,393.59h2.00M543.50,393.59h-2.00M476.57,566.50v-2.00M476.57,315.50v2.00M292.50,382.43h2.00M543.50,382.43h-2.00M487.72,566.50v-3.60M487.72,315.50v3.60M292.50,371.28h3.60M543.50,371.28h-3.60M498.88,566.50v-2.00M498.88,315.50v2.00M292.50,360.12h2.00M543.50,360.12h-2.00M510.03,566.50v-2.00M510.03,315.50v2.00M292.50,348.97h2.00M543.50,348.97h-2.00M521.19,566.50v-2.00M521.19,315.50v2.00M292.50,337.81h2.00M543.50,337.81h-2.00M532.34,566.50v-2.00M532.34,315.50v2.00M292.50,326.66h2.00M543.50,326.66h-2.00M543.50,566.50v-3.60M543.50,315.50v3.60M292.50,315.50h3.60M543.50,315.50h-3.60" stroke="#a4a4a4" stroke-width="0.8" fill="none"/>
<rect x="292.50" y="315.50" width="251.00" height="251.00" fill="none" stroke="#c6c6c6" stroke-width="1.0"/>
<text x="320.39" y="577.10" class="tl" text-anchor="middle">0</text>
<text x="289.70" y="541.86" class="tl" text-anchor="end">0</text>
<text x="376.17" y="577.10" class="tl" text-anchor="middle">1</text>
<text x="289.70" y="486.08" class="tl" text-anchor="end">1</text>
<text x="431.94" y="577.10" class="tl" text-anchor="middle">2</text>
<text x="289.70" y="430.31" class="tl" text-anchor="end">2</text>
<text x="487.72" y="577.10" class="tl" text-anchor="middle">3</text>
<text x="289.70" y="374.53" class="tl" text-anchor="end">3</text>
<text x="543.50" y="577.10" class="tl" text-anchor="middle">4</text>
<text x="289.70" y="318.75" class="tl" text-anchor="end">4</text>
<g clip-path="url(#c3)" fill="none" stroke-width="1.9" stroke-linejoin="round">
<path d="M291.3,398.9 L291.7,405.9 L292.1,412.7 L292.5,419.1 L292.9,425.3 L293.3,431.2 L293.7,436.9 L294.1,442.3 L294.5,447.5 L294.9,452.4 L295.3,457.2 L295.8,461.7 L296.2,466.0 L296.6,470.1 L297.0,474.1 L297.4,477.8 L297.8,481.4 L298.2,484.8 L298.6,488.1 L299.0,491.2 L299.4,494.1 L299.8,496.9 L300.2,499.6 L300.6,502.1 L301.1,504.5 L301.5,506.8 L301.9,509.0 L302.3,511.1 L302.7,513.0 L303.1,514.9 L303.5,516.6 L303.9,518.3 L304.3,519.8 L304.7,521.3 L305.1,522.7 L305.5,524.0 L305.9,525.2 L306.3,526.4 L306.8,527.5 L307.2,528.5 L307.6,529.4 L308.0,530.3 L308.4,531.2 L308.8,531.9 L309.2,532.7 L309.6,533.3 L310.0,533.9 L310.4,534.5 L310.8,535.0 L311.2,535.5 L311.6,536.0 L312.1,536.4 L312.5,536.7 L312.9,537.1 L313.3,537.4 L313.7,537.6 L314.1,537.9 L314.5,538.1 L314.9,538.3 L315.3,538.4 L315.7,538.5 L316.1,538.6 L316.5,538.7 L316.9,538.8 L317.4,538.8 L317.8,538.9 L318.2,538.9 L318.6,538.8 L319.0,538.8 L319.4,538.8 L319.8,538.7 L320.2,538.6 L320.6,538.6 L321.0,538.5 L321.4,538.4 L321.8,538.3 L322.2,538.1 L322.6,538.0 L323.1,537.9 L323.5,537.7 L323.9,537.6 L324.3,537.4 L324.7,537.2 L325.1,537.1 L325.5,536.9 L325.9,536.7 L326.3,536.5 L326.7,536.3 L327.1,536.1 L327.5,535.9 L327.9,535.7 L328.4,535.5 L328.8,535.3 L329.2,535.1 L329.6,534.9 L330.0,534.7 L330.4,534.5 L330.8,534.3 L331.2,534.1 L331.6,533.9 L332.0,533.7 L332.4,533.5 L332.8,533.3 L333.2,533.1 L333.7,532.9 L334.1,532.7 L334.5,532.5 L334.9,532.3 L335.3,532.1 L335.7,531.9 L336.1,531.7 L336.5,531.5 L336.9,531.3 L337.3,531.1 L337.7,530.9 L338.1,530.7 L338.5,530.5 L338.9,530.3 L339.4,530.2 L339.8,530.0 L340.2,529.8 L340.6,529.6 L341.0,529.5 L341.4,529.3 L341.8,529.1 L342.2,529.0 L342.6,528.8 L343.0,528.6 L343.4,528.5 L343.8,528.3 L344.2,528.2 L344.7,528.0 L345.1,527.9 L345.5,527.7 L345.9,527.6 L346.3,527.5 L346.7,527.3 L347.1,527.2 L347.5,527.1 L347.9,526.9 L348.3,526.8 L348.7,526.7 L349.1,526.5 L349.5,526.4 L349.9,526.3 L350.4,526.2 L350.8,526.1 L351.2,526.0 L351.6,525.9 L352.0,525.7 L352.4,525.6 L352.8,525.5 L353.2,525.4 L353.6,525.3 L354.0,525.2 L354.4,525.1 L354.8,525.0 L355.2,525.0 L355.7,524.9 L356.1,524.8 L356.5,524.7 L356.9,524.6 L357.3,524.5 L357.7,524.4 L358.1,524.4 L358.5,524.3 L358.9,524.2 L359.3,524.1 L359.7,524.1 L360.1,524.0 L360.5,523.9 L361.0,523.8 L361.4,523.8 L361.8,523.7 L362.2,523.6 L362.6,523.6 L363.0,523.5 L363.4,523.4 L363.8,523.4 L364.2,523.3 L364.6,523.3 L365.0,523.2 L365.4,523.2 L365.8,523.1 L366.2,523.0 L366.7,523.0 L367.1,522.9 L367.5,522.9 L367.9,522.8 L368.3,522.8 L368.7,522.7 L369.1,522.7 L369.5,522.6 L369.9,522.6 L370.3,522.5 L370.7,522.5 L371.1,522.4 L371.5,522.4 L372.0,522.3 L372.4,522.3 L372.8,522.3 L373.2,522.2 L373.6,522.2 L374.0,522.1 L374.4,522.1 L374.8,522.0 L375.2,522.0 L375.6,522.0 L376.0,521.9 L376.4,521.9 L376.8,521.8 L377.3,521.8 L377.7,521.8 L378.1,521.7 L378.5,521.7 L378.9,521.6 L379.3,521.6 L379.7,521.6 L380.1,521.5 L380.5,521.5 L380.9,521.4 L381.3,521.4 L381.7,521.4 L382.1,521.3 L382.5,521.3 L383.0,521.2 L383.4,521.2 L383.8,521.2 L384.2,521.1 L384.6,521.1 L385.0,521.1 L385.4,521.0 L385.8,521.0 L386.2,520.9 L386.6,520.9 L387.0,520.9 L387.4,520.8 L387.8,520.8 L388.3,520.7 L388.7,520.7 L389.1,520.7 L389.5,520.6 L389.9,520.6 L390.3,520.6 L390.7,520.5 L391.1,520.5 L391.5,520.4 L391.9,520.4 L392.3,520.3 L392.7,520.3 L393.1,520.3 L393.5,520.2 L394.0,520.2 L394.4,520.1 L394.8,520.1 L395.2,520.1 L395.6,520.0 L396.0,520.0 L396.4,519.9 L396.8,519.9 L397.2,519.8 L397.6,519.8 L398.0,519.8 L398.4,519.7 L398.8,519.7 L399.3,519.6 L399.7,519.6 L400.1,519.5 L400.5,519.5 L400.9,519.5 L401.3,519.4 L401.7,519.4 L402.1,519.3 L402.5,519.3 L402.9,519.2 L403.3,519.2 L403.7,519.1 L404.1,519.1 L404.6,519.0 L405.0,519.0 L405.4,518.9 L405.8,518.9 L406.2,518.8 L406.6,518.8 L407.0,518.7 L407.4,518.7 L407.8,518.6 L408.2,518.6 L408.6,518.5 L409.0,518.5 L409.4,518.4 L409.8,518.4 L410.3,518.3 L410.7,518.3 L411.1,518.2 L411.5,518.2 L411.9,518.1 L412.3,518.1 L412.7,518.0 L413.1,518.0 L413.5,517.9 L413.9,517.9 L414.3,517.8 L414.7,517.7 L415.1,517.7 L415.6,517.6 L416.0,517.6 L416.4,517.5 L416.8,517.5 L417.2,517.4 L417.6,517.4 L418.0,517.3 L418.4,517.2 L418.8,517.2 L419.2,517.1 L419.6,517.1 L420.0,517.0 L420.4,516.9 L420.8,516.9 L421.3,516.8 L421.7,516.8 L422.1,516.7 L422.5,516.7 L422.9,516.6 L423.3,516.5 L423.7,516.5 L424.1,516.4 L424.5,516.3 L424.9,516.3 L425.3,516.2 L425.7,516.2 L426.1,516.1 L426.6,516.0 L427.0,516.0 L427.4,515.9 L427.8,515.9 L428.2,515.8 L428.6,515.7 L429.0,515.7 L429.4,515.6 L429.8,515.5 L430.2,515.5 L430.6,515.4 L431.0,515.3 L431.4,515.3 L431.9,515.2 L432.3,515.1 L432.7,515.1 L433.1,515.0 L433.5,514.9 L433.9,514.9 L434.3,514.8 L434.7,514.7 L435.1,514.7 L435.5,514.6 L435.9,514.5 L436.3,514.5 L436.7,514.4 L437.1,514.3 L437.6,514.3 L438.0,514.2 L438.4,514.1 L438.8,514.1 L439.2,514.0 L439.6,513.9 L440.0,513.9 L440.4,513.8 L440.8,513.7 L441.2,513.7 L441.6,513.6 L442.0,513.5 L442.4,513.4 L442.9,513.4 L443.3,513.3 L443.7,513.2 L444.1,513.2 L444.5,513.1 L444.9,513.0 L445.3,513.0 L445.7,512.9 L446.1,512.8 L446.5,512.7 L446.9,512.7 L447.3,512.6 L447.7,512.5 L448.2,512.5 L448.6,512.4 L449.0,512.3 L449.4,512.2 L449.8,512.2 L450.2,512.1 L450.6,512.0 L451.0,511.9 L451.4,511.9 L451.8,511.8 L452.2,511.7 L452.6,511.7 L453.0,511.6 L453.4,511.5 L453.9,511.4 L454.3,511.4 L454.7,511.3 L455.1,511.2 L455.5,511.1 L455.9,511.1 L456.3,511.0 L456.7,510.9 L457.1,510.8 L457.5,510.8 L457.9,510.7 L458.3,510.6 L458.7,510.5 L459.2,510.5 L459.6,510.4 L460.0,510.3 L460.4,510.2 L460.8,510.2 L461.2,510.1 L461.6,510.0 L462.0,509.9 L462.4,509.9 L462.8,509.8 L463.2,509.7 L463.6,509.6 L464.0,509.6 L464.4,509.5 L464.9,509.4 L465.3,509.3 L465.7,509.2 L466.1,509.2 L466.5,509.1 L466.9,509.0 L467.3,508.9 L467.7,508.9 L468.1,508.8 L468.5,508.7 L468.9,508.6 L469.3,508.6 L469.7,508.5 L470.2,508.4 L470.6,508.3 L471.0,508.2 L471.4,508.2 L471.8,508.1 L472.2,508.0 L472.6,507.9 L473.0,507.9 L473.4,507.8 L473.8,507.7 L474.2,507.6 L474.6,507.5 L475.0,507.5 L475.5,507.4 L475.9,507.3 L476.3,507.2 L476.7,507.2 L477.1,507.1 L477.5,507.0 L477.9,506.9 L478.3,506.8 L478.7,506.8 L479.1,506.7 L479.5,506.6 L479.9,506.5 L480.3,506.5 L480.7,506.4 L481.2,506.3 L481.6,506.2 L482.0,506.1 L482.4,506.1 L482.8,506.0 L483.2,505.9 L483.6,505.8 L484.0,505.7 L484.4,505.7 L484.8,505.6 L485.2,505.5 L485.6,505.4 L486.0,505.3 L486.5,505.3 L486.9,505.2 L487.3,505.1 L487.7,505.0 L488.1,505.0 L488.5,504.9 L488.9,504.8 L489.3,504.7 L489.7,504.6 L490.1,504.6 L490.5,504.5 L490.9,504.4 L491.3,504.3 L491.8,504.2 L492.2,504.2 L492.6,504.1 L493.0,504.0 L493.4,503.9 L493.8,503.8 L494.2,503.8 L494.6,503.7 L495.0,503.6 L495.4,503.5 L495.8,503.4 L496.2,503.4 L496.6,503.3 L497.0,503.2 L497.5,503.1 L497.9,503.0 L498.3,503.0 L498.7,502.9 L499.1,502.8 L499.5,502.7 L499.9,502.6 L500.3,502.6 L500.7,502.5 L501.1,502.4 L501.5,502.3 L501.9,502.2 L502.3,502.2 L502.8,502.1 L503.2,502.0 L503.6,501.9 L504.0,501.8 L504.4,501.8 L504.8,501.7 L505.2,501.6 L505.6,501.5 L506.0,501.4 L506.4,501.3 L506.8,501.3 L507.2,501.2 L507.6,501.1 L508.0,501.0 L508.5,500.9 L508.9,500.9 L509.3,500.8 L509.7,500.7 L510.1,500.6 L510.5,500.5 L510.9,500.5 L511.3,500.4 L511.7,500.3 L512.1,500.2 L512.5,500.1 L512.9,500.1 L513.3,500.0 L513.8,499.9 L514.2,499.8 L514.6,499.7 L515.0,499.7 L515.4,499.6 L515.8,499.5 L516.2,499.4 L516.6,499.3 L517.0,499.3 L517.4,499.2 L517.8,499.1 L518.2,499.0 L518.6,498.9 L519.1,498.8 L519.5,498.8 L519.9,498.7 L520.3,498.6 L520.7,498.5 L521.1,498.4 L521.5,498.4 L521.9,498.3 L522.3,498.2 L522.7,498.1 L523.1,498.0 L523.5,498.0 L523.9,497.9 L524.3,497.8 L524.8,497.7 L525.2,497.6 L525.6,497.6 L526.0,497.5 L526.4,497.4 L526.8,497.3 L527.2,497.2 L527.6,497.1 L528.0,497.1 L528.4,497.0 L528.8,496.9 L529.2,496.8 L529.6,496.7 L530.1,496.7 L530.5,496.6 L530.9,496.5 L531.3,496.4 L531.7,496.3 L532.1,496.3 L532.5,496.2 L532.9,496.1 L533.3,496.0 L533.7,495.9 L534.1,495.8 L534.5,495.8 L534.9,495.7 L535.4,495.6 L535.8,495.5 L536.2,495.4 L536.6,495.4 L537.0,495.3 L537.4,495.2 L537.8,495.1 L538.2,495.0 L538.6,495.0 L539.0,494.9 L539.4,494.8 L539.8,494.7 L540.2,494.6 L540.6,494.5 L541.1,494.5 L541.5,494.4 L541.9,494.3 L542.3,494.2 L542.7,494.1 L543.1,494.1 L543.5,494.0" stroke="#ff0000"/>
<path d="M291.3,298.8 L291.7,298.8 L292.1,298.8 L292.5,298.8 L292.9,298.8 L293.3,298.8 L293.7,298.8 L294.1,298.8 L294.5,298.8 L294.9,298.8 L295.3,298.8 L295.8,298.8 L296.2,298.8 L296.6,304.5 L297.0,317.5 L297.4,329.9 L297.8,341.8 L298.2,353.1 L298.6,363.9 L299.0,374.2 L299.4,384.0 L299.8,393.3 L300.2,402.2 L300.6,410.7 L301.1,418.7 L301.5,426.4 L301.9,433.7 L302.3,440.6 L302.7,447.1 L303.1,453.3 L303.5,459.2 L303.9,464.8 L304.3,470.1 L304.7,475.0 L305.1,479.8 L305.5,484.2 L305.9,488.4 L306.3,492.4 L306.8,496.1 L307.2,499.6 L307.6,502.9 L308.0,506.0 L308.4,508.9 L308.8,511.6 L309.2,514.1 L309.6,516.5 L310.0,518.7 L310.4,520.8 L310.8,522.7 L311.2,524.4 L311.6,526.1 L312.1,527.6 L312.5,528.9 L312.9,530.2 L313.3,531.4 L313.7,532.4 L314.1,533.4 L314.5,534.2 L314.9,535.0 L315.3,535.7 L315.7,536.3 L316.1,536.8 L316.5,537.2 L316.9,537.6 L317.4,537.9 L317.8,538.2 L318.2,538.4 L318.6,538.5 L319.0,538.6 L319.4,538.7 L319.8,538.7 L320.2,538.6 L320.6,538.6 L321.0,538.4 L321.4,538.3 L321.8,538.1 L322.2,537.9 L322.6,537.6 L323.1,537.4 L323.5,537.1 L323.9,536.7 L324.3,536.4 L324.7,536.0 L325.1,535.7 L325.5,535.3 L325.9,534.9 L326.3,534.4 L326.7,534.0 L327.1,533.6 L327.5,533.1 L327.9,532.7 L328.4,532.2 L328.8,531.7 L329.2,531.2 L329.6,530.8 L330.0,530.3 L330.4,529.8 L330.8,529.3 L331.2,528.8 L331.6,528.3 L332.0,527.8 L332.4,527.3 L332.8,526.8 L333.2,526.4 L333.7,525.9 L334.1,525.4 L334.5,524.9 L334.9,524.5 L335.3,524.0 L335.7,523.5 L336.1,523.1 L336.5,522.6 L336.9,522.2 L337.3,521.7 L337.7,521.3 L338.1,520.9 L338.5,520.5 L338.9,520.1 L339.4,519.6 L339.8,519.3 L340.2,518.9 L340.6,518.5 L341.0,518.1 L341.4,517.7 L341.8,517.4 L342.2,517.0 L342.6,516.7 L343.0,516.3 L343.4,516.0 L343.8,515.7 L344.2,515.4 L344.7,515.1 L345.1,514.8 L345.5,514.5 L345.9,514.2 L346.3,514.0 L346.7,513.7 L347.1,513.4 L347.5,513.2 L347.9,512.9 L348.3,512.7 L348.7,512.5 L349.1,512.3 L349.5,512.1 L349.9,511.9 L350.4,511.7 L350.8,511.5 L351.2,511.3 L351.6,511.1 L352.0,510.9 L352.4,510.8 L352.8,510.6 L353.2,510.5 L353.6,510.3 L354.0,510.2 L354.4,510.1 L354.8,510.0 L355.2,509.8 L355.7,509.7 L356.1,509.6 L356.5,509.5 L356.9,509.4 L357.3,509.3 L357.7,509.3 L358.1,509.2 L358.5,509.1 L358.9,509.0 L359.3,509.0 L359.7,508.9 L360.1,508.9 L360.5,508.8 L361.0,508.8 L361.4,508.7 L361.8,508.7 L362.2,508.7 L362.6,508.6 L363.0,508.6 L363.4,508.6 L363.8,508.6 L364.2,508.6 L364.6,508.6 L365.0,508.6 L365.4,508.6 L365.8,508.6 L366.2,508.6 L366.7,508.6 L367.1,508.6 L367.5,508.6 L367.9,508.6 L368.3,508.6 L368.7,508.6 L369.1,508.7 L369.5,508.7 L369.9,508.7 L370.3,508.7 L370.7,508.8 L371.1,508.8 L371.5,508.8 L372.0,508.9 L372.4,508.9 L372.8,509.0 L373.2,509.0 L373.6,509.0 L374.0,509.1 L374.4,509.1 L374.8,509.2 L375.2,509.2 L375.6,509.3 L376.0,509.3 L376.4,509.4 L376.8,509.4 L377.3,509.5 L377.7,509.5 L378.1,509.6 L378.5,509.6 L378.9,509.7 L379.3,509.8 L379.7,509.8 L380.1,509.9 L380.5,509.9 L380.9,510.0 L381.3,510.0 L381.7,510.1 L382.1,510.2 L382.5,510.2 L383.0,510.3 L383.4,510.3 L383.8,510.4 L384.2,510.5 L384.6,510.5 L385.0,510.6 L385.4,510.6 L385.8,510.7 L386.2,510.7 L386.6,510.8 L387.0,510.9 L387.4,510.9 L387.8,511.0 L388.3,511.0 L388.7,511.1 L389.1,511.2 L389.5,511.2 L389.9,511.3 L390.3,511.3 L390.7,511.4 L391.1,511.4 L391.5,511.5 L391.9,511.5 L392.3,511.6 L392.7,511.6 L393.1,511.7 L393.5,511.7 L394.0,511.8 L394.4,511.8 L394.8,511.9 L395.2,511.9 L395.6,512.0 L396.0,512.0 L396.4,512.1 L396.8,512.1 L397.2,512.2 L397.6,512.2 L398.0,512.3 L398.4,512.3 L398.8,512.3 L399.3,512.4 L399.7,512.4 L400.1,512.5 L400.5,512.5 L400.9,512.5 L401.3,512.6 L401.7,512.6 L402.1,512.6 L402.5,512.7 L402.9,512.7 L403.3,512.7 L403.7,512.8 L404.1,512.8 L404.6,512.8 L405.0,512.8 L405.4,512.9 L405.8,512.9 L406.2,512.9 L406.6,512.9 L407.0,513.0 L407.4,513.0 L407.8,513.0 L408.2,513.0 L408.6,513.1 L409.0,513.1 L409.4,513.1 L409.8,513.1 L410.3,513.1 L410.7,513.1 L411.1,513.1 L411.5,513.2 L411.9,513.2 L412.3,513.2 L412.7,513.2 L413.1,513.2 L413.5,513.2 L413.9,513.2 L414.3,513.2 L414.7,513.2 L415.1,513.2 L415.6,513.2 L416.0,513.2 L416.4,513.2 L416.8,513.2 L417.2,513.2 L417.6,513.2 L418.0,513.2 L418.4,513.2 L418.8,513.2 L419.2,513.2 L419.6,513.2 L420.0,513.2 L420.4,513.2 L420.8,513.2 L421.3,513.2 L421.7,513.2 L422.1,513.2 L422.5,513.2 L422.9,513.2 L423.3,513.1 L423.7,513.1 L424.1,513.1 L424.5,513.1 L424.9,513.1 L425.3,513.1 L425.7,513.0 L426.1,513.0 L426.6,513.0 L427.0,513.0 L427.4,513.0 L427.8,513.0 L428.2,512.9 L428.6,512.9 L429.0,512.9 L429.4,512.9 L429.8,512.8 L430.2,512.8 L430.6,512.8 L431.0,512.8 L431.4,512.7 L431.9,512.7 L432.3,512.7 L432.7,512.6 L433.1,512.6 L433.5,512.6 L433.9,512.5 L434.3,512.5 L434.7,512.5 L435.1,512.4 L435.5,512.4 L435.9,512.4 L436.3,512.3 L436.7,512.3 L437.1,512.3 L437.6,512.2 L438.0,512.2 L438.4,512.2 L438.8,512.1 L439.2,512.1 L439.6,512.0 L440.0,512.0 L440.4,512.0 L440.8,511.9 L441.2,511.9 L441.6,511.8 L442.0,511.8 L442.4,511.7 L442.9,511.7 L443.3,511.7 L443.7,511.6 L444.1,511.6 L444.5,511.5 L444.9,511.5 L445.3,511.4 L445.7,511.4 L446.1,511.3 L446.5,511.3 L446.9,511.2 L447.3,511.2 L447.7,511.1 L448.2,511.1 L448.6,511.0 L449.0,511.0 L449.4,510.9 L449.8,510.9 L450.2,510.8 L450.6,510.8 L451.0,510.7 L451.4,510.7 L451.8,510.6 L452.2,510.6 L452.6,510.5 L453.0,510.4 L453.4,510.4 L453.9,510.3 L454.3,510.3 L454.7,510.2 L455.1,510.2 L455.5,510.1 L455.9,510.0 L456.3,510.0 L456.7,509.9 L457.1,509.9 L457.5,509.8 L457.9,509.7 L458.3,509.7 L458.7,509.6 L459.2,509.6 L459.6,509.5 L460.0,509.4 L460.4,509.4 L460.8,509.3 L461.2,509.3 L461.6,509.2 L462.0,509.1 L462.4,509.1 L462.8,509.0 L463.2,508.9 L463.6,508.9 L464.0,508.8 L464.4,508.8 L464.9,508.7 L465.3,508.6 L465.7,508.6 L466.1,508.5 L466.5,508.4 L466.9,508.4 L467.3,508.3 L467.7,508.2 L468.1,508.2 L468.5,508.1 L468.9,508.0 L469.3,508.0 L469.7,507.9 L470.2,507.8 L470.6,507.8 L471.0,507.7 L471.4,507.6 L471.8,507.6 L472.2,507.5 L472.6,507.4 L473.0,507.3 L473.4,507.3 L473.8,507.2 L474.2,507.1 L474.6,507.1 L475.0,507.0 L475.5,506.9 L475.9,506.9 L476.3,506.8 L476.7,506.7 L477.1,506.6 L477.5,506.6 L477.9,506.5 L478.3,506.4 L478.7,506.4 L479.1,506.3 L479.5,506.2 L479.9,506.1 L480.3,506.1 L480.7,506.0 L481.2,505.9 L481.6,505.9 L482.0,505.8 L482.4,505.7 L482.8,505.6 L483.2,505.6 L483.6,505.5 L484.0,505.4 L484.4,505.3 L484.8,505.3 L485.2,505.2 L485.6,505.1 L486.0,505.0 L486.5,505.0 L486.9,504.9 L487.3,504.8 L487.7,504.7 L488.1,504.7 L488.5,504.6 L488.9,504.5 L489.3,504.4 L489.7,504.4 L490.1,504.3 L490.5,504.2 L490.9,504.1 L491.3,504.1 L491.8,504.0 L492.2,503.9 L492.6,503.8 L493.0,503.8 L493.4,503.7 L493.8,503.6 L494.2,503.5 L494.6,503.5 L495.0,503.4 L495.4,503.3 L495.8,503.2 L496.2,503.2 L496.6,503.1 L497.0,503.0 L497.5,502.9 L497.9,502.9 L498.3,502.8 L498.7,502.7 L499.1,502.6 L499.5,502.5 L499.9,502.5 L500.3,502.4 L500.7,502.3 L501.1,502.2 L501.5,502.2 L501.9,502.1 L502.3,502.0 L502.8,501.9 L503.2,501.8 L503.6,501.8 L504.0,501.7 L504.4,501.6 L504.8,501.5 L505.2,501.5 L505.6,501.4 L506.0,501.3 L506.4,501.2 L506.8,501.1 L507.2,501.1 L507.6,501.0 L508.0,500.9 L508.5,500.8 L508.9,500.8 L509.3,500.7 L509.7,500.6 L510.1,500.5 L510.5,500.4 L510.9,500.4 L511.3,500.3 L511.7,500.2 L512.1,500.1 L512.5,500.0 L512.9,500.0 L513.3,499.9 L513.8,499.8 L514.2,499.7 L514.6,499.6 L515.0,499.6 L515.4,499.5 L515.8,499.4 L516.2,499.3 L516.6,499.3 L517.0,499.2 L517.4,499.1 L517.8,499.0 L518.2,498.9 L518.6,498.9 L519.1,498.8 L519.5,498.7 L519.9,498.6 L520.3,498.5 L520.7,498.5 L521.1,498.4 L521.5,498.3 L521.9,498.2 L522.3,498.1 L522.7,498.1 L523.1,498.0 L523.5,497.9 L523.9,497.8 L524.3,497.7 L524.8,497.7 L525.2,497.6 L525.6,497.5 L526.0,497.4 L526.4,497.3 L526.8,497.3 L527.2,497.2 L527.6,497.1 L528.0,497.0 L528.4,496.9 L528.8,496.9 L529.2,496.8 L529.6,496.7 L530.1,496.6 L530.5,496.5 L530.9,496.5 L531.3,496.4 L531.7,496.3 L532.1,496.2 L532.5,496.1 L532.9,496.1 L533.3,496.0 L533.7,495.9 L534.1,495.8 L534.5,495.7 L534.9,495.6 L535.4,495.6 L535.8,495.5 L536.2,495.4 L536.6,495.3 L537.0,495.2 L537.4,495.2 L537.8,495.1 L538.2,495.0 L538.6,494.9 L539.0,494.8 L539.4,494.8 L539.8,494.7 L540.2,494.6 L540.6,494.5 L541.1,494.4 L541.5,494.4 L541.9,494.3 L542.3,494.2 L542.7,494.1 L543.1,494.0 L543.5,494.0" stroke="#ff8000"/>
<path d="M291.3,298.8 L291.7,298.8 L292.1,298.8 L292.5,298.8 L292.9,298.8 L293.3,298.8 L293.7,298.8 L294.1,298.8 L294.5,298.8 L294.9,298.8 L295.3,298.8 L295.8,298.8 L296.2,298.8 L296.6,298.8 L297.0,298.8 L297.4,298.8 L297.8,298.8 L298.2,298.8 L298.6,298.8 L299.0,298.8 L299.4,298.8 L299.8,298.8 L300.2,298.8 L300.6,300.0 L301.1,314.9 L301.5,329.0 L301.9,342.5 L302.3,355.2 L302.7,367.3 L303.1,378.8 L303.5,389.7 L303.9,400.0 L304.3,409.8 L304.7,419.0 L305.1,427.8 L305.5,436.0 L305.9,443.8 L306.3,451.2 L306.8,458.1 L307.2,464.6 L307.6,470.8 L308.0,476.5 L308.4,481.9 L308.8,487.0 L309.2,491.7 L309.6,496.1 L310.0,500.3 L310.4,504.1 L310.8,507.7 L311.2,511.0 L311.6,514.0 L312.1,516.9 L312.5,519.5 L312.9,521.9 L313.3,524.1 L313.7,526.1 L314.1,527.9 L314.5,529.5 L314.9,531.0 L315.3,532.3 L315.7,533.5 L316.1,534.6 L316.5,535.5 L316.9,536.2 L317.4,536.9 L317.8,537.4 L318.2,537.9 L318.6,538.2 L319.0,538.4 L319.4,538.6 L319.8,538.7 L320.2,538.6 L320.6,538.6 L321.0,538.4 L321.4,538.2 L321.8,537.9 L322.2,537.6 L322.6,537.2 L323.1,536.8 L323.5,536.3 L323.9,535.8 L324.3,535.2 L324.7,534.6 L325.1,534.0 L325.5,533.3 L325.9,532.6 L326.3,531.9 L326.7,531.2 L327.1,530.5 L327.5,529.7 L327.9,528.9 L328.4,528.1 L328.8,527.3 L329.2,526.5 L329.6,525.7 L330.0,524.9 L330.4,524.0 L330.8,523.2 L331.2,522.4 L331.6,521.5 L332.0,520.7 L332.4,519.9 L332.8,519.1 L333.2,518.2 L333.7,517.4 L334.1,516.6 L334.5,515.8 L334.9,515.0 L335.3,514.2 L335.7,513.4 L336.1,512.7 L336.5,511.9 L336.9,511.2 L337.3,510.4 L337.7,509.7 L338.1,509.0 L338.5,508.3 L338.9,507.6 L339.4,506.9 L339.8,506.3 L340.2,505.6 L340.6,505.0 L341.0,504.3 L341.4,503.7 L341.8,503.1 L342.2,502.6 L342.6,502.0 L343.0,501.5 L343.4,500.9 L343.8,500.4 L344.2,499.9 L344.7,499.4 L345.1,498.9 L345.5,498.5 L345.9,498.0 L346.3,497.6 L346.7,497.2 L347.1,496.8 L347.5,496.4 L347.9,496.0 L348.3,495.7 L348.7,495.3 L349.1,495.0 L349.5,494.7 L349.9,494.4 L350.4,494.1 L350.8,493.8 L351.2,493.5 L351.6,493.3 L352.0,493.0 L352.4,492.8 L352.8,492.6 L353.2,492.4 L353.6,492.2 L354.0,492.0 L354.4,491.8 L354.8,491.7 L355.2,491.5 L355.7,491.4 L356.1,491.3 L356.5,491.2 L356.9,491.1 L357.3,491.0 L357.7,490.9 L358.1,490.8 L358.5,490.8 L358.9,490.7 L359.3,490.7 L359.7,490.6 L360.1,490.6 L360.5,490.6 L361.0,490.6 L361.4,490.5 L361.8,490.5 L362.2,490.6 L362.6,490.6 L363.0,490.6 L363.4,490.6 L363.8,490.7 L364.2,490.7 L364.6,490.8 L365.0,490.8 L365.4,490.9 L365.8,491.0 L366.2,491.0 L366.7,491.1 L367.1,491.2 L367.5,491.3 L367.9,491.4 L368.3,491.5 L368.7,491.6 L369.1,491.7 L369.5,491.8 L369.9,491.9 L370.3,492.1 L370.7,492.2 L371.1,492.3 L371.5,492.4 L372.0,492.6 L372.4,492.7 L372.8,492.9 L373.2,493.0 L373.6,493.1 L374.0,493.3 L374.4,493.4 L374.8,493.6 L375.2,493.8 L375.6,493.9 L376.0,494.1 L376.4,494.2 L376.8,494.4 L377.3,494.6 L377.7,494.7 L378.1,494.9 L378.5,495.1 L378.9,495.2 L379.3,495.4 L379.7,495.6 L380.1,495.8 L380.5,495.9 L380.9,496.1 L381.3,496.3 L381.7,496.5 L382.1,496.6 L382.5,496.8 L383.0,497.0 L383.4,497.2 L383.8,497.3 L384.2,497.5 L384.6,497.7 L385.0,497.9 L385.4,498.1 L385.8,498.2 L386.2,498.4 L386.6,498.6 L387.0,498.8 L387.4,498.9 L387.8,499.1 L388.3,499.3 L388.7,499.5 L389.1,499.6 L389.5,499.8 L389.9,500.0 L390.3,500.1 L390.7,500.3 L391.1,500.5 L391.5,500.7 L391.9,500.8 L392.3,501.0 L392.7,501.1 L393.1,501.3 L393.5,501.5 L394.0,501.6 L394.4,501.8 L394.8,501.9 L395.2,502.1 L395.6,502.3 L396.0,502.4 L396.4,502.6 L396.8,502.7 L397.2,502.9 L397.6,503.0 L398.0,503.2 L398.4,503.3 L398.8,503.5 L399.3,503.6 L399.7,503.7 L400.1,503.9 L400.5,504.0 L400.9,504.1 L401.3,504.3 L401.7,504.4 L402.1,504.5 L402.5,504.7 L402.9,504.8 L403.3,504.9 L403.7,505.1 L404.1,505.2 L404.6,505.3 L405.0,505.4 L405.4,505.5 L405.8,505.6 L406.2,505.8 L406.6,505.9 L407.0,506.0 L407.4,506.1 L407.8,506.2 L408.2,506.3 L408.6,506.4 L409.0,506.5 L409.4,506.6 L409.8,506.7 L410.3,506.8 L410.7,506.9 L411.1,507.0 L411.5,507.1 L411.9,507.2 L412.3,507.3 L412.7,507.4 L413.1,507.4 L413.5,507.5 L413.9,507.6 L414.3,507.7 L414.7,507.8 L415.1,507.8 L415.6,507.9 L416.0,508.0 L416.4,508.1 L416.8,508.1 L417.2,508.2 L417.6,508.3 L418.0,508.3 L418.4,508.4 L418.8,508.5 L419.2,508.5 L419.6,508.6 L420.0,508.6 L420.4,508.7 L420.8,508.7 L421.3,508.8 L421.7,508.8 L422.1,508.9 L422.5,508.9 L422.9,509.0 L423.3,509.0 L423.7,509.1 L424.1,509.1 L424.5,509.2 L424.9,509.2 L425.3,509.2 L425.7,509.3 L426.1,509.3 L426.6,509.3 L427.0,509.4 L427.4,509.4 L427.8,509.4 L428.2,509.5 L428.6,509.5 L429.0,509.5 L429.4,509.5 L429.8,509.6 L430.2,509.6 L430.6,509.6 L431.0,509.6 L431.4,509.6 L431.9,509.7 L432.3,509.7 L432.7,509.7 L433.1,509.7 L433.5,509.7 L433.9,509.7 L434.3,509.7 L434.7,509.7 L435.1,509.7 L435.5,509.8 L435.9,509.8 L436.3,509.8 L436.7,509.8 L437.1,509.8 L437.6,509.8 L438.0,509.8 L438.4,509.8 L438.8,509.8 L439.2,509.8 L439.6,509.7 L440.0,509.7 L440.4,509.7 L440.8,509.7 L441.2,509.7 L441.6,509.7 L442.0,509.7 L442.4,509.7 L442.9,509.7 L443.3,509.7 L443.7,509.6 L444.1,509.6 L444.5,509.6 L444.9,509.6 L445.3,509.6 L445.7,509.6 L446.1,509.5 L446.5,509.5 L446.9,509.5 L447.3,509.5 L447.7,509.4 L448.2,509.4 L448.6,509.4 L449.0,509.4 L449.4,509.3 L449.8,509.3 L450.2,509.3 L450.6,509.3 L451.0,509.2 L451.4,509.2 L451.8,509.2 L452.2,509.1 L452.6,509.1 L453.0,509.1 L453.4,509.0 L453.9,509.0 L454.3,509.0 L454.7,508.9 L455.1,508.9 L455.5,508.8 L455.9,508.8 L456.3,508.8 L456.7,508.7 L457.1,508.7 L457.5,508.7 L457.9,508.6 L458.3,508.6 L458.7,508.5 L459.2,508.5 L459.6,508.4 L460.0,508.4 L460.4,508.3 L460.8,508.3 L461.2,508.3 L461.6,508.2 L462.0,508.2 L462.4,508.1 L462.8,508.1 L463.2,508.0 L463.6,508.0 L464.0,507.9 L464.4,507.9 L464.9,507.8 L465.3,507.8 L465.7,507.7 L466.1,507.7 L466.5,507.6 L466.9,507.6 L467.3,507.5 L467.7,507.5 L468.1,507.4 L468.5,507.3 L468.9,507.3 L469.3,507.2 L469.7,507.2 L470.2,507.1 L470.6,507.1 L471.0,507.0 L471.4,507.0 L471.8,506.9 L472.2,506.8 L472.6,506.8 L473.0,506.7 L473.4,506.7 L473.8,506.6 L474.2,506.5 L474.6,506.5 L475.0,506.4 L475.5,506.4 L475.9,506.3 L476.3,506.2 L476.7,506.2 L477.1,506.1 L477.5,506.1 L477.9,506.0 L478.3,505.9 L478.7,505.9 L479.1,505.8 L479.5,505.7 L479.9,505.7 L480.3,505.6 L480.7,505.5 L481.2,505.5 L481.6,505.4 L482.0,505.4 L482.4,505.3 L482.8,505.2 L483.2,505.2 L483.6,505.1 L484.0,505.0 L484.4,505.0 L484.8,504.9 L485.2,504.8 L485.6,504.8 L486.0,504.7 L486.5,504.6 L486.9,504.5 L487.3,504.5 L487.7,504.4 L488.1,504.3 L488.5,504.3 L488.9,504.2 L489.3,504.1 L489.7,504.1 L490.1,504.0 L490.5,503.9 L490.9,503.9 L491.3,503.8 L491.8,503.7 L492.2,503.6 L492.6,503.6 L493.0,503.5 L493.4,503.4 L493.8,503.4 L494.2,503.3 L494.6,503.2 L495.0,503.1 L495.4,503.1 L495.8,503.0 L496.2,502.9 L496.6,502.9 L497.0,502.8 L497.5,502.7 L497.9,502.6 L498.3,502.6 L498.7,502.5 L499.1,502.4 L499.5,502.3 L499.9,502.3 L500.3,502.2 L500.7,502.1 L501.1,502.0 L501.5,502.0 L501.9,501.9 L502.3,501.8 L502.8,501.7 L503.2,501.7 L503.6,501.6 L504.0,501.5 L504.4,501.4 L504.8,501.4 L505.2,501.3 L505.6,501.2 L506.0,501.1 L506.4,501.1 L506.8,501.0 L507.2,500.9 L507.6,500.8 L508.0,500.8 L508.5,500.7 L508.9,500.6 L509.3,500.5 L509.7,500.5 L510.1,500.4 L510.5,500.3 L510.9,500.2 L511.3,500.2 L511.7,500.1 L512.1,500.0 L512.5,499.9 L512.9,499.8 L513.3,499.8 L513.8,499.7 L514.2,499.6 L514.6,499.5 L515.0,499.5 L515.4,499.4 L515.8,499.3 L516.2,499.2 L516.6,499.2 L517.0,499.1 L517.4,499.0 L517.8,498.9 L518.2,498.8 L518.6,498.8 L519.1,498.7 L519.5,498.6 L519.9,498.5 L520.3,498.4 L520.7,498.4 L521.1,498.3 L521.5,498.2 L521.9,498.1 L522.3,498.1 L522.7,498.0 L523.1,497.9 L523.5,497.8 L523.9,497.7 L524.3,497.7 L524.8,497.6 L525.2,497.5 L525.6,497.4 L526.0,497.3 L526.4,497.3 L526.8,497.2 L527.2,497.1 L527.6,497.0 L528.0,497.0 L528.4,496.9 L528.8,496.8 L529.2,496.7 L529.6,496.6 L530.1,496.6 L530.5,496.5 L530.9,496.4 L531.3,496.3 L531.7,496.2 L532.1,496.2 L532.5,496.1 L532.9,496.0 L533.3,495.9 L533.7,495.8 L534.1,495.8 L534.5,495.7 L534.9,495.6 L535.4,495.5 L535.8,495.4 L536.2,495.4 L536.6,495.3 L537.0,495.2 L537.4,495.1 L537.8,495.0 L538.2,495.0 L538.6,494.9 L539.0,494.8 L539.4,494.7 L539.8,494.6 L540.2,494.6 L540.6,494.5 L541.1,494.4 L541.5,494.3 L541.9,494.2 L542.3,494.2 L542.7,494.1 L543.1,494.0 L543.5,493.9" stroke="#0000ff"/>
<path d="M291.3,298.8 L291.7,298.8 L292.1,298.8 L292.5,298.8 L292.9,298.8 L293.3,298.8 L293.7,298.8 L294.1,298.8 L294.5,298.8 L294.9,298.8 L295.3,298.8 L295.8,298.8 L296.2,298.8 L296.6,298.8 L297.0,298.8 L297.4,298.8 L297.8,298.8 L298.2,298.8 L298.6,298.8 L299.0,298.8 L299.4,298.8 L299.8,298.8 L300.2,298.8 L300.6,298.8 L301.1,298.8 L301.5,298.8 L301.9,298.8 L302.3,298.8 L302.7,298.8 L303.1,298.8 L303.5,298.8 L303.9,298.8 L304.3,298.8 L304.7,298.8 L305.1,304.4 L305.5,321.7 L305.9,338.0 L306.3,353.4 L306.8,368.0 L307.2,381.6 L307.6,394.5 L308.0,406.6 L308.4,417.9 L308.8,428.5 L309.2,438.5 L309.6,447.8 L310.0,456.5 L310.4,464.5 L310.8,472.1 L311.2,479.1 L311.6,485.5 L312.1,491.5 L312.5,497.1 L312.9,502.1 L313.3,506.8 L313.7,511.1 L314.1,514.9 L314.5,518.4 L314.9,521.6 L315.3,524.5 L315.7,527.0 L316.1,529.2 L316.5,531.2 L316.9,532.9 L317.4,534.3 L317.8,535.6 L318.2,536.6 L318.6,537.3 L319.0,537.9 L319.4,538.3 L319.8,538.6 L320.2,538.6 L320.6,538.5 L321.0,538.3 L321.4,537.9 L321.8,537.5 L322.2,536.8 L322.6,536.1 L323.1,535.3 L323.5,534.4 L323.9,533.4 L324.3,532.3 L324.7,531.2 L325.1,530.0 L325.5,528.7 L325.9,527.4 L326.3,526.0 L326.7,524.6 L327.1,523.1 L327.5,521.6 L327.9,520.1 L328.4,518.5 L328.8,516.9 L329.2,515.3 L329.6,513.7 L330.0,512.1 L330.4,510.4 L330.8,508.8 L331.2,507.1 L331.6,505.5 L332.0,503.8 L332.4,502.2 L332.8,500.6 L333.2,498.9 L333.7,497.3 L334.1,495.7 L334.5,494.1 L334.9,492.6 L335.3,491.0 L335.7,489.5 L336.1,488.0 L336.5,486.5 L336.9,485.0 L337.3,483.5 L337.7,482.1 L338.1,480.7 L338.5,479.4 L338.9,478.0 L339.4,476.7 L339.8,475.4 L340.2,474.1 L340.6,472.9 L341.0,471.7 L341.4,470.5 L341.8,469.4 L342.2,468.3 L342.6,467.2 L343.0,466.1 L343.4,465.1 L343.8,464.1 L344.2,463.1 L344.7,462.2 L345.1,461.3 L345.5,460.4 L345.9,459.6 L346.3,458.8 L346.7,458.0 L347.1,457.3 L347.5,456.5 L347.9,455.8 L348.3,455.2 L348.7,454.5 L349.1,453.9 L349.5,453.4 L349.9,452.8 L350.4,452.3 L350.8,451.8 L351.2,451.3 L351.6,450.9 L352.0,450.5 L352.4,450.1 L352.8,449.8 L353.2,449.4 L353.6,449.1 L354.0,448.8 L354.4,448.6 L354.8,448.3 L355.2,448.1 L355.7,447.9 L356.1,447.7 L356.5,447.6 L356.9,447.5 L357.3,447.4 L357.7,447.3 L358.1,447.2 L358.5,447.2 L358.9,447.1 L359.3,447.1 L359.7,447.1 L360.1,447.2 L360.5,447.2 L361.0,447.3 L361.4,447.4 L361.8,447.4 L362.2,447.6 L362.6,447.7 L363.0,447.8 L363.4,448.0 L363.8,448.1 L364.2,448.3 L364.6,448.5 L365.0,448.7 L365.4,449.0 L365.8,449.2 L366.2,449.4 L366.7,449.7 L367.1,450.0 L367.5,450.2 L367.9,450.5 L368.3,450.8 L368.7,451.1 L369.1,451.4 L369.5,451.8 L369.9,452.1 L370.3,452.4 L370.7,452.8 L371.1,453.1 L371.5,453.5 L372.0,453.9 L372.4,454.3 L372.8,454.6 L373.2,455.0 L373.6,455.4 L374.0,455.8 L374.4,456.2 L374.8,456.6 L375.2,457.0 L375.6,457.5 L376.0,457.9 L376.4,458.3 L376.8,458.7 L377.3,459.2 L377.7,459.6 L378.1,460.0 L378.5,460.5 L378.9,460.9 L379.3,461.4 L379.7,461.8 L380.1,462.3 L380.5,462.7 L380.9,463.2 L381.3,463.6 L381.7,464.1 L382.1,464.6 L382.5,465.0 L383.0,465.5 L383.4,465.9 L383.8,466.4 L384.2,466.8 L384.6,467.3 L385.0,467.8 L385.4,468.2 L385.8,468.7 L386.2,469.1 L386.6,469.6 L387.0,470.0 L387.4,470.5 L387.8,470.9 L388.3,471.4 L388.7,471.8 L389.1,472.3 L389.5,472.7 L389.9,473.2 L390.3,473.6 L390.7,474.1 L391.1,474.5 L391.5,474.9 L391.9,475.4 L392.3,475.8 L392.7,476.2 L393.1,476.7 L393.5,477.1 L394.0,477.5 L394.4,477.9 L394.8,478.3 L395.2,478.8 L395.6,479.2 L396.0,479.6 L396.4,480.0 L396.8,480.4 L397.2,480.8 L397.6,481.2 L398.0,481.6 L398.4,482.0 L398.8,482.4 L399.3,482.7 L399.7,483.1 L400.1,483.5 L400.5,483.9 L400.9,484.2 L401.3,484.6 L401.7,485.0 L402.1,485.3 L402.5,485.7 L402.9,486.1 L403.3,486.4 L403.7,486.8 L404.1,487.1 L404.6,487.4 L405.0,487.8 L405.4,488.1 L405.8,488.4 L406.2,488.8 L406.6,489.1 L407.0,489.4 L407.4,489.7 L407.8,490.0 L408.2,490.3 L408.6,490.6 L409.0,490.9 L409.4,491.2 L409.8,491.5 L410.3,491.8 L410.7,492.1 L411.1,492.4 L411.5,492.7 L411.9,493.0 L412.3,493.2 L412.7,493.5 L413.1,493.8 L413.5,494.0 L413.9,494.3 L414.3,494.5 L414.7,494.8 L415.1,495.0 L415.6,495.3 L416.0,495.5 L416.4,495.8 L416.8,496.0 L417.2,496.2 L417.6,496.5 L418.0,496.7 L418.4,496.9 L418.8,497.1 L419.2,497.3 L419.6,497.5 L420.0,497.7 L420.4,498.0 L420.8,498.2 L421.3,498.4 L421.7,498.5 L422.1,498.7 L422.5,498.9 L422.9,499.1 L423.3,499.3 L423.7,499.5 L424.1,499.7 L424.5,499.8 L424.9,500.0 L425.3,500.2 L425.7,500.3 L426.1,500.5 L426.6,500.6 L427.0,500.8 L427.4,501.0 L427.8,501.1 L428.2,501.2 L428.6,501.4 L429.0,501.5 L429.4,501.7 L429.8,501.8 L430.2,501.9 L430.6,502.1 L431.0,502.2 L431.4,502.3 L431.9,502.4 L432.3,502.6 L432.7,502.7 L433.1,502.8 L433.5,502.9 L433.9,503.0 L434.3,503.1 L434.7,503.2 L435.1,503.3 L435.5,503.4 L435.9,503.5 L436.3,503.6 L436.7,503.7 L437.1,503.8 L437.6,503.9 L438.0,504.0 L438.4,504.1 L438.8,504.2 L439.2,504.2 L439.6,504.3 L440.0,504.4 L440.4,504.5 L440.8,504.5 L441.2,504.6 L441.6,504.7 L442.0,504.7 L442.4,504.8 L442.9,504.9 L443.3,504.9 L443.7,505.0 L444.1,505.0 L444.5,505.1 L444.9,505.1 L445.3,505.2 L445.7,505.2 L446.1,505.3 L446.5,505.3 L446.9,505.4 L447.3,505.4 L447.7,505.4 L448.2,505.5 L448.6,505.5 L449.0,505.5 L449.4,505.6 L449.8,505.6 L450.2,505.6 L450.6,505.7 L451.0,505.7 L451.4,505.7 L451.8,505.7 L452.2,505.8 L452.6,505.8 L453.0,505.8 L453.4,505.8 L453.9,505.8 L454.3,505.8 L454.7,505.9 L455.1,505.9 L455.5,505.9 L455.9,505.9 L456.3,505.9 L456.7,505.9 L457.1,505.9 L457.5,505.9 L457.9,505.9 L458.3,505.9 L458.7,505.9 L459.2,505.9 L459.6,505.9 L460.0,505.9 L460.4,505.9 L460.8,505.9 L461.2,505.9 L461.6,505.9 L462.0,505.9 L462.4,505.9 L462.8,505.8 L463.2,505.8 L463.6,505.8 L464.0,505.8 L464.4,505.8 L464.9,505.8 L465.3,505.8 L465.7,505.7 L466.1,505.7 L466.5,505.7 L466.9,505.7 L467.3,505.6 L467.7,505.6 L468.1,505.6 L468.5,505.6 L468.9,505.5 L469.3,505.5 L469.7,505.5 L470.2,505.5 L470.6,505.4 L471.0,505.4 L471.4,505.4 L471.8,505.3 L472.2,505.3 L472.6,505.3 L473.0,505.2 L473.4,505.2 L473.8,505.2 L474.2,505.1 L474.6,505.1 L475.0,505.1 L475.5,505.0 L475.9,505.0 L476.3,504.9 L476.7,504.9 L477.1,504.9 L477.5,504.8 L477.9,504.8 L478.3,504.7 L478.7,504.7 L479.1,504.7 L479.5,504.6 L479.9,504.6 L480.3,504.5 L480.7,504.5 L481.2,504.4 L481.6,504.4 L482.0,504.3 L482.4,504.3 L482.8,504.2 L483.2,504.2 L483.6,504.1 L484.0,504.1 L484.4,504.0 L484.8,504.0 L485.2,503.9 L485.6,503.9 L486.0,503.8 L486.5,503.8 L486.9,503.7 L487.3,503.7 L487.7,503.6 L488.1,503.5 L488.5,503.5 L488.9,503.4 L489.3,503.4 L489.7,503.3 L490.1,503.3 L490.5,503.2 L490.9,503.1 L491.3,503.1 L491.8,503.0 L492.2,503.0 L492.6,502.9 L493.0,502.9 L493.4,502.8 L493.8,502.7 L494.2,502.7 L494.6,502.6 L495.0,502.5 L495.4,502.5 L495.8,502.4 L496.2,502.4 L496.6,502.3 L497.0,502.2 L497.5,502.2 L497.9,502.1 L498.3,502.0 L498.7,502.0 L499.1,501.9 L499.5,501.8 L499.9,501.8 L500.3,501.7 L500.7,501.7 L501.1,501.6 L501.5,501.5 L501.9,501.5 L502.3,501.4 L502.8,501.3 L503.2,501.3 L503.6,501.2 L504.0,501.1 L504.4,501.0 L504.8,501.0 L505.2,500.9 L505.6,500.8 L506.0,500.8 L506.4,500.7 L506.8,500.6 L507.2,500.6 L507.6,500.5 L508.0,500.4 L508.5,500.4 L508.9,500.3 L509.3,500.2 L509.7,500.1 L510.1,500.1 L510.5,500.0 L510.9,499.9 L511.3,499.9 L511.7,499.8 L512.1,499.7 L512.5,499.6 L512.9,499.6 L513.3,499.5 L513.8,499.4 L514.2,499.4 L514.6,499.3 L515.0,499.2 L515.4,499.1 L515.8,499.1 L516.2,499.0 L516.6,498.9 L517.0,498.8 L517.4,498.8 L517.8,498.7 L518.2,498.6 L518.6,498.5 L519.1,498.5 L519.5,498.4 L519.9,498.3 L520.3,498.3 L520.7,498.2 L521.1,498.1 L521.5,498.0 L521.9,498.0 L522.3,497.9 L522.7,497.8 L523.1,497.7 L523.5,497.6 L523.9,497.6 L524.3,497.5 L524.8,497.4 L525.2,497.3 L525.6,497.3 L526.0,497.2 L526.4,497.1 L526.8,497.0 L527.2,497.0 L527.6,496.9 L528.0,496.8 L528.4,496.7 L528.8,496.7 L529.2,496.6 L529.6,496.5 L530.1,496.4 L530.5,496.4 L530.9,496.3 L531.3,496.2 L531.7,496.1 L532.1,496.0 L532.5,496.0 L532.9,495.9 L533.3,495.8 L533.7,495.7 L534.1,495.7 L534.5,495.6 L534.9,495.5 L535.4,495.4 L535.8,495.3 L536.2,495.3 L536.6,495.2 L537.0,495.1 L537.4,495.0 L537.8,495.0 L538.2,494.9 L538.6,494.8 L539.0,494.7 L539.4,494.6 L539.8,494.6 L540.2,494.5 L540.6,494.4 L541.1,494.3 L541.5,494.2 L541.9,494.2 L542.3,494.1 L542.7,494.0 L543.1,493.9 L543.5,493.9" stroke="#00ff00"/>
</g>
<text x="529.60" y="533.90" class="xl">x</text>
<text id="td0" x="356.86" y="305.00" class="tt" textLength="14.07" lengthAdjust="spacingAndGlyphs">(<tspan font-weight="bold">d</tspan>)</text>
<text id="td1" x="374.88" y="305.00" class="tt" textLength="37.00" lengthAdjust="spacingAndGlyphs">(<tspan font-style="italic">γ</tspan>,&#8201;<tspan font-style="italic">δ</tspan>,&#8201;<tspan font-style="italic">b</tspan>)</text>
<text id="td2" x="416.19" y="306.40" class="tt teq" textLength="10.00" lengthAdjust="spacingAndGlyphs">=</text>
<text id="td3" x="429.71" y="305.00" class="tt" textLength="44.41" lengthAdjust="spacingAndGlyphs">(2,&#8201;3,&#8201;0.2)</text>
<text id="ltd" x="324.96" y="330.90" class="lt" textLength="40.43" lengthAdjust="spacingAndGlyphs"><tspan font-style="italic">F</tspan><tspan font-style="italic" font-size="72%" dy="2.4" dx="0.4">b</tspan><tspan dy="-2.4" dx="1.0">(x;</tspan><tspan font-style="italic">γ</tspan>,<tspan font-style="italic">δ</tspan>,b)</text>
<line x1="325.10" y1="343.10" x2="343.50" y2="343.10" stroke="#ff0000" stroke-width="1.9"/>
<text id="lgd0" x="348.99" y="347.10" class="lg" textLength="14.23" lengthAdjust="spacingAndGlyphs">r<tspan dx="0.8">=</tspan><tspan dx="0.8">2</tspan></text>
<line x1="325.10" y1="359.80" x2="343.50" y2="359.80" stroke="#ff8000" stroke-width="1.9"/>
<text id="lgd1" x="350.00" y="363.80" class="lg" textLength="57.47" lengthAdjust="spacingAndGlyphs">r<tspan dx="0.8">=</tspan><tspan dx="0.8">6.5238763</tspan><tspan dx="0.2">...</tspan></text>
<line x1="325.10" y1="376.40" x2="343.50" y2="376.40" stroke="#0000ff" stroke-width="1.9"/>
<text id="lgd2" x="348.92" y="380.40" class="lg" textLength="19.40" lengthAdjust="spacingAndGlyphs">r<tspan dx="0.8">=</tspan><tspan dx="0.8">12</tspan></text>
<line x1="325.10" y1="393.00" x2="343.50" y2="393.00" stroke="#00ff00" stroke-width="1.9"/>
<text id="lgd3" x="349.02" y="397.00" class="lg" textLength="19.08" lengthAdjust="spacingAndGlyphs">r<tspan dx="0.8">=</tspan><tspan dx="0.8">25</tspan></text>
</svg>
</body></html>
